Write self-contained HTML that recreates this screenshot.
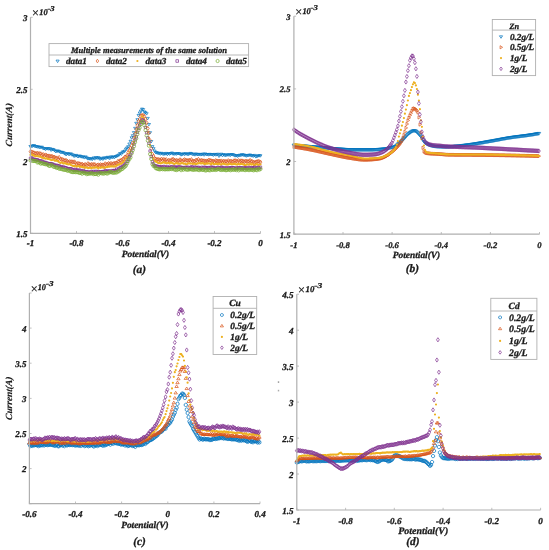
<!DOCTYPE html>
<html><head><meta charset="utf-8"><title>Figure</title>
<style>html,body{margin:0;padding:0;background:#fff;}body{width:549px;height:550px;overflow:hidden;}svg{display:block;}</style>
</head><body>
<svg width="549" height="550" viewBox="0 0 549 550"><path d="M28.9 145.5h3.1l-1.6 2.4zM30.1 145.1h3.1l-1.6 2.4zM31.2 145.1h3.1l-1.6 2.4zM32.4 144.5h3.1l-1.6 2.4zM33.5 145.4h3.1l-1.6 2.4zM34.7 145.6h3.1l-1.6 2.4zM35.8 145.9h3.1l-1.6 2.4zM37 145.9h3.1l-1.6 2.4zM38.1 146.4h3.1l-1.6 2.4zM39.3 146.4h3.1l-1.6 2.4zM40.4 146.2h3.1l-1.6 2.4zM41.6 147.4h3.1l-1.6 2.4zM42.7 147.6h3.1l-1.6 2.4zM43.9 148.2h3.1l-1.6 2.4zM45 147.7h3.1l-1.6 2.4zM46.2 147.7h3.1l-1.6 2.4zM47.3 147.9h3.1l-1.6 2.4zM48.5 147.7h3.1l-1.6 2.4zM49.6 149.1h3.1l-1.6 2.4zM50.8 148.4h3.1l-1.6 2.4zM51.9 148.7h3.1l-1.6 2.4zM53.1 149.4h3.1l-1.6 2.4zM54.2 150.5h3.1l-1.6 2.4zM55.4 150.2h3.1l-1.6 2.4zM56.5 150h3.1l-1.6 2.4zM57.7 150.4h3.1l-1.6 2.4zM58.8 151.3h3.1l-1.6 2.4zM60 151.3h3.1l-1.6 2.4zM61.1 151.4h3.1l-1.6 2.4zM62.3 151.9h3.1l-1.6 2.4zM63.4 152.7h3.1l-1.6 2.4zM64.6 153.6h3.1l-1.6 2.4zM65.7 152.5h3.1l-1.6 2.4zM66.9 153.1h3.1l-1.6 2.4zM68 153.3h3.1l-1.6 2.4zM69.2 152.8h3.1l-1.6 2.4zM70.3 153.8h3.1l-1.6 2.4zM71.5 154h3.1l-1.6 2.4zM72.6 155.2h3.1l-1.6 2.4zM73.8 154.8h3.1l-1.6 2.4zM74.9 154.4h3.1l-1.6 2.4zM76.1 155.6h3.1l-1.6 2.4zM77.2 155.4h3.1l-1.6 2.4zM78.4 155h3.1l-1.6 2.4zM79.5 155.7h3.1l-1.6 2.4zM80.7 155.9h3.1l-1.6 2.4zM81.8 156h3.1l-1.6 2.4zM83 156.7h3.1l-1.6 2.4zM84.1 155.9h3.1l-1.6 2.4zM85.3 156.9h3.1l-1.6 2.4zM86.4 157.7h3.1l-1.6 2.4zM87.6 157.7h3.1l-1.6 2.4zM88.7 157.9h3.1l-1.6 2.4zM89.9 157.9h3.1l-1.6 2.4zM91 158.1h3.1l-1.6 2.4zM92.2 156.9h3.1l-1.6 2.4zM93.3 157.8h3.1l-1.6 2.4zM94.5 156.6h3.1l-1.6 2.4zM95.6 157.2h3.1l-1.6 2.4zM96.8 156.6h3.1l-1.6 2.4zM97.9 157.9h3.1l-1.6 2.4zM99.1 158h3.1l-1.6 2.4zM100.2 157.3h3.1l-1.6 2.4zM101.4 158.1h3.1l-1.6 2.4zM102.5 156.9h3.1l-1.6 2.4zM103.7 157.2h3.1l-1.6 2.4zM104.8 157h3.1l-1.6 2.4zM106 156.3h3.1l-1.6 2.4zM107.1 156.8h3.1l-1.6 2.4zM108.3 157.3h3.1l-1.6 2.4zM109.4 155.8h3.1l-1.6 2.4zM110.6 156.5h3.1l-1.6 2.4zM111.7 155.9h3.1l-1.6 2.4zM112.9 156.5h3.1l-1.6 2.4zM114 155.6h3.1l-1.6 2.4zM115.2 155.2h3.1l-1.6 2.4zM116.3 154.7h3.1l-1.6 2.4zM117.5 153.9h3.1l-1.6 2.4zM118.6 152.5h3.1l-1.6 2.4zM119.8 153.1h3.1l-1.6 2.4zM120.9 151.1h3.1l-1.6 2.4zM122.1 150.9h3.1l-1.6 2.4zM123.2 150.1h3.1l-1.6 2.4zM124.4 148.2h3.1l-1.6 2.4zM125.5 147h3.1l-1.6 2.4zM126.7 145.7h3.1l-1.6 2.4zM127.8 143h3.1l-1.6 2.4zM129 140.3h3.1l-1.6 2.4zM130.1 136.8h3.1l-1.6 2.4zM131.3 134.7h3.1l-1.6 2.4zM132.4 131.6h3.1l-1.6 2.4zM133.6 127.3h3.1l-1.6 2.4zM134.7 122.3h3.1l-1.6 2.4zM135.9 118.7h3.1l-1.6 2.4zM137 114.4h3.1l-1.6 2.4zM138.2 112h3.1l-1.6 2.4zM139.3 110.1h3.1l-1.6 2.4zM140.5 108.1h3.1l-1.6 2.4zM141.6 108.6h3.1l-1.6 2.4zM142.8 110.9h3.1l-1.6 2.4zM143.9 111.7h3.1l-1.6 2.4zM145.1 112.7h3.1l-1.6 2.4zM146.2 117.4h3.1l-1.6 2.4zM147.4 123.5h3.1l-1.6 2.4zM148.5 131.7h3.1l-1.6 2.4zM149.7 140.5h3.1l-1.6 2.4zM150.8 145.6h3.1l-1.6 2.4zM152 147.7h3.1l-1.6 2.4zM153.1 150.1h3.1l-1.6 2.4zM154.3 151.6h3.1l-1.6 2.4zM155.4 151.8h3.1l-1.6 2.4zM156.6 152.3h3.1l-1.6 2.4zM157.7 152.3h3.1l-1.6 2.4zM158.9 152.9h3.1l-1.6 2.4zM160 152.3h3.1l-1.6 2.4zM161.2 152.9h3.1l-1.6 2.4zM162.3 153.1h3.1l-1.6 2.4zM163.5 152.9h3.1l-1.6 2.4zM164.6 152.4h3.1l-1.6 2.4zM165.8 153.4h3.1l-1.6 2.4zM166.9 152.5h3.1l-1.6 2.4zM168.1 153h3.1l-1.6 2.4zM169.2 152.5h3.1l-1.6 2.4zM170.4 152h3.1l-1.6 2.4zM171.5 152.9h3.1l-1.6 2.4zM172.7 153h3.1l-1.6 2.4zM173.8 152.8h3.1l-1.6 2.4zM175 153h3.1l-1.6 2.4zM176.1 152.6h3.1l-1.6 2.4zM177.3 152.6h3.1l-1.6 2.4zM178.4 152.9h3.1l-1.6 2.4zM179.6 153.8h3.1l-1.6 2.4zM180.7 153.4h3.1l-1.6 2.4zM181.9 152.8h3.1l-1.6 2.4zM183 153.3h3.1l-1.6 2.4zM184.2 152.8h3.1l-1.6 2.4zM185.3 152.9h3.1l-1.6 2.4zM186.5 153.5h3.1l-1.6 2.4zM187.6 152.9h3.1l-1.6 2.4zM188.8 152.4h3.1l-1.6 2.4zM189.9 152.8h3.1l-1.6 2.4zM191.1 153.2h3.1l-1.6 2.4zM192.2 153.3h3.1l-1.6 2.4zM193.4 153.8h3.1l-1.6 2.4zM194.5 152.9h3.1l-1.6 2.4zM195.7 153.6h3.1l-1.6 2.4zM196.8 153.5h3.1l-1.6 2.4zM198 153.3h3.1l-1.6 2.4zM199.1 153.7h3.1l-1.6 2.4zM200.3 153.6h3.1l-1.6 2.4zM201.4 153h3.1l-1.6 2.4zM202.6 153.9h3.1l-1.6 2.4zM203.7 152.9h3.1l-1.6 2.4zM204.9 153.5h3.1l-1.6 2.4zM206 153.5h3.1l-1.6 2.4zM207.2 153.8h3.1l-1.6 2.4zM208.3 153.3h3.1l-1.6 2.4zM209.5 153.6h3.1l-1.6 2.4zM210.6 153.6h3.1l-1.6 2.4zM211.8 154.1h3.1l-1.6 2.4zM212.9 153.4h3.1l-1.6 2.4zM214.1 153.8h3.1l-1.6 2.4zM215.2 153.7h3.1l-1.6 2.4zM216.4 153.2h3.1l-1.6 2.4zM217.5 155.1h3.1l-1.6 2.4zM218.7 153.8h3.1l-1.6 2.4zM219.8 153.2h3.1l-1.6 2.4zM221 154.6h3.1l-1.6 2.4zM222.1 153.5h3.1l-1.6 2.4zM223.3 154.2h3.1l-1.6 2.4zM224.4 154.4h3.1l-1.6 2.4zM225.6 153.8h3.1l-1.6 2.4zM226.7 153.9h3.1l-1.6 2.4zM227.9 153.9h3.1l-1.6 2.4zM229 154.1h3.1l-1.6 2.4zM230.2 153.5h3.1l-1.6 2.4zM231.3 153.7h3.1l-1.6 2.4zM232.5 154.2h3.1l-1.6 2.4zM233.6 154.8h3.1l-1.6 2.4zM234.8 154.6h3.1l-1.6 2.4zM235.9 155.1h3.1l-1.6 2.4zM237.1 154.7h3.1l-1.6 2.4zM238.2 154.2h3.1l-1.6 2.4zM239.4 154.4h3.1l-1.6 2.4zM240.5 153.6h3.1l-1.6 2.4zM241.7 154.1h3.1l-1.6 2.4zM242.8 154.1h3.1l-1.6 2.4zM244 154.7h3.1l-1.6 2.4zM245.1 154.9h3.1l-1.6 2.4zM246.3 154.4h3.1l-1.6 2.4zM247.4 154.4h3.1l-1.6 2.4zM248.6 154h3.1l-1.6 2.4zM249.7 154.7h3.1l-1.6 2.4zM250.9 154.8h3.1l-1.6 2.4zM252 155h3.1l-1.6 2.4zM253.2 154.4h3.1l-1.6 2.4zM254.3 155.7h3.1l-1.6 2.4zM255.5 155.4h3.1l-1.6 2.4zM256.6 154.8h3.1l-1.6 2.4zM257.8 154.7h3.1l-1.6 2.4zM258.9 154.8h3.1l-1.6 2.4z" stroke="#0072BD" stroke-width="0.7" fill="none"/>
<path d="M30.5 149.7l1.4 2 -1.4 2 -1.4 -2zM31.6 149.9l1.4 2 -1.4 2 -1.4 -2zM32.8 150.4l1.4 2 -1.4 2 -1.4 -2zM33.9 150.8l1.4 2 -1.4 2 -1.4 -2zM35.1 151.3l1.4 2 -1.4 2 -1.4 -2zM36.2 151.5l1.4 2 -1.4 2 -1.4 -2zM37.4 151.2l1.4 2 -1.4 2 -1.4 -2zM38.5 151.7l1.4 2 -1.4 2 -1.4 -2zM39.7 151.6l1.4 2 -1.4 2 -1.4 -2zM40.8 151.8l1.4 2 -1.4 2 -1.4 -2zM42 153.2l1.4 2 -1.4 2 -1.4 -2zM43.1 152.4l1.4 2 -1.4 2 -1.4 -2zM44.3 153.7l1.4 2 -1.4 2 -1.4 -2zM45.4 152.9l1.4 2 -1.4 2 -1.4 -2zM46.6 153.4l1.4 2 -1.4 2 -1.4 -2zM47.7 154.1l1.4 2 -1.4 2 -1.4 -2zM48.9 153.9l1.4 2 -1.4 2 -1.4 -2zM50 154.3l1.4 2 -1.4 2 -1.4 -2zM51.2 154.3l1.4 2 -1.4 2 -1.4 -2zM52.3 154.5l1.4 2 -1.4 2 -1.4 -2zM53.5 155l1.4 2 -1.4 2 -1.4 -2zM54.6 155.1l1.4 2 -1.4 2 -1.4 -2zM55.8 156.4l1.4 2 -1.4 2 -1.4 -2zM56.9 155.9l1.4 2 -1.4 2 -1.4 -2zM58.1 157.1l1.4 2 -1.4 2 -1.4 -2zM59.2 155.4l1.4 2 -1.4 2 -1.4 -2zM60.4 157l1.4 2 -1.4 2 -1.4 -2zM61.5 157.5l1.4 2 -1.4 2 -1.4 -2zM62.7 157.5l1.4 2 -1.4 2 -1.4 -2zM63.8 158.4l1.4 2 -1.4 2 -1.4 -2zM65 158.5l1.4 2 -1.4 2 -1.4 -2zM66.1 158.4l1.4 2 -1.4 2 -1.4 -2zM67.3 159.1l1.4 2 -1.4 2 -1.4 -2zM68.4 160.4l1.4 2 -1.4 2 -1.4 -2zM69.6 159.6l1.4 2 -1.4 2 -1.4 -2zM70.7 159.8l1.4 2 -1.4 2 -1.4 -2zM71.9 159.7l1.4 2 -1.4 2 -1.4 -2zM73 160.2l1.4 2 -1.4 2 -1.4 -2zM74.2 159.8l1.4 2 -1.4 2 -1.4 -2zM75.3 160.6l1.4 2 -1.4 2 -1.4 -2zM76.5 162l1.4 2 -1.4 2 -1.4 -2zM77.6 161.5l1.4 2 -1.4 2 -1.4 -2zM78.8 161.5l1.4 2 -1.4 2 -1.4 -2zM79.9 161.9l1.4 2 -1.4 2 -1.4 -2zM81.1 162.5l1.4 2 -1.4 2 -1.4 -2zM82.2 162.1l1.4 2 -1.4 2 -1.4 -2zM83.4 163l1.4 2 -1.4 2 -1.4 -2zM84.5 162.7l1.4 2 -1.4 2 -1.4 -2zM85.7 162.5l1.4 2 -1.4 2 -1.4 -2zM86.8 163.3l1.4 2 -1.4 2 -1.4 -2zM88 161.6l1.4 2 -1.4 2 -1.4 -2zM89.1 162.5l1.4 2 -1.4 2 -1.4 -2zM90.3 162.9l1.4 2 -1.4 2 -1.4 -2zM91.4 162.4l1.4 2 -1.4 2 -1.4 -2zM92.6 162.7l1.4 2 -1.4 2 -1.4 -2zM93.7 162.5l1.4 2 -1.4 2 -1.4 -2zM94.9 162.5l1.4 2 -1.4 2 -1.4 -2zM96 164l1.4 2 -1.4 2 -1.4 -2zM97.2 163.1l1.4 2 -1.4 2 -1.4 -2zM98.3 162.8l1.4 2 -1.4 2 -1.4 -2zM99.5 163.4l1.4 2 -1.4 2 -1.4 -2zM100.6 162.6l1.4 2 -1.4 2 -1.4 -2zM101.8 163.1l1.4 2 -1.4 2 -1.4 -2zM102.9 162.8l1.4 2 -1.4 2 -1.4 -2zM104.1 163.2l1.4 2 -1.4 2 -1.4 -2zM105.2 161.7l1.4 2 -1.4 2 -1.4 -2zM106.4 162.6l1.4 2 -1.4 2 -1.4 -2zM107.5 162.2l1.4 2 -1.4 2 -1.4 -2zM108.7 161.4l1.4 2 -1.4 2 -1.4 -2zM109.8 162.3l1.4 2 -1.4 2 -1.4 -2zM111 161.3l1.4 2 -1.4 2 -1.4 -2zM112.1 162.3l1.4 2 -1.4 2 -1.4 -2zM113.3 161.6l1.4 2 -1.4 2 -1.4 -2zM114.4 161.5l1.4 2 -1.4 2 -1.4 -2zM115.6 161l1.4 2 -1.4 2 -1.4 -2zM116.7 161l1.4 2 -1.4 2 -1.4 -2zM117.9 159.3l1.4 2 -1.4 2 -1.4 -2zM119 159.6l1.4 2 -1.4 2 -1.4 -2zM120.2 158.6l1.4 2 -1.4 2 -1.4 -2zM121.3 158.4l1.4 2 -1.4 2 -1.4 -2zM122.5 157.4l1.4 2 -1.4 2 -1.4 -2zM123.6 156.8l1.4 2 -1.4 2 -1.4 -2zM124.8 155.1l1.4 2 -1.4 2 -1.4 -2zM125.9 154.9l1.4 2 -1.4 2 -1.4 -2zM127.1 153.4l1.4 2 -1.4 2 -1.4 -2zM128.2 150.4l1.4 2 -1.4 2 -1.4 -2zM129.4 148.4l1.4 2 -1.4 2 -1.4 -2zM130.5 146.2l1.4 2 -1.4 2 -1.4 -2zM131.7 143.7l1.4 2 -1.4 2 -1.4 -2zM132.8 140.9l1.4 2 -1.4 2 -1.4 -2zM134 136l1.4 2 -1.4 2 -1.4 -2zM135.1 131.9l1.4 2 -1.4 2 -1.4 -2zM136.3 127.3l1.4 2 -1.4 2 -1.4 -2zM137.4 123.2l1.4 2 -1.4 2 -1.4 -2zM138.6 119.2l1.4 2 -1.4 2 -1.4 -2zM139.7 117.1l1.4 2 -1.4 2 -1.4 -2zM140.9 113.8l1.4 2 -1.4 2 -1.4 -2zM142 113.3l1.4 2 -1.4 2 -1.4 -2zM143.2 113.4l1.4 2 -1.4 2 -1.4 -2zM144.3 114.3l1.4 2 -1.4 2 -1.4 -2zM145.5 117.1l1.4 2 -1.4 2 -1.4 -2zM146.6 120.7l1.4 2 -1.4 2 -1.4 -2zM147.8 126.4l1.4 2 -1.4 2 -1.4 -2zM148.9 130.9l1.4 2 -1.4 2 -1.4 -2zM150.1 138.5l1.4 2 -1.4 2 -1.4 -2zM151.2 146.7l1.4 2 -1.4 2 -1.4 -2zM152.4 152.2l1.4 2 -1.4 2 -1.4 -2zM153.5 154l1.4 2 -1.4 2 -1.4 -2zM154.7 156.5l1.4 2 -1.4 2 -1.4 -2zM155.8 157l1.4 2 -1.4 2 -1.4 -2zM157 157.6l1.4 2 -1.4 2 -1.4 -2zM158.1 157.3l1.4 2 -1.4 2 -1.4 -2zM159.3 157.8l1.4 2 -1.4 2 -1.4 -2zM160.4 157.9l1.4 2 -1.4 2 -1.4 -2zM161.6 157l1.4 2 -1.4 2 -1.4 -2zM162.7 158.2l1.4 2 -1.4 2 -1.4 -2zM163.9 157.3l1.4 2 -1.4 2 -1.4 -2zM165 158.1l1.4 2 -1.4 2 -1.4 -2zM166.2 157.5l1.4 2 -1.4 2 -1.4 -2zM167.3 159.1l1.4 2 -1.4 2 -1.4 -2zM168.5 158.3l1.4 2 -1.4 2 -1.4 -2zM169.6 158.6l1.4 2 -1.4 2 -1.4 -2zM170.8 158.6l1.4 2 -1.4 2 -1.4 -2zM171.9 157.7l1.4 2 -1.4 2 -1.4 -2zM173.1 157.2l1.4 2 -1.4 2 -1.4 -2zM174.2 158.1l1.4 2 -1.4 2 -1.4 -2zM175.4 158.7l1.4 2 -1.4 2 -1.4 -2zM176.5 158.4l1.4 2 -1.4 2 -1.4 -2zM177.7 158.7l1.4 2 -1.4 2 -1.4 -2zM178.8 158.8l1.4 2 -1.4 2 -1.4 -2zM180 157.7l1.4 2 -1.4 2 -1.4 -2zM181.1 158.5l1.4 2 -1.4 2 -1.4 -2zM182.3 159.3l1.4 2 -1.4 2 -1.4 -2zM183.4 158.2l1.4 2 -1.4 2 -1.4 -2zM184.6 157.6l1.4 2 -1.4 2 -1.4 -2zM185.7 158.4l1.4 2 -1.4 2 -1.4 -2zM186.9 158.3l1.4 2 -1.4 2 -1.4 -2zM188 158.7l1.4 2 -1.4 2 -1.4 -2zM189.2 158.1l1.4 2 -1.4 2 -1.4 -2zM190.3 158.6l1.4 2 -1.4 2 -1.4 -2zM191.5 157.6l1.4 2 -1.4 2 -1.4 -2zM192.6 159l1.4 2 -1.4 2 -1.4 -2zM193.8 159.3l1.4 2 -1.4 2 -1.4 -2zM194.9 159.2l1.4 2 -1.4 2 -1.4 -2zM196.1 158l1.4 2 -1.4 2 -1.4 -2zM197.2 158.8l1.4 2 -1.4 2 -1.4 -2zM198.4 157.3l1.4 2 -1.4 2 -1.4 -2zM199.5 158.8l1.4 2 -1.4 2 -1.4 -2zM200.7 158.7l1.4 2 -1.4 2 -1.4 -2zM201.8 158.3l1.4 2 -1.4 2 -1.4 -2zM203 158.9l1.4 2 -1.4 2 -1.4 -2zM204.1 158.8l1.4 2 -1.4 2 -1.4 -2zM205.3 159.2l1.4 2 -1.4 2 -1.4 -2zM206.4 158.9l1.4 2 -1.4 2 -1.4 -2zM207.6 159l1.4 2 -1.4 2 -1.4 -2zM208.7 158l1.4 2 -1.4 2 -1.4 -2zM209.9 158.4l1.4 2 -1.4 2 -1.4 -2zM211 158.7l1.4 2 -1.4 2 -1.4 -2zM212.2 159.1l1.4 2 -1.4 2 -1.4 -2zM213.3 159l1.4 2 -1.4 2 -1.4 -2zM214.5 159.7l1.4 2 -1.4 2 -1.4 -2zM215.6 158.6l1.4 2 -1.4 2 -1.4 -2zM216.8 158.9l1.4 2 -1.4 2 -1.4 -2zM217.9 159.2l1.4 2 -1.4 2 -1.4 -2zM219.1 159l1.4 2 -1.4 2 -1.4 -2zM220.2 159.3l1.4 2 -1.4 2 -1.4 -2zM221.4 158.9l1.4 2 -1.4 2 -1.4 -2zM222.5 159.8l1.4 2 -1.4 2 -1.4 -2zM223.7 159l1.4 2 -1.4 2 -1.4 -2zM224.8 159.7l1.4 2 -1.4 2 -1.4 -2zM226 159.2l1.4 2 -1.4 2 -1.4 -2zM227.1 159.9l1.4 2 -1.4 2 -1.4 -2zM228.3 158.6l1.4 2 -1.4 2 -1.4 -2zM229.4 159.5l1.4 2 -1.4 2 -1.4 -2zM230.6 159.1l1.4 2 -1.4 2 -1.4 -2zM231.7 159.4l1.4 2 -1.4 2 -1.4 -2zM232.9 159.8l1.4 2 -1.4 2 -1.4 -2zM234 158.8l1.4 2 -1.4 2 -1.4 -2zM235.2 158.7l1.4 2 -1.4 2 -1.4 -2zM236.3 158.9l1.4 2 -1.4 2 -1.4 -2zM237.5 159.5l1.4 2 -1.4 2 -1.4 -2zM238.6 158.5l1.4 2 -1.4 2 -1.4 -2zM239.8 159.5l1.4 2 -1.4 2 -1.4 -2zM240.9 158.8l1.4 2 -1.4 2 -1.4 -2zM242.1 158.9l1.4 2 -1.4 2 -1.4 -2zM243.2 159.3l1.4 2 -1.4 2 -1.4 -2zM244.4 159.7l1.4 2 -1.4 2 -1.4 -2zM245.5 159.2l1.4 2 -1.4 2 -1.4 -2zM246.7 159.3l1.4 2 -1.4 2 -1.4 -2zM247.8 159.5l1.4 2 -1.4 2 -1.4 -2zM249 159.4l1.4 2 -1.4 2 -1.4 -2zM250.1 158.4l1.4 2 -1.4 2 -1.4 -2zM251.3 159.4l1.4 2 -1.4 2 -1.4 -2zM252.4 159.6l1.4 2 -1.4 2 -1.4 -2zM253.6 160.1l1.4 2 -1.4 2 -1.4 -2zM254.7 160.6l1.4 2 -1.4 2 -1.4 -2zM255.9 160l1.4 2 -1.4 2 -1.4 -2zM257 159.7l1.4 2 -1.4 2 -1.4 -2zM258.2 159.3l1.4 2 -1.4 2 -1.4 -2zM259.3 159.7l1.4 2 -1.4 2 -1.4 -2zM260.5 160.1l1.4 2 -1.4 2 -1.4 -2z" stroke="#D95319" stroke-width="0.7" fill="none"/>
<path d="M30.5 154.9h0.01M31.6 154.5h0.01M32.8 155.2h0.01M33.9 155.7h0.01M35.1 156.3h0.01M36.2 156.1h0.01M37.4 156.1h0.01M38.5 156.3h0.01M39.7 156.7h0.01M40.8 156.9h0.01M42 157.7h0.01M43.1 158.1h0.01M44.3 158.2h0.01M45.4 158.7h0.01M46.6 158.4h0.01M47.7 158.9h0.01M48.9 159h0.01M50 159.4h0.01M51.2 160.1h0.01M52.3 160h0.01M53.5 159.7h0.01M54.6 160.6h0.01M55.8 160.7h0.01M56.9 160.8h0.01M58.1 161.4h0.01M59.2 162.3h0.01M60.4 162.9h0.01M61.5 162.4h0.01M62.7 163.2h0.01M63.8 163.6h0.01M65 163.1h0.01M66.1 163.8h0.01M67.3 164.1h0.01M68.4 164.5h0.01M69.6 164.1h0.01M70.7 164.8h0.01M71.9 165.5h0.01M73 165.9h0.01M74.2 166.3h0.01M75.3 165.7h0.01M76.5 166.7h0.01M77.6 166.5h0.01M78.8 166h0.01M79.9 166.9h0.01M81.1 166.7h0.01M82.2 167.2h0.01M83.4 167.2h0.01M84.5 167.8h0.01M85.7 167.6h0.01M86.8 167.6h0.01M88 168.1h0.01M89.1 167.9h0.01M90.3 167.7h0.01M91.4 168.3h0.01M92.6 167.7h0.01M93.7 167.7h0.01M94.9 167.7h0.01M96 167.3h0.01M97.2 167.6h0.01M98.3 168.5h0.01M99.5 167.5h0.01M100.6 167.8h0.01M101.8 167.3h0.01M102.9 167.4h0.01M104.1 168h0.01M105.2 167.7h0.01M106.4 167h0.01M107.5 167.1h0.01M108.7 166.7h0.01M109.8 166.6h0.01M111 166.4h0.01M112.1 166.3h0.01M113.3 166.6h0.01M114.4 166.6h0.01M115.6 166.3h0.01M116.7 165.7h0.01M117.9 164.8h0.01M119 164.7h0.01M120.2 163.8h0.01M121.3 163.8h0.01M122.5 162.8h0.01M123.6 161.9h0.01M124.8 160.4h0.01M125.9 158.5h0.01M127.1 157.8h0.01M128.2 156h0.01M129.4 153h0.01M130.5 151.1h0.01M131.7 148.4h0.01M132.8 144.4h0.01M134 141.8h0.01M135.1 136.8h0.01M136.3 132.2h0.01M137.4 129.2h0.01M138.6 125.1h0.01M139.7 121.5h0.01M140.9 119.3h0.01M142 116.3h0.01M143.2 118.1h0.01M144.3 119.3h0.01M145.5 123.1h0.01M146.6 127h0.01M147.8 132.4h0.01M148.9 137.9h0.01M150.1 145.2h0.01M151.2 152.5h0.01M152.4 157.3h0.01M153.5 159.4h0.01M154.7 161h0.01M155.8 161.7h0.01M157 162.2h0.01M158.1 163.1h0.01M159.3 162.8h0.01M160.4 163.4h0.01M161.6 163.2h0.01M162.7 162.7h0.01M163.9 162.4h0.01M165 162.9h0.01M166.2 163.3h0.01M167.3 163.2h0.01M168.5 162.9h0.01M169.6 163.6h0.01M170.8 162.7h0.01M171.9 162.9h0.01M173.1 163.4h0.01M174.2 164.1h0.01M175.4 163.5h0.01M176.5 163.1h0.01M177.7 163.6h0.01M178.8 163.7h0.01M180 163.8h0.01M181.1 163.3h0.01M182.3 163.2h0.01M183.4 163.6h0.01M184.6 163.7h0.01M185.7 164.1h0.01M186.9 164.3h0.01M188 163.3h0.01M189.2 163.4h0.01M190.3 163.6h0.01M191.5 163.5h0.01M192.6 163.8h0.01M193.8 163.8h0.01M194.9 163.8h0.01M196.1 164.2h0.01M197.2 163.7h0.01M198.4 163.4h0.01M199.5 163.2h0.01M200.7 163.4h0.01M201.8 163.4h0.01M203 163.1h0.01M204.1 164h0.01M205.3 163.9h0.01M206.4 163.7h0.01M207.6 163.6h0.01M208.7 163.3h0.01M209.9 163.6h0.01M211 164.6h0.01M212.2 163.2h0.01M213.3 164h0.01M214.5 164.2h0.01M215.6 164h0.01M216.8 163.9h0.01M217.9 164.3h0.01M219.1 163.7h0.01M220.2 164.3h0.01M221.4 164.6h0.01M222.5 163.7h0.01M223.7 163.8h0.01M224.8 164.2h0.01M226 164.5h0.01M227.1 164.6h0.01M228.3 164.4h0.01M229.4 163.9h0.01M230.6 163.8h0.01M231.7 164.3h0.01M232.9 164.3h0.01M234 163.8h0.01M235.2 164.2h0.01M236.3 164.4h0.01M237.5 164.6h0.01M238.6 163.9h0.01M239.8 164.5h0.01M240.9 163.9h0.01M242.1 164.1h0.01M243.2 164.3h0.01M244.4 164.9h0.01M245.5 165.5h0.01M246.7 164.4h0.01M247.8 164.5h0.01M249 164.7h0.01M250.1 163.9h0.01M251.3 164.7h0.01M252.4 164h0.01M253.6 165h0.01M254.7 164.9h0.01M255.9 164.6h0.01M257 164.2h0.01M258.2 165h0.01M259.3 164.6h0.01M260.5 164.5h0.01" stroke="#EDB120" stroke-width="2.2" stroke-linecap="round" fill="none"/>
<path d="M29.3 157.1h2.4v2.4h-2.4zM30.4 156.6h2.4v2.4h-2.4zM31.6 157.7h2.4v2.4h-2.4zM32.7 158.2h2.4v2.4h-2.4zM33.9 158.3h2.4v2.4h-2.4zM35 158.6h2.4v2.4h-2.4zM36.2 158.5h2.4v2.4h-2.4zM37.3 159.4h2.4v2.4h-2.4zM38.5 159.6h2.4v2.4h-2.4zM39.6 159.8h2.4v2.4h-2.4zM40.8 159.9h2.4v2.4h-2.4zM41.9 160.7h2.4v2.4h-2.4zM43.1 161.2h2.4v2.4h-2.4zM44.2 161.2h2.4v2.4h-2.4zM45.4 161.7h2.4v2.4h-2.4zM46.5 162.1h2.4v2.4h-2.4zM47.7 162.5h2.4v2.4h-2.4zM48.8 162.4h2.4v2.4h-2.4zM50 162.5h2.4v2.4h-2.4zM51.1 162.8h2.4v2.4h-2.4zM52.3 163.3h2.4v2.4h-2.4zM53.4 163.8h2.4v2.4h-2.4zM54.6 164.3h2.4v2.4h-2.4zM55.7 164.1h2.4v2.4h-2.4zM56.9 164.7h2.4v2.4h-2.4zM58 164.6h2.4v2.4h-2.4zM59.2 165.7h2.4v2.4h-2.4zM60.3 165.4h2.4v2.4h-2.4zM61.5 166h2.4v2.4h-2.4zM62.6 165.9h2.4v2.4h-2.4zM63.8 166.4h2.4v2.4h-2.4zM64.9 166.5h2.4v2.4h-2.4zM66.1 167.6h2.4v2.4h-2.4zM67.2 167.4h2.4v2.4h-2.4zM68.4 167.5h2.4v2.4h-2.4zM69.5 167.5h2.4v2.4h-2.4zM70.7 167.9h2.4v2.4h-2.4zM71.8 168.5h2.4v2.4h-2.4zM73 169.1h2.4v2.4h-2.4zM74.1 168.2h2.4v2.4h-2.4zM75.3 168.6h2.4v2.4h-2.4zM76.4 169.1h2.4v2.4h-2.4zM77.6 169.1h2.4v2.4h-2.4zM78.7 168.9h2.4v2.4h-2.4zM79.9 169.7h2.4v2.4h-2.4zM81 170.1h2.4v2.4h-2.4zM82.2 169.4h2.4v2.4h-2.4zM83.3 170.2h2.4v2.4h-2.4zM84.5 170.6h2.4v2.4h-2.4zM85.6 170.7h2.4v2.4h-2.4zM86.8 170.4h2.4v2.4h-2.4zM87.9 171.4h2.4v2.4h-2.4zM89.1 170.8h2.4v2.4h-2.4zM90.2 170.3h2.4v2.4h-2.4zM91.4 170.9h2.4v2.4h-2.4zM92.5 170.2h2.4v2.4h-2.4zM93.7 170.8h2.4v2.4h-2.4zM94.8 170.1h2.4v2.4h-2.4zM96 170.8h2.4v2.4h-2.4zM97.1 170.3h2.4v2.4h-2.4zM98.3 170.8h2.4v2.4h-2.4zM99.4 170.6h2.4v2.4h-2.4zM100.6 170.5h2.4v2.4h-2.4zM101.7 170.3h2.4v2.4h-2.4zM102.9 170.5h2.4v2.4h-2.4zM104 169.4h2.4v2.4h-2.4zM105.2 170h2.4v2.4h-2.4zM106.3 169.9h2.4v2.4h-2.4zM107.5 169.8h2.4v2.4h-2.4zM108.6 169.8h2.4v2.4h-2.4zM109.8 170.7h2.4v2.4h-2.4zM110.9 169.4h2.4v2.4h-2.4zM112.1 169.5h2.4v2.4h-2.4zM113.2 169.2h2.4v2.4h-2.4zM114.4 169.5h2.4v2.4h-2.4zM115.5 167.9h2.4v2.4h-2.4zM116.7 168.8h2.4v2.4h-2.4zM117.8 167.4h2.4v2.4h-2.4zM119 166.3h2.4v2.4h-2.4zM120.1 166h2.4v2.4h-2.4zM121.3 165.4h2.4v2.4h-2.4zM122.4 164.6h2.4v2.4h-2.4zM123.6 163.3h2.4v2.4h-2.4zM124.7 162.2h2.4v2.4h-2.4zM125.9 160.1h2.4v2.4h-2.4zM127 158.2h2.4v2.4h-2.4zM128.2 155.4h2.4v2.4h-2.4zM129.3 153.9h2.4v2.4h-2.4zM130.5 150.8h2.4v2.4h-2.4zM131.6 147h2.4v2.4h-2.4zM132.8 142.8h2.4v2.4h-2.4zM133.9 138.7h2.4v2.4h-2.4zM135.1 135.6h2.4v2.4h-2.4zM136.2 131.1h2.4v2.4h-2.4zM137.4 127.3h2.4v2.4h-2.4zM138.5 123.8h2.4v2.4h-2.4zM139.7 121.3h2.4v2.4h-2.4zM140.8 118.7h2.4v2.4h-2.4zM142 119.1h2.4v2.4h-2.4zM143.1 121.4h2.4v2.4h-2.4zM144.3 126.1h2.4v2.4h-2.4zM145.4 131.5h2.4v2.4h-2.4zM146.6 136.6h2.4v2.4h-2.4zM147.7 142.1h2.4v2.4h-2.4zM148.9 149.8h2.4v2.4h-2.4zM150 155.4h2.4v2.4h-2.4zM151.2 160.6h2.4v2.4h-2.4zM152.3 162.8h2.4v2.4h-2.4zM153.5 164.5h2.4v2.4h-2.4zM154.6 164.9h2.4v2.4h-2.4zM155.8 164.9h2.4v2.4h-2.4zM156.9 165.4h2.4v2.4h-2.4zM158.1 165.5h2.4v2.4h-2.4zM159.2 165.8h2.4v2.4h-2.4zM160.4 165.7h2.4v2.4h-2.4zM161.5 165.9h2.4v2.4h-2.4zM162.7 165.2h2.4v2.4h-2.4zM163.8 165.9h2.4v2.4h-2.4zM165 166.3h2.4v2.4h-2.4zM166.1 165.4h2.4v2.4h-2.4zM167.3 166.5h2.4v2.4h-2.4zM168.4 166h2.4v2.4h-2.4zM169.6 165.9h2.4v2.4h-2.4zM170.7 165.4h2.4v2.4h-2.4zM171.9 166.4h2.4v2.4h-2.4zM173 165.7h2.4v2.4h-2.4zM174.2 165.9h2.4v2.4h-2.4zM175.3 166.3h2.4v2.4h-2.4zM176.5 165.8h2.4v2.4h-2.4zM177.6 165.8h2.4v2.4h-2.4zM178.8 165.8h2.4v2.4h-2.4zM179.9 166.1h2.4v2.4h-2.4zM181.1 166.4h2.4v2.4h-2.4zM182.2 166.4h2.4v2.4h-2.4zM183.4 166.4h2.4v2.4h-2.4zM184.5 166.1h2.4v2.4h-2.4zM185.7 166.3h2.4v2.4h-2.4zM186.8 166h2.4v2.4h-2.4zM188 167h2.4v2.4h-2.4zM189.1 166.4h2.4v2.4h-2.4zM190.3 165.6h2.4v2.4h-2.4zM191.4 165.9h2.4v2.4h-2.4zM192.6 166.9h2.4v2.4h-2.4zM193.7 165.9h2.4v2.4h-2.4zM194.9 166.2h2.4v2.4h-2.4zM196 166.5h2.4v2.4h-2.4zM197.2 166h2.4v2.4h-2.4zM198.3 166.8h2.4v2.4h-2.4zM199.5 167h2.4v2.4h-2.4zM200.6 166.1h2.4v2.4h-2.4zM201.8 166.8h2.4v2.4h-2.4zM202.9 166.1h2.4v2.4h-2.4zM204.1 166.1h2.4v2.4h-2.4zM205.2 166.6h2.4v2.4h-2.4zM206.4 166.6h2.4v2.4h-2.4zM207.5 166.3h2.4v2.4h-2.4zM208.7 166.8h2.4v2.4h-2.4zM209.8 166h2.4v2.4h-2.4zM211 166.2h2.4v2.4h-2.4zM212.1 166.2h2.4v2.4h-2.4zM213.3 166.8h2.4v2.4h-2.4zM214.4 166.9h2.4v2.4h-2.4zM215.6 166.8h2.4v2.4h-2.4zM216.7 166.1h2.4v2.4h-2.4zM217.9 166.7h2.4v2.4h-2.4zM219 166.8h2.4v2.4h-2.4zM220.2 166.1h2.4v2.4h-2.4zM221.3 166.3h2.4v2.4h-2.4zM222.5 166.9h2.4v2.4h-2.4zM223.6 166.9h2.4v2.4h-2.4zM224.8 166.7h2.4v2.4h-2.4zM225.9 166.9h2.4v2.4h-2.4zM227.1 166.8h2.4v2.4h-2.4zM228.2 166.7h2.4v2.4h-2.4zM229.4 166.6h2.4v2.4h-2.4zM230.5 166.4h2.4v2.4h-2.4zM231.7 166.6h2.4v2.4h-2.4zM232.8 166.5h2.4v2.4h-2.4zM234 167.5h2.4v2.4h-2.4zM235.1 166.8h2.4v2.4h-2.4zM236.3 166.7h2.4v2.4h-2.4zM237.4 166.6h2.4v2.4h-2.4zM238.6 166.7h2.4v2.4h-2.4zM239.7 166.6h2.4v2.4h-2.4zM240.9 166.9h2.4v2.4h-2.4zM242 166.7h2.4v2.4h-2.4zM243.2 167h2.4v2.4h-2.4zM244.3 166.5h2.4v2.4h-2.4zM245.5 166.9h2.4v2.4h-2.4zM246.6 167h2.4v2.4h-2.4zM247.8 166.3h2.4v2.4h-2.4zM248.9 166.8h2.4v2.4h-2.4zM250.1 166.8h2.4v2.4h-2.4zM251.2 166.6h2.4v2.4h-2.4zM252.4 166.6h2.4v2.4h-2.4zM253.5 166.1h2.4v2.4h-2.4zM254.7 167.2h2.4v2.4h-2.4zM255.8 166.4h2.4v2.4h-2.4zM257 166.3h2.4v2.4h-2.4zM258.1 167h2.4v2.4h-2.4zM259.3 166.1h2.4v2.4h-2.4z" stroke="#7E2F8E" stroke-width="0.7" fill="none"/>
<path d="M28.9 160.4a1.6 1.6 0 1 0 3.2 0a1.6 1.6 0 1 0 -3.2 0M30 160.5a1.6 1.6 0 1 0 3.2 0a1.6 1.6 0 1 0 -3.2 0M31.2 160.9a1.6 1.6 0 1 0 3.2 0a1.6 1.6 0 1 0 -3.2 0M32.3 161a1.6 1.6 0 1 0 3.2 0a1.6 1.6 0 1 0 -3.2 0M33.5 160.9a1.6 1.6 0 1 0 3.2 0a1.6 1.6 0 1 0 -3.2 0M34.6 161a1.6 1.6 0 1 0 3.2 0a1.6 1.6 0 1 0 -3.2 0M35.8 162.6a1.6 1.6 0 1 0 3.2 0a1.6 1.6 0 1 0 -3.2 0M36.9 162.2a1.6 1.6 0 1 0 3.2 0a1.6 1.6 0 1 0 -3.2 0M38.1 162.5a1.6 1.6 0 1 0 3.2 0a1.6 1.6 0 1 0 -3.2 0M39.2 163.7a1.6 1.6 0 1 0 3.2 0a1.6 1.6 0 1 0 -3.2 0M40.4 163.1a1.6 1.6 0 1 0 3.2 0a1.6 1.6 0 1 0 -3.2 0M41.5 163.6a1.6 1.6 0 1 0 3.2 0a1.6 1.6 0 1 0 -3.2 0M42.7 163.9a1.6 1.6 0 1 0 3.2 0a1.6 1.6 0 1 0 -3.2 0M43.8 164.3a1.6 1.6 0 1 0 3.2 0a1.6 1.6 0 1 0 -3.2 0M45 164.2a1.6 1.6 0 1 0 3.2 0a1.6 1.6 0 1 0 -3.2 0M46.1 164.7a1.6 1.6 0 1 0 3.2 0a1.6 1.6 0 1 0 -3.2 0M47.3 165.8a1.6 1.6 0 1 0 3.2 0a1.6 1.6 0 1 0 -3.2 0M48.4 165.9a1.6 1.6 0 1 0 3.2 0a1.6 1.6 0 1 0 -3.2 0M49.6 164.8a1.6 1.6 0 1 0 3.2 0a1.6 1.6 0 1 0 -3.2 0M50.7 165.5a1.6 1.6 0 1 0 3.2 0a1.6 1.6 0 1 0 -3.2 0M51.9 166.8a1.6 1.6 0 1 0 3.2 0a1.6 1.6 0 1 0 -3.2 0M53 166.9a1.6 1.6 0 1 0 3.2 0a1.6 1.6 0 1 0 -3.2 0M54.2 167.2a1.6 1.6 0 1 0 3.2 0a1.6 1.6 0 1 0 -3.2 0M55.3 168.1a1.6 1.6 0 1 0 3.2 0a1.6 1.6 0 1 0 -3.2 0M56.5 167.3a1.6 1.6 0 1 0 3.2 0a1.6 1.6 0 1 0 -3.2 0M57.6 168.8a1.6 1.6 0 1 0 3.2 0a1.6 1.6 0 1 0 -3.2 0M58.8 168.7a1.6 1.6 0 1 0 3.2 0a1.6 1.6 0 1 0 -3.2 0M59.9 169.1a1.6 1.6 0 1 0 3.2 0a1.6 1.6 0 1 0 -3.2 0M61.1 169.3a1.6 1.6 0 1 0 3.2 0a1.6 1.6 0 1 0 -3.2 0M62.2 169.9a1.6 1.6 0 1 0 3.2 0a1.6 1.6 0 1 0 -3.2 0M63.4 169.7a1.6 1.6 0 1 0 3.2 0a1.6 1.6 0 1 0 -3.2 0M64.5 169.9a1.6 1.6 0 1 0 3.2 0a1.6 1.6 0 1 0 -3.2 0M65.7 170.7a1.6 1.6 0 1 0 3.2 0a1.6 1.6 0 1 0 -3.2 0M66.8 170.7a1.6 1.6 0 1 0 3.2 0a1.6 1.6 0 1 0 -3.2 0M68 170.4a1.6 1.6 0 1 0 3.2 0a1.6 1.6 0 1 0 -3.2 0M69.1 171.7a1.6 1.6 0 1 0 3.2 0a1.6 1.6 0 1 0 -3.2 0M70.3 171.9a1.6 1.6 0 1 0 3.2 0a1.6 1.6 0 1 0 -3.2 0M71.4 172.2a1.6 1.6 0 1 0 3.2 0a1.6 1.6 0 1 0 -3.2 0M72.6 171.9a1.6 1.6 0 1 0 3.2 0a1.6 1.6 0 1 0 -3.2 0M73.7 172.2a1.6 1.6 0 1 0 3.2 0a1.6 1.6 0 1 0 -3.2 0M74.9 172.1a1.6 1.6 0 1 0 3.2 0a1.6 1.6 0 1 0 -3.2 0M76 172.1a1.6 1.6 0 1 0 3.2 0a1.6 1.6 0 1 0 -3.2 0M77.2 172.7a1.6 1.6 0 1 0 3.2 0a1.6 1.6 0 1 0 -3.2 0M78.3 172.9a1.6 1.6 0 1 0 3.2 0a1.6 1.6 0 1 0 -3.2 0M79.5 172.7a1.6 1.6 0 1 0 3.2 0a1.6 1.6 0 1 0 -3.2 0M80.6 173.8a1.6 1.6 0 1 0 3.2 0a1.6 1.6 0 1 0 -3.2 0M81.8 172.6a1.6 1.6 0 1 0 3.2 0a1.6 1.6 0 1 0 -3.2 0M82.9 173.1a1.6 1.6 0 1 0 3.2 0a1.6 1.6 0 1 0 -3.2 0M84.1 173.3a1.6 1.6 0 1 0 3.2 0a1.6 1.6 0 1 0 -3.2 0M85.2 174.2a1.6 1.6 0 1 0 3.2 0a1.6 1.6 0 1 0 -3.2 0M86.4 173.6a1.6 1.6 0 1 0 3.2 0a1.6 1.6 0 1 0 -3.2 0M87.5 173.7a1.6 1.6 0 1 0 3.2 0a1.6 1.6 0 1 0 -3.2 0M88.7 173.4a1.6 1.6 0 1 0 3.2 0a1.6 1.6 0 1 0 -3.2 0M89.8 173.5a1.6 1.6 0 1 0 3.2 0a1.6 1.6 0 1 0 -3.2 0M91 173.3a1.6 1.6 0 1 0 3.2 0a1.6 1.6 0 1 0 -3.2 0M92.1 174.2a1.6 1.6 0 1 0 3.2 0a1.6 1.6 0 1 0 -3.2 0M93.3 174a1.6 1.6 0 1 0 3.2 0a1.6 1.6 0 1 0 -3.2 0M94.4 174.1a1.6 1.6 0 1 0 3.2 0a1.6 1.6 0 1 0 -3.2 0M95.6 173.4a1.6 1.6 0 1 0 3.2 0a1.6 1.6 0 1 0 -3.2 0M96.7 174.7a1.6 1.6 0 1 0 3.2 0a1.6 1.6 0 1 0 -3.2 0M97.9 173.2a1.6 1.6 0 1 0 3.2 0a1.6 1.6 0 1 0 -3.2 0M99 172.8a1.6 1.6 0 1 0 3.2 0a1.6 1.6 0 1 0 -3.2 0M100.2 173.4a1.6 1.6 0 1 0 3.2 0a1.6 1.6 0 1 0 -3.2 0M101.3 173.5a1.6 1.6 0 1 0 3.2 0a1.6 1.6 0 1 0 -3.2 0M102.5 173.6a1.6 1.6 0 1 0 3.2 0a1.6 1.6 0 1 0 -3.2 0M103.6 172.8a1.6 1.6 0 1 0 3.2 0a1.6 1.6 0 1 0 -3.2 0M104.8 173.3a1.6 1.6 0 1 0 3.2 0a1.6 1.6 0 1 0 -3.2 0M105.9 173.6a1.6 1.6 0 1 0 3.2 0a1.6 1.6 0 1 0 -3.2 0M107.1 172.5a1.6 1.6 0 1 0 3.2 0a1.6 1.6 0 1 0 -3.2 0M108.2 172.4a1.6 1.6 0 1 0 3.2 0a1.6 1.6 0 1 0 -3.2 0M109.4 171.9a1.6 1.6 0 1 0 3.2 0a1.6 1.6 0 1 0 -3.2 0M110.5 172.6a1.6 1.6 0 1 0 3.2 0a1.6 1.6 0 1 0 -3.2 0M111.7 172.8a1.6 1.6 0 1 0 3.2 0a1.6 1.6 0 1 0 -3.2 0M112.8 172.7a1.6 1.6 0 1 0 3.2 0a1.6 1.6 0 1 0 -3.2 0M114 172.5a1.6 1.6 0 1 0 3.2 0a1.6 1.6 0 1 0 -3.2 0M115.1 172.5a1.6 1.6 0 1 0 3.2 0a1.6 1.6 0 1 0 -3.2 0M116.3 171.5a1.6 1.6 0 1 0 3.2 0a1.6 1.6 0 1 0 -3.2 0M117.4 171.3a1.6 1.6 0 1 0 3.2 0a1.6 1.6 0 1 0 -3.2 0M118.6 170a1.6 1.6 0 1 0 3.2 0a1.6 1.6 0 1 0 -3.2 0M119.7 169.4a1.6 1.6 0 1 0 3.2 0a1.6 1.6 0 1 0 -3.2 0M120.9 168.9a1.6 1.6 0 1 0 3.2 0a1.6 1.6 0 1 0 -3.2 0M122 167.5a1.6 1.6 0 1 0 3.2 0a1.6 1.6 0 1 0 -3.2 0M123.2 166.8a1.6 1.6 0 1 0 3.2 0a1.6 1.6 0 1 0 -3.2 0M124.3 165.7a1.6 1.6 0 1 0 3.2 0a1.6 1.6 0 1 0 -3.2 0M125.5 163.5a1.6 1.6 0 1 0 3.2 0a1.6 1.6 0 1 0 -3.2 0M126.6 161.1a1.6 1.6 0 1 0 3.2 0a1.6 1.6 0 1 0 -3.2 0M127.8 159.1a1.6 1.6 0 1 0 3.2 0a1.6 1.6 0 1 0 -3.2 0M128.9 157.4a1.6 1.6 0 1 0 3.2 0a1.6 1.6 0 1 0 -3.2 0M130.1 153.3a1.6 1.6 0 1 0 3.2 0a1.6 1.6 0 1 0 -3.2 0M131.2 150.2a1.6 1.6 0 1 0 3.2 0a1.6 1.6 0 1 0 -3.2 0M132.4 146.3a1.6 1.6 0 1 0 3.2 0a1.6 1.6 0 1 0 -3.2 0M133.5 142.2a1.6 1.6 0 1 0 3.2 0a1.6 1.6 0 1 0 -3.2 0M134.7 138.5a1.6 1.6 0 1 0 3.2 0a1.6 1.6 0 1 0 -3.2 0M135.8 134.2a1.6 1.6 0 1 0 3.2 0a1.6 1.6 0 1 0 -3.2 0M137 130.2a1.6 1.6 0 1 0 3.2 0a1.6 1.6 0 1 0 -3.2 0M138.1 127.7a1.6 1.6 0 1 0 3.2 0a1.6 1.6 0 1 0 -3.2 0M139.3 124.1a1.6 1.6 0 1 0 3.2 0a1.6 1.6 0 1 0 -3.2 0M140.4 122a1.6 1.6 0 1 0 3.2 0a1.6 1.6 0 1 0 -3.2 0M141.6 122.3a1.6 1.6 0 1 0 3.2 0a1.6 1.6 0 1 0 -3.2 0M142.7 125.3a1.6 1.6 0 1 0 3.2 0a1.6 1.6 0 1 0 -3.2 0M143.9 130.2a1.6 1.6 0 1 0 3.2 0a1.6 1.6 0 1 0 -3.2 0M145 135.6a1.6 1.6 0 1 0 3.2 0a1.6 1.6 0 1 0 -3.2 0M146.2 140.7a1.6 1.6 0 1 0 3.2 0a1.6 1.6 0 1 0 -3.2 0M147.3 145.7a1.6 1.6 0 1 0 3.2 0a1.6 1.6 0 1 0 -3.2 0M148.5 154.1a1.6 1.6 0 1 0 3.2 0a1.6 1.6 0 1 0 -3.2 0M149.6 159a1.6 1.6 0 1 0 3.2 0a1.6 1.6 0 1 0 -3.2 0M150.8 164.2a1.6 1.6 0 1 0 3.2 0a1.6 1.6 0 1 0 -3.2 0M151.9 166a1.6 1.6 0 1 0 3.2 0a1.6 1.6 0 1 0 -3.2 0M153.1 166.5a1.6 1.6 0 1 0 3.2 0a1.6 1.6 0 1 0 -3.2 0M154.2 168.2a1.6 1.6 0 1 0 3.2 0a1.6 1.6 0 1 0 -3.2 0M155.4 168.7a1.6 1.6 0 1 0 3.2 0a1.6 1.6 0 1 0 -3.2 0M156.5 168.9a1.6 1.6 0 1 0 3.2 0a1.6 1.6 0 1 0 -3.2 0M157.7 169.4a1.6 1.6 0 1 0 3.2 0a1.6 1.6 0 1 0 -3.2 0M158.8 169.2a1.6 1.6 0 1 0 3.2 0a1.6 1.6 0 1 0 -3.2 0M160 168.7a1.6 1.6 0 1 0 3.2 0a1.6 1.6 0 1 0 -3.2 0M161.1 169.3a1.6 1.6 0 1 0 3.2 0a1.6 1.6 0 1 0 -3.2 0M162.3 168.9a1.6 1.6 0 1 0 3.2 0a1.6 1.6 0 1 0 -3.2 0M163.4 169.5a1.6 1.6 0 1 0 3.2 0a1.6 1.6 0 1 0 -3.2 0M164.6 169.1a1.6 1.6 0 1 0 3.2 0a1.6 1.6 0 1 0 -3.2 0M165.7 169.3a1.6 1.6 0 1 0 3.2 0a1.6 1.6 0 1 0 -3.2 0M166.9 169.2a1.6 1.6 0 1 0 3.2 0a1.6 1.6 0 1 0 -3.2 0M168 169.2a1.6 1.6 0 1 0 3.2 0a1.6 1.6 0 1 0 -3.2 0M169.2 168.6a1.6 1.6 0 1 0 3.2 0a1.6 1.6 0 1 0 -3.2 0M170.3 169.2a1.6 1.6 0 1 0 3.2 0a1.6 1.6 0 1 0 -3.2 0M171.5 168.3a1.6 1.6 0 1 0 3.2 0a1.6 1.6 0 1 0 -3.2 0M172.6 169.5a1.6 1.6 0 1 0 3.2 0a1.6 1.6 0 1 0 -3.2 0M173.8 169.7a1.6 1.6 0 1 0 3.2 0a1.6 1.6 0 1 0 -3.2 0M174.9 170.1a1.6 1.6 0 1 0 3.2 0a1.6 1.6 0 1 0 -3.2 0M176.1 169.5a1.6 1.6 0 1 0 3.2 0a1.6 1.6 0 1 0 -3.2 0M177.2 169.1a1.6 1.6 0 1 0 3.2 0a1.6 1.6 0 1 0 -3.2 0M178.4 168.7a1.6 1.6 0 1 0 3.2 0a1.6 1.6 0 1 0 -3.2 0M179.5 170.2a1.6 1.6 0 1 0 3.2 0a1.6 1.6 0 1 0 -3.2 0M180.7 168.8a1.6 1.6 0 1 0 3.2 0a1.6 1.6 0 1 0 -3.2 0M181.8 169.8a1.6 1.6 0 1 0 3.2 0a1.6 1.6 0 1 0 -3.2 0M183 168.5a1.6 1.6 0 1 0 3.2 0a1.6 1.6 0 1 0 -3.2 0M184.1 169.4a1.6 1.6 0 1 0 3.2 0a1.6 1.6 0 1 0 -3.2 0M185.3 169.7a1.6 1.6 0 1 0 3.2 0a1.6 1.6 0 1 0 -3.2 0M186.4 169.6a1.6 1.6 0 1 0 3.2 0a1.6 1.6 0 1 0 -3.2 0M187.6 169.5a1.6 1.6 0 1 0 3.2 0a1.6 1.6 0 1 0 -3.2 0M188.7 169.2a1.6 1.6 0 1 0 3.2 0a1.6 1.6 0 1 0 -3.2 0M189.9 169.2a1.6 1.6 0 1 0 3.2 0a1.6 1.6 0 1 0 -3.2 0M191 169.9a1.6 1.6 0 1 0 3.2 0a1.6 1.6 0 1 0 -3.2 0M192.2 169.7a1.6 1.6 0 1 0 3.2 0a1.6 1.6 0 1 0 -3.2 0M193.3 169.5a1.6 1.6 0 1 0 3.2 0a1.6 1.6 0 1 0 -3.2 0M194.5 169.6a1.6 1.6 0 1 0 3.2 0a1.6 1.6 0 1 0 -3.2 0M195.6 169.2a1.6 1.6 0 1 0 3.2 0a1.6 1.6 0 1 0 -3.2 0M196.8 170a1.6 1.6 0 1 0 3.2 0a1.6 1.6 0 1 0 -3.2 0M197.9 170.1a1.6 1.6 0 1 0 3.2 0a1.6 1.6 0 1 0 -3.2 0M199.1 169.3a1.6 1.6 0 1 0 3.2 0a1.6 1.6 0 1 0 -3.2 0M200.2 169.7a1.6 1.6 0 1 0 3.2 0a1.6 1.6 0 1 0 -3.2 0M201.4 170a1.6 1.6 0 1 0 3.2 0a1.6 1.6 0 1 0 -3.2 0M202.5 169.4a1.6 1.6 0 1 0 3.2 0a1.6 1.6 0 1 0 -3.2 0M203.7 170.5a1.6 1.6 0 1 0 3.2 0a1.6 1.6 0 1 0 -3.2 0M204.8 170.3a1.6 1.6 0 1 0 3.2 0a1.6 1.6 0 1 0 -3.2 0M206 169.6a1.6 1.6 0 1 0 3.2 0a1.6 1.6 0 1 0 -3.2 0M207.1 170.1a1.6 1.6 0 1 0 3.2 0a1.6 1.6 0 1 0 -3.2 0M208.3 170.4a1.6 1.6 0 1 0 3.2 0a1.6 1.6 0 1 0 -3.2 0M209.4 169.2a1.6 1.6 0 1 0 3.2 0a1.6 1.6 0 1 0 -3.2 0M210.6 170a1.6 1.6 0 1 0 3.2 0a1.6 1.6 0 1 0 -3.2 0M211.7 169.7a1.6 1.6 0 1 0 3.2 0a1.6 1.6 0 1 0 -3.2 0M212.9 169.6a1.6 1.6 0 1 0 3.2 0a1.6 1.6 0 1 0 -3.2 0M214 170a1.6 1.6 0 1 0 3.2 0a1.6 1.6 0 1 0 -3.2 0M215.2 169.6a1.6 1.6 0 1 0 3.2 0a1.6 1.6 0 1 0 -3.2 0M216.3 169.2a1.6 1.6 0 1 0 3.2 0a1.6 1.6 0 1 0 -3.2 0M217.5 169.2a1.6 1.6 0 1 0 3.2 0a1.6 1.6 0 1 0 -3.2 0M218.6 169.8a1.6 1.6 0 1 0 3.2 0a1.6 1.6 0 1 0 -3.2 0M219.8 170a1.6 1.6 0 1 0 3.2 0a1.6 1.6 0 1 0 -3.2 0M220.9 169.8a1.6 1.6 0 1 0 3.2 0a1.6 1.6 0 1 0 -3.2 0M222.1 169.7a1.6 1.6 0 1 0 3.2 0a1.6 1.6 0 1 0 -3.2 0M223.2 169.8a1.6 1.6 0 1 0 3.2 0a1.6 1.6 0 1 0 -3.2 0M224.4 170.3a1.6 1.6 0 1 0 3.2 0a1.6 1.6 0 1 0 -3.2 0M225.5 170a1.6 1.6 0 1 0 3.2 0a1.6 1.6 0 1 0 -3.2 0M226.7 169.5a1.6 1.6 0 1 0 3.2 0a1.6 1.6 0 1 0 -3.2 0M227.8 169.7a1.6 1.6 0 1 0 3.2 0a1.6 1.6 0 1 0 -3.2 0M229 170.3a1.6 1.6 0 1 0 3.2 0a1.6 1.6 0 1 0 -3.2 0M230.1 169.6a1.6 1.6 0 1 0 3.2 0a1.6 1.6 0 1 0 -3.2 0M231.3 169.6a1.6 1.6 0 1 0 3.2 0a1.6 1.6 0 1 0 -3.2 0M232.4 169.8a1.6 1.6 0 1 0 3.2 0a1.6 1.6 0 1 0 -3.2 0M233.6 169.4a1.6 1.6 0 1 0 3.2 0a1.6 1.6 0 1 0 -3.2 0M234.7 170.2a1.6 1.6 0 1 0 3.2 0a1.6 1.6 0 1 0 -3.2 0M235.9 168.9a1.6 1.6 0 1 0 3.2 0a1.6 1.6 0 1 0 -3.2 0M237 170.4a1.6 1.6 0 1 0 3.2 0a1.6 1.6 0 1 0 -3.2 0M238.2 169.6a1.6 1.6 0 1 0 3.2 0a1.6 1.6 0 1 0 -3.2 0M239.3 169.3a1.6 1.6 0 1 0 3.2 0a1.6 1.6 0 1 0 -3.2 0M240.5 169.9a1.6 1.6 0 1 0 3.2 0a1.6 1.6 0 1 0 -3.2 0M241.6 169.1a1.6 1.6 0 1 0 3.2 0a1.6 1.6 0 1 0 -3.2 0M242.8 170a1.6 1.6 0 1 0 3.2 0a1.6 1.6 0 1 0 -3.2 0M243.9 170.1a1.6 1.6 0 1 0 3.2 0a1.6 1.6 0 1 0 -3.2 0M245.1 169.6a1.6 1.6 0 1 0 3.2 0a1.6 1.6 0 1 0 -3.2 0M246.2 169.6a1.6 1.6 0 1 0 3.2 0a1.6 1.6 0 1 0 -3.2 0M247.4 170.2a1.6 1.6 0 1 0 3.2 0a1.6 1.6 0 1 0 -3.2 0M248.5 169.5a1.6 1.6 0 1 0 3.2 0a1.6 1.6 0 1 0 -3.2 0M249.7 169.8a1.6 1.6 0 1 0 3.2 0a1.6 1.6 0 1 0 -3.2 0M250.8 169.9a1.6 1.6 0 1 0 3.2 0a1.6 1.6 0 1 0 -3.2 0M252 170.4a1.6 1.6 0 1 0 3.2 0a1.6 1.6 0 1 0 -3.2 0M253.1 169.6a1.6 1.6 0 1 0 3.2 0a1.6 1.6 0 1 0 -3.2 0M254.3 169.8a1.6 1.6 0 1 0 3.2 0a1.6 1.6 0 1 0 -3.2 0M255.4 170.3a1.6 1.6 0 1 0 3.2 0a1.6 1.6 0 1 0 -3.2 0M256.6 168.8a1.6 1.6 0 1 0 3.2 0a1.6 1.6 0 1 0 -3.2 0M257.7 169.7a1.6 1.6 0 1 0 3.2 0a1.6 1.6 0 1 0 -3.2 0M258.9 169a1.6 1.6 0 1 0 3.2 0a1.6 1.6 0 1 0 -3.2 0" stroke="#77AC30" stroke-width="0.7" fill="none"/>
<path d="M30.5 17.3V233.3H260.5" stroke="#b0b0b0" stroke-width="1.2" fill="none"/>
<path d="M30.5 233.3v-2.2M76.5 233.3v-2.2M122.5 233.3v-2.2M168.5 233.3v-2.2M214.5 233.3v-2.2M260.5 233.3v-2.2M30.5 233.3h2.2M30.5 161.3h2.2M30.5 89.3h2.2M30.5 17.3h2.2" stroke="#b0b0b0" stroke-width="0.8" fill="none"/>
<text x="30.5" y="245.7" font-size="9" text-anchor="middle" font-family="'Liberation Serif', 'Times New Roman', serif" font-weight="bold" font-style="italic" stroke="#1a1a1a" stroke-width="0.3" text-rendering="geometricPrecision" fill="#1a1a1a">-1</text>
<text x="76.5" y="245.7" font-size="9" text-anchor="middle" font-family="'Liberation Serif', 'Times New Roman', serif" font-weight="bold" font-style="italic" stroke="#1a1a1a" stroke-width="0.3" text-rendering="geometricPrecision" fill="#1a1a1a">-0.8</text>
<text x="122.5" y="245.7" font-size="9" text-anchor="middle" font-family="'Liberation Serif', 'Times New Roman', serif" font-weight="bold" font-style="italic" stroke="#1a1a1a" stroke-width="0.3" text-rendering="geometricPrecision" fill="#1a1a1a">-0.6</text>
<text x="168.5" y="245.7" font-size="9" text-anchor="middle" font-family="'Liberation Serif', 'Times New Roman', serif" font-weight="bold" font-style="italic" stroke="#1a1a1a" stroke-width="0.3" text-rendering="geometricPrecision" fill="#1a1a1a">-0.4</text>
<text x="214.5" y="245.7" font-size="9" text-anchor="middle" font-family="'Liberation Serif', 'Times New Roman', serif" font-weight="bold" font-style="italic" stroke="#1a1a1a" stroke-width="0.3" text-rendering="geometricPrecision" fill="#1a1a1a">-0.2</text>
<text x="260.5" y="245.7" font-size="9" text-anchor="middle" font-family="'Liberation Serif', 'Times New Roman', serif" font-weight="bold" font-style="italic" stroke="#1a1a1a" stroke-width="0.3" text-rendering="geometricPrecision" fill="#1a1a1a">0</text>
<text x="27.5" y="236.9" font-size="9" text-anchor="end" font-family="'Liberation Serif', 'Times New Roman', serif" font-weight="bold" font-style="italic" stroke="#1a1a1a" stroke-width="0.3" text-rendering="geometricPrecision" fill="#1a1a1a">1.5</text>
<text x="27.5" y="164.9" font-size="9" text-anchor="end" font-family="'Liberation Serif', 'Times New Roman', serif" font-weight="bold" font-style="italic" stroke="#1a1a1a" stroke-width="0.3" text-rendering="geometricPrecision" fill="#1a1a1a">2</text>
<text x="27.5" y="92.9" font-size="9" text-anchor="end" font-family="'Liberation Serif', 'Times New Roman', serif" font-weight="bold" font-style="italic" stroke="#1a1a1a" stroke-width="0.3" text-rendering="geometricPrecision" fill="#1a1a1a">2.5</text>
<text x="27.5" y="20.9" font-size="9" text-anchor="end" font-family="'Liberation Serif', 'Times New Roman', serif" font-weight="bold" font-style="italic" stroke="#1a1a1a" stroke-width="0.3" text-rendering="geometricPrecision" fill="#1a1a1a">3</text>
<text x="32" y="17.3" font-size="12.3" font-family="'Liberation Serif', serif" fill="#1a1a1a" stroke="#1a1a1a" stroke-width="0.25">&#215;</text>
<text x="39.2" y="15" font-size="8.8" font-family="'Liberation Serif', 'Times New Roman', serif" font-weight="bold" font-style="italic" stroke="#1a1a1a" stroke-width="0.3" text-rendering="geometricPrecision" fill="#1a1a1a" textLength="8.4" lengthAdjust="spacingAndGlyphs">10</text>
<text x="47.4" y="11.1" font-size="7.5" font-family="'Liberation Serif', 'Times New Roman', serif" font-weight="bold" font-style="italic" stroke="#1a1a1a" stroke-width="0.3" text-rendering="geometricPrecision" fill="#1a1a1a" textLength="7.2" lengthAdjust="spacingAndGlyphs">-3</text>
<text x="145.5" y="256.8" font-size="9.4" text-anchor="middle" font-family="'Liberation Serif', 'Times New Roman', serif" font-weight="bold" font-style="italic" stroke="#1a1a1a" stroke-width="0.3" text-rendering="geometricPrecision" fill="#1a1a1a">Potential(V)</text>
<text x="0" y="0" font-size="9.4" text-anchor="middle" font-family="'Liberation Serif', 'Times New Roman', serif" font-weight="bold" font-style="italic" stroke="#1a1a1a" stroke-width="0.15" text-rendering="geometricPrecision" fill="#1a1a1a" transform="translate(11.8 125) rotate(-90) skewX(-6)">Current(A)</text>
<text x="139.4" y="272.8" font-size="11.4" text-anchor="middle" font-family="'Liberation Serif', 'Times New Roman', serif" font-weight="bold" font-style="italic" stroke="#1a1a1a" stroke-width="0.3" text-rendering="geometricPrecision" fill="#1a1a1a">(a)</text>
<rect x="49" y="43.6" width="199.6" height="23" fill="#fff" stroke="#b0b0b0" stroke-width="0.9"/>
<path d="M49 55H248.6" stroke="#b0b0b0" stroke-width="0.9"/>
<text x="149" y="52.7" font-size="8.55" text-anchor="middle" font-family="'Liberation Serif', 'Times New Roman', serif" font-weight="bold" font-style="italic" stroke="#1a1a1a" stroke-width="0.3" text-rendering="geometricPrecision" fill="#1a1a1a">Multiple measurements of the same solution</text>
<path d="M56 60.1h3.2l-1.6 2.5z" stroke="#0072BD" stroke-width="0.7" fill="none"/>
<text x="66" y="64.2" font-size="9.2" text-anchor="start" font-family="'Liberation Serif', 'Times New Roman', serif" font-weight="bold" font-style="italic" stroke="#1a1a1a" stroke-width="0.3" text-rendering="geometricPrecision" fill="#1a1a1a">data1</text>
<path d="M97.4 59.2l1.3 1.8 -1.3 1.8 -1.3 -1.8z" stroke="#D95319" stroke-width="0.7" fill="none"/>
<text x="106" y="64.2" font-size="9.2" text-anchor="start" font-family="'Liberation Serif', 'Times New Roman', serif" font-weight="bold" font-style="italic" stroke="#1a1a1a" stroke-width="0.3" text-rendering="geometricPrecision" fill="#1a1a1a">data2</text>
<circle cx="137.4" cy="61" r="1.1" fill="#EDB120"/>
<text x="145.5" y="64.2" font-size="9.2" text-anchor="start" font-family="'Liberation Serif', 'Times New Roman', serif" font-weight="bold" font-style="italic" stroke="#1a1a1a" stroke-width="0.3" text-rendering="geometricPrecision" fill="#1a1a1a">data3</text>
<path d="M175.9 59.7h2.6v2.6h-2.6z" stroke="#7E2F8E" stroke-width="0.7" fill="none"/>
<text x="186" y="64.2" font-size="9.2" text-anchor="start" font-family="'Liberation Serif', 'Times New Roman', serif" font-weight="bold" font-style="italic" stroke="#1a1a1a" stroke-width="0.3" text-rendering="geometricPrecision" fill="#1a1a1a">data4</text>
<path d="M216 61a1.6 1.6 0 1 0 3.2 0a1.6 1.6 0 1 0 -3.2 0" stroke="#77AC30" stroke-width="0.7" fill="none"/>
<text x="226" y="64.2" font-size="9.2" text-anchor="start" font-family="'Liberation Serif', 'Times New Roman', serif" font-weight="bold" font-style="italic" stroke="#1a1a1a" stroke-width="0.3" text-rendering="geometricPrecision" fill="#1a1a1a">data5</text>
<path d="M292.1 144.1h3.6l-1.8 2.8zM293.1 144.2h3.6l-1.8 2.8zM294.1 144.3h3.6l-1.8 2.8zM295.1 144.4h3.6l-1.8 2.8zM296.1 144.4h3.6l-1.8 2.8zM297.1 144.5h3.6l-1.8 2.8zM298.1 144.6h3.6l-1.8 2.8zM299.1 144.7h3.6l-1.8 2.8zM300.1 144.8h3.6l-1.8 2.8zM301.1 144.9h3.6l-1.8 2.8zM302.1 145h3.6l-1.8 2.8zM303.1 145h3.6l-1.8 2.8zM304.1 145.1h3.6l-1.8 2.8zM305.1 145.2h3.6l-1.8 2.8zM306.1 145.3h3.6l-1.8 2.8zM307.1 145.4h3.6l-1.8 2.8zM308.1 145.5h3.6l-1.8 2.8zM309.1 145.5h3.6l-1.8 2.8zM310.1 145.6h3.6l-1.8 2.8zM311.1 145.7h3.6l-1.8 2.8zM312.1 145.8h3.6l-1.8 2.8zM313.1 145.9h3.6l-1.8 2.8zM314.1 146h3.6l-1.8 2.8zM315.1 146h3.6l-1.8 2.8zM316.1 146.1h3.6l-1.8 2.8zM317.1 146.2h3.6l-1.8 2.8zM318.1 146.3h3.6l-1.8 2.8zM319.1 146.4h3.6l-1.8 2.8zM320.1 146.5h3.6l-1.8 2.8zM321.1 146.6h3.6l-1.8 2.8zM322.1 146.7h3.6l-1.8 2.8zM323.1 146.7h3.6l-1.8 2.8zM324.1 146.8h3.6l-1.8 2.8zM325.1 146.9h3.6l-1.8 2.8zM326.1 147h3.6l-1.8 2.8zM327.1 147.1h3.6l-1.8 2.8zM328.1 147.2h3.6l-1.8 2.8zM329.1 147.3h3.6l-1.8 2.8zM330.1 147.4h3.6l-1.8 2.8zM331.1 147.5h3.6l-1.8 2.8zM332.1 147.5h3.6l-1.8 2.8zM333.1 147.6h3.6l-1.8 2.8zM334.1 147.7h3.6l-1.8 2.8zM335.1 147.8h3.6l-1.8 2.8zM336.1 147.9h3.6l-1.8 2.8zM337.1 147.9h3.6l-1.8 2.8zM338.1 148h3.6l-1.8 2.8zM339.1 148.1h3.6l-1.8 2.8zM340.1 148.1h3.6l-1.8 2.8zM341.1 148.2h3.6l-1.8 2.8zM342.1 148.3h3.6l-1.8 2.8zM343.1 148.4h3.6l-1.8 2.8zM344.1 148.4h3.6l-1.8 2.8zM345.1 148.5h3.6l-1.8 2.8zM346.1 148.6h3.6l-1.8 2.8zM347.1 148.6h3.6l-1.8 2.8zM348.1 148.6h3.6l-1.8 2.8zM349.1 148.6h3.6l-1.8 2.8zM350.1 148.6h3.6l-1.8 2.8zM351.1 148.6h3.6l-1.8 2.8zM352.1 148.6h3.6l-1.8 2.8zM353.1 148.7h3.6l-1.8 2.8zM354.1 148.7h3.6l-1.8 2.8zM355.1 148.7h3.6l-1.8 2.8zM356.1 148.7h3.6l-1.8 2.8zM357.1 148.7h3.6l-1.8 2.8zM358.1 148.7h3.6l-1.8 2.8zM359.1 148.7h3.6l-1.8 2.8zM360.1 148.7h3.6l-1.8 2.8zM361.1 148.7h3.6l-1.8 2.8zM362.1 148.7h3.6l-1.8 2.8zM363.1 148.7h3.6l-1.8 2.8zM364.1 148.7h3.6l-1.8 2.8zM365.1 148.7h3.6l-1.8 2.8zM366.1 148.7h3.6l-1.8 2.8zM367.1 148.7h3.6l-1.8 2.8zM368.1 148.7h3.6l-1.8 2.8zM369.1 148.7h3.6l-1.8 2.8zM370.1 148.7h3.6l-1.8 2.8zM371.1 148.7h3.6l-1.8 2.8zM372.1 148.6h3.6l-1.8 2.8zM373.1 148.6h3.6l-1.8 2.8zM374.1 148.5h3.6l-1.8 2.8zM375.1 148.5h3.6l-1.8 2.8zM376.1 148.4h3.6l-1.8 2.8zM377.1 148.4h3.6l-1.8 2.8zM378.1 148.3h3.6l-1.8 2.8zM379.1 148.2h3.6l-1.8 2.8zM380.1 148.1h3.6l-1.8 2.8zM381.1 148h3.6l-1.8 2.8zM382.1 147.9h3.6l-1.8 2.8zM383.1 147.8h3.6l-1.8 2.8zM384.1 147.7h3.6l-1.8 2.8zM385.1 147.5h3.6l-1.8 2.8zM386.1 147.3h3.6l-1.8 2.8zM387.1 147h3.6l-1.8 2.8zM388.1 146.8h3.6l-1.8 2.8zM389.1 146.5h3.6l-1.8 2.8zM390.1 146.3h3.6l-1.8 2.8zM391.1 146.1h3.6l-1.8 2.8zM392.1 145.9h3.6l-1.8 2.8zM393.1 145.5h3.6l-1.8 2.8zM394.1 144.9h3.6l-1.8 2.8zM395.1 144h3.6l-1.8 2.8zM396.1 143.1h3.6l-1.8 2.8zM397.1 142.3h3.6l-1.8 2.8zM398.1 141.5h3.6l-1.8 2.8zM399.1 140.6h3.6l-1.8 2.8zM400.1 139.6h3.6l-1.8 2.8zM401.1 138.6h3.6l-1.8 2.8zM402.1 137.5h3.6l-1.8 2.8zM403.1 136.4h3.6l-1.8 2.8zM404.1 135.3h3.6l-1.8 2.8zM405.1 134.1h3.6l-1.8 2.8zM406.1 133.1h3.6l-1.8 2.8zM407.1 132.3h3.6l-1.8 2.8zM408.1 131.6h3.6l-1.8 2.8zM409.1 130.9h3.6l-1.8 2.8zM410.1 130.3h3.6l-1.8 2.8zM411.1 129.9h3.6l-1.8 2.8zM412.1 129.6h3.6l-1.8 2.8zM413.1 129.7h3.6l-1.8 2.8zM414.1 130.1h3.6l-1.8 2.8zM415.1 130.9h3.6l-1.8 2.8zM416.1 131.8h3.6l-1.8 2.8zM417.1 132.9h3.6l-1.8 2.8zM418.1 134.1h3.6l-1.8 2.8zM419.1 135.3h3.6l-1.8 2.8zM420.1 136.9h3.6l-1.8 2.8zM421.1 138.7h3.6l-1.8 2.8zM422.1 140.3h3.6l-1.8 2.8zM423.1 141.4h3.6l-1.8 2.8zM424.1 142.2h3.6l-1.8 2.8zM425.1 142.9h3.6l-1.8 2.8zM426.1 143.4h3.6l-1.8 2.8zM427.1 143.8h3.6l-1.8 2.8zM428.1 144.2h3.6l-1.8 2.8zM429.1 144.5h3.6l-1.8 2.8zM430.1 144.7h3.6l-1.8 2.8zM431.1 145h3.6l-1.8 2.8zM432.1 145.2h3.6l-1.8 2.8zM433.1 145.3h3.6l-1.8 2.8zM434.1 145.4h3.6l-1.8 2.8zM435.1 145.5h3.6l-1.8 2.8zM436.1 145.6h3.6l-1.8 2.8zM437.1 145.6h3.6l-1.8 2.8zM438.1 145.7h3.6l-1.8 2.8zM439.1 145.7h3.6l-1.8 2.8zM440.1 145.8h3.6l-1.8 2.8zM441.1 145.8h3.6l-1.8 2.8zM442.1 145.8h3.6l-1.8 2.8zM443.1 145.8h3.6l-1.8 2.8zM444.1 145.8h3.6l-1.8 2.8zM445.1 145.8h3.6l-1.8 2.8zM446.1 145.7h3.6l-1.8 2.8zM447.1 145.7h3.6l-1.8 2.8zM448.1 145.6h3.6l-1.8 2.8zM449.1 145.5h3.6l-1.8 2.8zM450.1 145.5h3.6l-1.8 2.8zM451.1 145.4h3.6l-1.8 2.8zM452.1 145.3h3.6l-1.8 2.8zM453.1 145.2h3.6l-1.8 2.8zM454.1 145.1h3.6l-1.8 2.8zM455.1 145.1h3.6l-1.8 2.8zM456.1 145h3.6l-1.8 2.8zM457.1 144.9h3.6l-1.8 2.8zM458.1 144.8h3.6l-1.8 2.8zM459.1 144.6h3.6l-1.8 2.8zM460.1 144.5h3.6l-1.8 2.8zM461.1 144.4h3.6l-1.8 2.8zM462.1 144.3h3.6l-1.8 2.8zM463.1 144.2h3.6l-1.8 2.8zM464.1 144h3.6l-1.8 2.8zM465.1 143.9h3.6l-1.8 2.8zM466.1 143.8h3.6l-1.8 2.8zM467.1 143.7h3.6l-1.8 2.8zM468.1 143.5h3.6l-1.8 2.8zM469.1 143.4h3.6l-1.8 2.8zM470.1 143.2h3.6l-1.8 2.8zM471.1 143.1h3.6l-1.8 2.8zM472.1 143h3.6l-1.8 2.8zM473.1 142.8h3.6l-1.8 2.8zM474.1 142.6h3.6l-1.8 2.8zM475.1 142.5h3.6l-1.8 2.8zM476.1 142.3h3.6l-1.8 2.8zM477.1 142.1h3.6l-1.8 2.8zM478.1 142h3.6l-1.8 2.8zM479.1 141.8h3.6l-1.8 2.8zM480.1 141.6h3.6l-1.8 2.8zM481.1 141.5h3.6l-1.8 2.8zM482.1 141.3h3.6l-1.8 2.8zM483.1 141.1h3.6l-1.8 2.8zM484.1 140.9h3.6l-1.8 2.8zM485.1 140.8h3.6l-1.8 2.8zM486.1 140.6h3.6l-1.8 2.8zM487.1 140.4h3.6l-1.8 2.8zM488.1 140.2h3.6l-1.8 2.8zM489.1 140.1h3.6l-1.8 2.8zM490.1 139.9h3.6l-1.8 2.8zM491.1 139.7h3.6l-1.8 2.8zM492.1 139.5h3.6l-1.8 2.8zM493.1 139.3h3.6l-1.8 2.8zM494.1 139.1h3.6l-1.8 2.8zM495.1 139h3.6l-1.8 2.8zM496.1 138.8h3.6l-1.8 2.8zM497.1 138.6h3.6l-1.8 2.8zM498.1 138.4h3.6l-1.8 2.8zM499.1 138.2h3.6l-1.8 2.8zM500.1 138h3.6l-1.8 2.8zM501.1 137.8h3.6l-1.8 2.8zM502.1 137.6h3.6l-1.8 2.8zM503.1 137.5h3.6l-1.8 2.8zM504.1 137.3h3.6l-1.8 2.8zM505.1 137.1h3.6l-1.8 2.8zM506.1 136.9h3.6l-1.8 2.8zM507.1 136.8h3.6l-1.8 2.8zM508.1 136.6h3.6l-1.8 2.8zM509.1 136.5h3.6l-1.8 2.8zM510.1 136.3h3.6l-1.8 2.8zM511.1 136.2h3.6l-1.8 2.8zM512.1 136h3.6l-1.8 2.8zM513.1 135.9h3.6l-1.8 2.8zM514.1 135.8h3.6l-1.8 2.8zM515.1 135.6h3.6l-1.8 2.8zM516.1 135.5h3.6l-1.8 2.8zM517.1 135.4h3.6l-1.8 2.8zM518.1 135.3h3.6l-1.8 2.8zM519.1 135.1h3.6l-1.8 2.8zM520.1 135h3.6l-1.8 2.8zM521.1 134.9h3.6l-1.8 2.8zM522.1 134.8h3.6l-1.8 2.8zM523.1 134.6h3.6l-1.8 2.8zM524.1 134.5h3.6l-1.8 2.8zM525.1 134.4h3.6l-1.8 2.8zM526.1 134.2h3.6l-1.8 2.8zM527.1 134.1h3.6l-1.8 2.8zM528.1 133.9h3.6l-1.8 2.8zM529.1 133.8h3.6l-1.8 2.8zM530.1 133.6h3.6l-1.8 2.8zM531.1 133.5h3.6l-1.8 2.8zM532.1 133.3h3.6l-1.8 2.8zM533.1 133.1h3.6l-1.8 2.8zM534.1 132.9h3.6l-1.8 2.8zM535.1 132.8h3.6l-1.8 2.8zM536.1 132.6h3.6l-1.8 2.8zM537.1 132.4h3.6l-1.8 2.8z" stroke="#0072BD" stroke-width="0.7" fill="none"/>
<path d="M293 145.1v3.4l2.6 -1.7zM294 145.2v3.4l2.6 -1.7zM295 145.4v3.4l2.6 -1.7zM296 145.5v3.4l2.6 -1.7zM297 145.7v3.4l2.6 -1.7zM298 145.9v3.4l2.6 -1.7zM299 146v3.4l2.6 -1.7zM300 146.2v3.4l2.6 -1.7zM301 146.4v3.4l2.6 -1.7zM302 146.5v3.4l2.6 -1.7zM303 146.7v3.4l2.6 -1.7zM304 146.9v3.4l2.6 -1.7zM305 147v3.4l2.6 -1.7zM306 147.2v3.4l2.6 -1.7zM307 147.4v3.4l2.6 -1.7zM308 147.6v3.4l2.6 -1.7zM309 147.8v3.4l2.6 -1.7zM310 148v3.4l2.6 -1.7zM311 148.2v3.4l2.6 -1.7zM312 148.4v3.4l2.6 -1.7zM313 148.6v3.4l2.6 -1.7zM314 148.8v3.4l2.6 -1.7zM315 149v3.4l2.6 -1.7zM316 149.2v3.4l2.6 -1.7zM317 149.5v3.4l2.6 -1.7zM318 149.7v3.4l2.6 -1.7zM319 149.9v3.4l2.6 -1.7zM320 150.1v3.4l2.6 -1.7zM321 150.4v3.4l2.6 -1.7zM322 150.6v3.4l2.6 -1.7zM323 150.8v3.4l2.6 -1.7zM324 151.1v3.4l2.6 -1.7zM325 151.3v3.4l2.6 -1.7zM326 151.5v3.4l2.6 -1.7zM327 151.7v3.4l2.6 -1.7zM328 152v3.4l2.6 -1.7zM329 152.2v3.4l2.6 -1.7zM330 152.4v3.4l2.6 -1.7zM331 152.6v3.4l2.6 -1.7zM332 152.8v3.4l2.6 -1.7zM333 153.1v3.4l2.6 -1.7zM334 153.3v3.4l2.6 -1.7zM335 153.5v3.4l2.6 -1.7zM336 153.7v3.4l2.6 -1.7zM337 153.9v3.4l2.6 -1.7zM338 154.2v3.4l2.6 -1.7zM339 154.4v3.4l2.6 -1.7zM340 154.6v3.4l2.6 -1.7zM341 154.8v3.4l2.6 -1.7zM342 155v3.4l2.6 -1.7zM343 155.2v3.4l2.6 -1.7zM344 155.4v3.4l2.6 -1.7zM345 155.6v3.4l2.6 -1.7zM346 155.8v3.4l2.6 -1.7zM347 156v3.4l2.6 -1.7zM348 156.1v3.4l2.6 -1.7zM349 156.3v3.4l2.6 -1.7zM350 156.4v3.4l2.6 -1.7zM351 156.6v3.4l2.6 -1.7zM352 156.8v3.4l2.6 -1.7zM353 156.9v3.4l2.6 -1.7zM354 157.1v3.4l2.6 -1.7zM355 157.2v3.4l2.6 -1.7zM356 157.4v3.4l2.6 -1.7zM357 157.5v3.4l2.6 -1.7zM358 157.7v3.4l2.6 -1.7zM359 157.8v3.4l2.6 -1.7zM360 157.9v3.4l2.6 -1.7zM361 158v3.4l2.6 -1.7zM362 158v3.4l2.6 -1.7zM363 158.1v3.4l2.6 -1.7zM364 158.1v3.4l2.6 -1.7zM365 158.1v3.4l2.6 -1.7zM366 158.1v3.4l2.6 -1.7zM367 158.1v3.4l2.6 -1.7zM368 158v3.4l2.6 -1.7zM369 158v3.4l2.6 -1.7zM370 157.9v3.4l2.6 -1.7zM371 157.9v3.4l2.6 -1.7zM372 157.8v3.4l2.6 -1.7zM373 157.7v3.4l2.6 -1.7zM374 157.6v3.4l2.6 -1.7zM375 157.5v3.4l2.6 -1.7zM376 157.4v3.4l2.6 -1.7zM377 157.3v3.4l2.6 -1.7zM378 157.1v3.4l2.6 -1.7zM379 157v3.4l2.6 -1.7zM380 156.8v3.4l2.6 -1.7zM381 156.5v3.4l2.6 -1.7zM382 156.1v3.4l2.6 -1.7zM383 155.7v3.4l2.6 -1.7zM384 155.2v3.4l2.6 -1.7zM385 154.7v3.4l2.6 -1.7zM386 154.1v3.4l2.6 -1.7zM387 153.5v3.4l2.6 -1.7zM388 152.8v3.4l2.6 -1.7zM389 152v3.4l2.6 -1.7zM390 151.2v3.4l2.6 -1.7zM391 150.4v3.4l2.6 -1.7zM392 149.5v3.4l2.6 -1.7zM393 148.7v3.4l2.6 -1.7zM394 147.7v3.4l2.6 -1.7zM395 146.7v3.4l2.6 -1.7zM396 145.7v3.4l2.6 -1.7zM397 144.6v3.4l2.6 -1.7zM398 143.5v3.4l2.6 -1.7zM399 142.2v3.4l2.6 -1.7zM400 140.8v3.4l2.6 -1.7zM401 139v3.4l2.6 -1.7zM402 136.4v3.4l2.6 -1.7zM403 133.4v3.4l2.6 -1.7zM404 130v3.4l2.6 -1.7zM405 126.2v3.4l2.6 -1.7zM406 122.3v3.4l2.6 -1.7zM407 118.8v3.4l2.6 -1.7zM408 116.1v3.4l2.6 -1.7zM409 113.7v3.4l2.6 -1.7zM410 111.5v3.4l2.6 -1.7zM411 109.1v3.4l2.6 -1.7zM412 107.2v3.4l2.6 -1.7zM413 106.7v3.4l2.6 -1.7zM414 107.1v3.4l2.6 -1.7zM415 107.8v3.4l2.6 -1.7zM416 109v3.4l2.6 -1.7zM417 110.8v3.4l2.6 -1.7zM418 115.7v3.4l2.6 -1.7zM419 122.8v3.4l2.6 -1.7zM420 130.8v3.4l2.6 -1.7zM421 136.6v3.4l2.6 -1.7zM422 146.1v3.4l2.6 -1.7zM423 149.7v3.4l2.6 -1.7zM424 150.6v3.4l2.6 -1.7zM425 151.2v3.4l2.6 -1.7zM426 151.5v3.4l2.6 -1.7zM427 151.6v3.4l2.6 -1.7zM428 151.7v3.4l2.6 -1.7zM429 151.8v3.4l2.6 -1.7zM430 151.9v3.4l2.6 -1.7zM431 152v3.4l2.6 -1.7zM432 152v3.4l2.6 -1.7zM433 152.1v3.4l2.6 -1.7zM434 152.1v3.4l2.6 -1.7zM435 152.2v3.4l2.6 -1.7zM436 152.2v3.4l2.6 -1.7zM437 152.3v3.4l2.6 -1.7zM438 152.3v3.4l2.6 -1.7zM439 152.4v3.4l2.6 -1.7zM440 152.5v3.4l2.6 -1.7zM441 152.5v3.4l2.6 -1.7zM442 152.6v3.4l2.6 -1.7zM443 152.7v3.4l2.6 -1.7zM444 152.8v3.4l2.6 -1.7zM445 152.9v3.4l2.6 -1.7zM446 153v3.4l2.6 -1.7zM447 153v3.4l2.6 -1.7zM448 153.1v3.4l2.6 -1.7zM449 153.1v3.4l2.6 -1.7zM450 153.1v3.4l2.6 -1.7zM451 153.1v3.4l2.6 -1.7zM452 153.1v3.4l2.6 -1.7zM453 153.1v3.4l2.6 -1.7zM454 153.2v3.4l2.6 -1.7zM455 153.2v3.4l2.6 -1.7zM456 153.2v3.4l2.6 -1.7zM457 153.2v3.4l2.6 -1.7zM458 153.2v3.4l2.6 -1.7zM459 153.2v3.4l2.6 -1.7zM460 153.2v3.4l2.6 -1.7zM461 153.2v3.4l2.6 -1.7zM462 153.2v3.4l2.6 -1.7zM463 153.2v3.4l2.6 -1.7zM464 153.2v3.4l2.6 -1.7zM465 153.2v3.4l2.6 -1.7zM466 153.2v3.4l2.6 -1.7zM467 153.2v3.4l2.6 -1.7zM468 153.2v3.4l2.6 -1.7zM469 153.2v3.4l2.6 -1.7zM470 153.2v3.4l2.6 -1.7zM471 153.2v3.4l2.6 -1.7zM472 153.3v3.4l2.6 -1.7zM473 153.3v3.4l2.6 -1.7zM474 153.3v3.4l2.6 -1.7zM475 153.3v3.4l2.6 -1.7zM476 153.3v3.4l2.6 -1.7zM477 153.3v3.4l2.6 -1.7zM478 153.3v3.4l2.6 -1.7zM479 153.3v3.4l2.6 -1.7zM480 153.3v3.4l2.6 -1.7zM481 153.3v3.4l2.6 -1.7zM482 153.3v3.4l2.6 -1.7zM483 153.3v3.4l2.6 -1.7zM484 153.3v3.4l2.6 -1.7zM485 153.4v3.4l2.6 -1.7zM486 153.4v3.4l2.6 -1.7zM487 153.4v3.4l2.6 -1.7zM488 153.4v3.4l2.6 -1.7zM489 153.4v3.4l2.6 -1.7zM490 153.4v3.4l2.6 -1.7zM491 153.4v3.4l2.6 -1.7zM492 153.4v3.4l2.6 -1.7zM493 153.5v3.4l2.6 -1.7zM494 153.5v3.4l2.6 -1.7zM495 153.5v3.4l2.6 -1.7zM496 153.5v3.4l2.6 -1.7zM497 153.5v3.4l2.6 -1.7zM498 153.5v3.4l2.6 -1.7zM499 153.6v3.4l2.6 -1.7zM500 153.6v3.4l2.6 -1.7zM501 153.6v3.4l2.6 -1.7zM502 153.6v3.4l2.6 -1.7zM503 153.6v3.4l2.6 -1.7zM504 153.6v3.4l2.6 -1.7zM505 153.7v3.4l2.6 -1.7zM506 153.7v3.4l2.6 -1.7zM507 153.7v3.4l2.6 -1.7zM508 153.7v3.4l2.6 -1.7zM509 153.7v3.4l2.6 -1.7zM510 153.7v3.4l2.6 -1.7zM511 153.8v3.4l2.6 -1.7zM512 153.8v3.4l2.6 -1.7zM513 153.8v3.4l2.6 -1.7zM514 153.8v3.4l2.6 -1.7zM515 153.8v3.4l2.6 -1.7zM516 153.9v3.4l2.6 -1.7zM517 153.9v3.4l2.6 -1.7zM518 153.9v3.4l2.6 -1.7zM519 153.9v3.4l2.6 -1.7zM520 154v3.4l2.6 -1.7zM521 154v3.4l2.6 -1.7zM522 154v3.4l2.6 -1.7zM523 154v3.4l2.6 -1.7zM524 154v3.4l2.6 -1.7zM525 154.1v3.4l2.6 -1.7zM526 154.1v3.4l2.6 -1.7zM527 154.1v3.4l2.6 -1.7zM528 154.1v3.4l2.6 -1.7zM529 154.2v3.4l2.6 -1.7zM530 154.2v3.4l2.6 -1.7zM531 154.2v3.4l2.6 -1.7zM532 154.2v3.4l2.6 -1.7zM533 154.3v3.4l2.6 -1.7zM534 154.3v3.4l2.6 -1.7zM535 154.3v3.4l2.6 -1.7zM536 154.3v3.4l2.6 -1.7zM537 154.4v3.4l2.6 -1.7zM538 154.4v3.4l2.6 -1.7z" stroke="#D95319" stroke-width="0.7" fill="none"/>
<path d="M293.9 144h0.01M294.9 144.1h0.01M295.9 144.2h0.01M296.9 144.4h0.01M297.9 144.5h0.01M298.9 144.6h0.01M299.9 144.8h0.01M300.9 144.9h0.01M301.9 145.1h0.01M302.9 145.2h0.01M303.9 145.4h0.01M304.9 145.6h0.01M305.9 145.7h0.01M306.9 145.9h0.01M307.9 146.1h0.01M308.9 146.3h0.01M309.9 146.5h0.01M310.9 146.7h0.01M311.9 146.9h0.01M312.9 147.1h0.01M313.9 147.4h0.01M314.9 147.6h0.01M315.9 147.9h0.01M316.9 148.2h0.01M317.9 148.4h0.01M318.9 148.7h0.01M319.9 149h0.01M320.9 149.3h0.01M321.9 149.6h0.01M322.9 149.9h0.01M323.9 150.1h0.01M324.9 150.4h0.01M325.9 150.7h0.01M326.9 151h0.01M327.9 151.2h0.01M328.9 151.4h0.01M329.9 151.7h0.01M330.9 151.9h0.01M331.9 152.1h0.01M332.9 152.3h0.01M333.9 152.5h0.01M334.9 152.7h0.01M335.9 152.9h0.01M336.9 153.1h0.01M337.9 153.3h0.01M338.9 153.5h0.01M339.9 153.6h0.01M340.9 153.8h0.01M341.9 154h0.01M342.9 154.2h0.01M343.9 154.4h0.01M344.9 154.5h0.01M345.9 154.7h0.01M346.9 154.9h0.01M347.9 155.1h0.01M348.9 155.3h0.01M349.9 155.5h0.01M350.9 155.7h0.01M351.9 155.9h0.01M352.9 156.2h0.01M353.9 156.4h0.01M354.9 156.7h0.01M355.9 157h0.01M356.9 157.2h0.01M357.9 157.5h0.01M358.9 157.7h0.01M359.9 157.9h0.01M360.9 158.1h0.01M361.9 158.3h0.01M362.9 158.4h0.01M363.9 158.5h0.01M364.9 158.5h0.01M365.9 158.5h0.01M366.9 158.5h0.01M367.9 158.5h0.01M368.9 158.5h0.01M369.9 158.4h0.01M370.9 158.4h0.01M371.9 158.4h0.01M372.9 158.3h0.01M373.9 158.3h0.01M374.9 158.2h0.01M375.9 158.1h0.01M376.9 158.1h0.01M377.9 158h0.01M378.9 157.9h0.01M379.9 157.8h0.01M380.9 157.7h0.01M381.9 157.4h0.01M382.9 157h0.01M383.9 156.6h0.01M384.9 156.1h0.01M385.9 155.7h0.01M386.9 155.3h0.01M387.9 154.8h0.01M388.9 154.2h0.01M389.9 153.6h0.01M390.9 152.9h0.01M391.9 152.1h0.01M392.9 151.3h0.01M393.9 150.2h0.01M394.9 148.9h0.01M395.9 147.2h0.01M396.9 144.6h0.01M397.9 141.2h0.01M398.9 136.6h0.01M399.9 133.3h0.01M400.9 129.9h0.01M401.9 125.7h0.01M402.9 122h0.01M403.9 118.1h0.01M404.9 113.7h0.01M405.9 109.6h0.01M406.9 105.2h0.01M407.9 100.5h0.01M408.9 95.9h0.01M409.9 93.1h0.01M410.9 90.2h0.01M411.9 87.1h0.01M412.9 84.3h0.01M413.9 82.3h0.01M414.9 83.1h0.01M415.9 85.4h0.01M416.9 89.1h0.01M417.9 94.7h0.01M418.9 100.6h0.01M419.9 109.2h0.01M420.9 120.3h0.01M421.9 126.8h0.01M422.9 136.5h0.01M423.9 145.6h0.01M424.9 149.8h0.01M425.9 151.6h0.01M426.9 152.5h0.01M427.9 152.7h0.01M428.9 152.8h0.01M429.9 152.9h0.01M430.9 153h0.01M431.9 153.1h0.01M432.9 153.2h0.01M433.9 153.2h0.01M434.9 153.3h0.01M435.9 153.4h0.01M436.9 153.5h0.01M437.9 153.6h0.01M438.9 153.7h0.01M439.9 153.8h0.01M440.9 153.9h0.01M441.9 154h0.01M442.9 154.1h0.01M443.9 154.1h0.01M444.9 154.2h0.01M445.9 154.3h0.01M446.9 154.4h0.01M447.9 154.4h0.01M448.9 154.5h0.01M449.9 154.5h0.01M450.9 154.5h0.01M451.9 154.5h0.01M452.9 154.5h0.01M453.9 154.5h0.01M454.9 154.5h0.01M455.9 154.5h0.01M456.9 154.5h0.01M457.9 154.5h0.01M458.9 154.5h0.01M459.9 154.5h0.01M460.9 154.5h0.01M461.9 154.6h0.01M462.9 154.6h0.01M463.9 154.6h0.01M464.9 154.6h0.01M465.9 154.6h0.01M466.9 154.6h0.01M467.9 154.6h0.01M468.9 154.6h0.01M469.9 154.6h0.01M470.9 154.6h0.01M471.9 154.6h0.01M472.9 154.6h0.01M473.9 154.6h0.01M474.9 154.6h0.01M475.9 154.6h0.01M476.9 154.6h0.01M477.9 154.6h0.01M478.9 154.6h0.01M479.9 154.6h0.01M480.9 154.6h0.01M481.9 154.6h0.01M482.9 154.6h0.01M483.9 154.6h0.01M484.9 154.6h0.01M485.9 154.6h0.01M486.9 154.7h0.01M487.9 154.7h0.01M488.9 154.7h0.01M489.9 154.7h0.01M490.9 154.7h0.01M491.9 154.7h0.01M492.9 154.7h0.01M493.9 154.7h0.01M494.9 154.8h0.01M495.9 154.8h0.01M496.9 154.8h0.01M497.9 154.8h0.01M498.9 154.8h0.01M499.9 154.8h0.01M500.9 154.9h0.01M501.9 154.9h0.01M502.9 154.9h0.01M503.9 154.9h0.01M504.9 154.9h0.01M505.9 155h0.01M506.9 155h0.01M507.9 155h0.01M508.9 155h0.01M509.9 155h0.01M510.9 155.1h0.01M511.9 155.1h0.01M512.9 155.1h0.01M513.9 155.1h0.01M514.9 155.2h0.01M515.9 155.2h0.01M516.9 155.2h0.01M517.9 155.2h0.01M518.9 155.3h0.01M519.9 155.3h0.01M520.9 155.3h0.01M521.9 155.3h0.01M522.9 155.4h0.01M523.9 155.4h0.01M524.9 155.4h0.01M525.9 155.5h0.01M526.9 155.5h0.01M527.9 155.5h0.01M528.9 155.6h0.01M529.9 155.6h0.01M530.9 155.6h0.01M531.9 155.6h0.01M532.9 155.7h0.01M533.9 155.7h0.01M534.9 155.7h0.01M535.9 155.8h0.01M536.9 155.8h0.01M537.9 155.8h0.01M538.9 155.9h0.01" stroke="#EDB120" stroke-width="2.2" stroke-linecap="round" fill="none"/>
<path d="M293.9 127.6l1.4 2.1 -1.4 2.1 -1.4 -2.1zM294.9 128.3l1.4 2.1 -1.4 2.1 -1.4 -2.1zM295.9 129l1.4 2.1 -1.4 2.1 -1.4 -2.1zM296.9 129.7l1.4 2.1 -1.4 2.1 -1.4 -2.1zM297.9 130.3l1.4 2.1 -1.4 2.1 -1.4 -2.1zM298.9 131l1.4 2.1 -1.4 2.1 -1.4 -2.1zM299.9 131.6l1.4 2.1 -1.4 2.1 -1.4 -2.1zM300.9 132.2l1.4 2.1 -1.4 2.1 -1.4 -2.1zM301.9 132.7l1.4 2.1 -1.4 2.1 -1.4 -2.1zM302.9 133.3l1.4 2.1 -1.4 2.1 -1.4 -2.1zM303.9 133.8l1.4 2.1 -1.4 2.1 -1.4 -2.1zM304.9 134.4l1.4 2.1 -1.4 2.1 -1.4 -2.1zM305.9 134.9l1.4 2.1 -1.4 2.1 -1.4 -2.1zM306.9 135.4l1.4 2.1 -1.4 2.1 -1.4 -2.1zM307.9 136l1.4 2.1 -1.4 2.1 -1.4 -2.1zM308.9 136.5l1.4 2.1 -1.4 2.1 -1.4 -2.1zM309.9 137l1.4 2.1 -1.4 2.1 -1.4 -2.1zM310.9 137.5l1.4 2.1 -1.4 2.1 -1.4 -2.1zM311.9 138l1.4 2.1 -1.4 2.1 -1.4 -2.1zM312.9 138.5l1.4 2.1 -1.4 2.1 -1.4 -2.1zM313.9 139l1.4 2.1 -1.4 2.1 -1.4 -2.1zM314.9 139.5l1.4 2.1 -1.4 2.1 -1.4 -2.1zM315.9 140l1.4 2.1 -1.4 2.1 -1.4 -2.1zM316.9 140.5l1.4 2.1 -1.4 2.1 -1.4 -2.1zM317.9 141l1.4 2.1 -1.4 2.1 -1.4 -2.1zM318.9 141.4l1.4 2.1 -1.4 2.1 -1.4 -2.1zM319.9 141.9l1.4 2.1 -1.4 2.1 -1.4 -2.1zM320.9 142.3l1.4 2.1 -1.4 2.1 -1.4 -2.1zM321.9 142.7l1.4 2.1 -1.4 2.1 -1.4 -2.1zM322.9 143.2l1.4 2.1 -1.4 2.1 -1.4 -2.1zM323.9 143.6l1.4 2.1 -1.4 2.1 -1.4 -2.1zM324.9 144l1.4 2.1 -1.4 2.1 -1.4 -2.1zM325.9 144.4l1.4 2.1 -1.4 2.1 -1.4 -2.1zM326.9 144.8l1.4 2.1 -1.4 2.1 -1.4 -2.1zM327.9 145.1l1.4 2.1 -1.4 2.1 -1.4 -2.1zM328.9 145.5l1.4 2.1 -1.4 2.1 -1.4 -2.1zM329.9 145.8l1.4 2.1 -1.4 2.1 -1.4 -2.1zM330.9 146.1l1.4 2.1 -1.4 2.1 -1.4 -2.1zM331.9 146.4l1.4 2.1 -1.4 2.1 -1.4 -2.1zM332.9 146.7l1.4 2.1 -1.4 2.1 -1.4 -2.1zM333.9 147l1.4 2.1 -1.4 2.1 -1.4 -2.1zM334.9 147.2l1.4 2.1 -1.4 2.1 -1.4 -2.1zM335.9 147.5l1.4 2.1 -1.4 2.1 -1.4 -2.1zM336.9 147.8l1.4 2.1 -1.4 2.1 -1.4 -2.1zM337.9 148l1.4 2.1 -1.4 2.1 -1.4 -2.1zM338.9 148.3l1.4 2.1 -1.4 2.1 -1.4 -2.1zM339.9 148.5l1.4 2.1 -1.4 2.1 -1.4 -2.1zM340.9 148.7l1.4 2.1 -1.4 2.1 -1.4 -2.1zM341.9 149l1.4 2.1 -1.4 2.1 -1.4 -2.1zM342.9 149.2l1.4 2.1 -1.4 2.1 -1.4 -2.1zM343.9 149.4l1.4 2.1 -1.4 2.1 -1.4 -2.1zM344.9 149.7l1.4 2.1 -1.4 2.1 -1.4 -2.1zM345.9 149.9l1.4 2.1 -1.4 2.1 -1.4 -2.1zM346.9 150.1l1.4 2.1 -1.4 2.1 -1.4 -2.1zM347.9 150.3l1.4 2.1 -1.4 2.1 -1.4 -2.1zM348.9 150.5l1.4 2.1 -1.4 2.1 -1.4 -2.1zM349.9 150.7l1.4 2.1 -1.4 2.1 -1.4 -2.1zM350.9 150.9l1.4 2.1 -1.4 2.1 -1.4 -2.1zM351.9 151.1l1.4 2.1 -1.4 2.1 -1.4 -2.1zM352.9 151.3l1.4 2.1 -1.4 2.1 -1.4 -2.1zM353.9 151.5l1.4 2.1 -1.4 2.1 -1.4 -2.1zM354.9 151.7l1.4 2.1 -1.4 2.1 -1.4 -2.1zM355.9 151.8l1.4 2.1 -1.4 2.1 -1.4 -2.1zM356.9 152l1.4 2.1 -1.4 2.1 -1.4 -2.1zM357.9 152.1l1.4 2.1 -1.4 2.1 -1.4 -2.1zM358.9 152.2l1.4 2.1 -1.4 2.1 -1.4 -2.1zM359.9 152.4l1.4 2.1 -1.4 2.1 -1.4 -2.1zM360.9 152.5l1.4 2.1 -1.4 2.1 -1.4 -2.1zM361.9 152.6l1.4 2.1 -1.4 2.1 -1.4 -2.1zM362.9 152.7l1.4 2.1 -1.4 2.1 -1.4 -2.1zM363.9 152.7l1.4 2.1 -1.4 2.1 -1.4 -2.1zM364.9 152.7l1.4 2.1 -1.4 2.1 -1.4 -2.1zM365.9 152.7l1.4 2.1 -1.4 2.1 -1.4 -2.1zM366.9 152.7l1.4 2.1 -1.4 2.1 -1.4 -2.1zM367.9 152.7l1.4 2.1 -1.4 2.1 -1.4 -2.1zM368.9 152.6l1.4 2.1 -1.4 2.1 -1.4 -2.1zM369.9 152.6l1.4 2.1 -1.4 2.1 -1.4 -2.1zM370.9 152.5l1.4 2.1 -1.4 2.1 -1.4 -2.1zM371.9 152.5l1.4 2.1 -1.4 2.1 -1.4 -2.1zM372.9 152.4l1.4 2.1 -1.4 2.1 -1.4 -2.1zM373.9 152.3l1.4 2.1 -1.4 2.1 -1.4 -2.1zM374.9 152.2l1.4 2.1 -1.4 2.1 -1.4 -2.1zM375.9 152.1l1.4 2.1 -1.4 2.1 -1.4 -2.1zM376.9 151.9l1.4 2.1 -1.4 2.1 -1.4 -2.1zM377.9 151.7l1.4 2.1 -1.4 2.1 -1.4 -2.1zM378.9 151.4l1.4 2.1 -1.4 2.1 -1.4 -2.1zM379.9 151l1.4 2.1 -1.4 2.1 -1.4 -2.1zM380.9 150.7l1.4 2.1 -1.4 2.1 -1.4 -2.1zM381.9 150.3l1.4 2.1 -1.4 2.1 -1.4 -2.1zM382.9 149.8l1.4 2.1 -1.4 2.1 -1.4 -2.1zM383.9 149.3l1.4 2.1 -1.4 2.1 -1.4 -2.1zM384.9 148.6l1.4 2.1 -1.4 2.1 -1.4 -2.1zM385.9 147.9l1.4 2.1 -1.4 2.1 -1.4 -2.1zM386.9 147.1l1.4 2.1 -1.4 2.1 -1.4 -2.1zM387.9 146.1l1.4 2.1 -1.4 2.1 -1.4 -2.1zM388.9 144.9l1.4 2.1 -1.4 2.1 -1.4 -2.1zM389.9 143.6l1.4 2.1 -1.4 2.1 -1.4 -2.1zM390.9 142.2l1.4 2.1 -1.4 2.1 -1.4 -2.1zM391.9 140.7l1.4 2.1 -1.4 2.1 -1.4 -2.1zM392.9 138.4l1.4 2.1 -1.4 2.1 -1.4 -2.1zM393.9 135.7l1.4 2.1 -1.4 2.1 -1.4 -2.1zM394.9 133l1.4 2.1 -1.4 2.1 -1.4 -2.1zM395.9 130.2l1.4 2.1 -1.4 2.1 -1.4 -2.1zM396.9 127.4l1.4 2.1 -1.4 2.1 -1.4 -2.1zM397.9 123.8l1.4 2.1 -1.4 2.1 -1.4 -2.1zM398.9 118.9l1.4 2.1 -1.4 2.1 -1.4 -2.1zM399.9 114.2l1.4 2.1 -1.4 2.1 -1.4 -2.1zM400.9 109.4l1.4 2.1 -1.4 2.1 -1.4 -2.1zM401.9 104.6l1.4 2.1 -1.4 2.1 -1.4 -2.1zM402.9 99.2l1.4 2.1 -1.4 2.1 -1.4 -2.1zM403.9 93.7l1.4 2.1 -1.4 2.1 -1.4 -2.1zM404.9 88.3l1.4 2.1 -1.4 2.1 -1.4 -2.1zM405.9 79.9l1.4 2.1 -1.4 2.1 -1.4 -2.1zM406.9 74.4l1.4 2.1 -1.4 2.1 -1.4 -2.1zM407.9 68.5l1.4 2.1 -1.4 2.1 -1.4 -2.1zM408.9 63.6l1.4 2.1 -1.4 2.1 -1.4 -2.1zM409.9 58.3l1.4 2.1 -1.4 2.1 -1.4 -2.1zM410.9 55.7l1.4 2.1 -1.4 2.1 -1.4 -2.1zM411.9 53.8l1.4 2.1 -1.4 2.1 -1.4 -2.1zM412.9 53.9l1.4 2.1 -1.4 2.1 -1.4 -2.1zM413.9 56.6l1.4 2.1 -1.4 2.1 -1.4 -2.1zM414.9 60.6l1.4 2.1 -1.4 2.1 -1.4 -2.1zM415.9 66.7l1.4 2.1 -1.4 2.1 -1.4 -2.1zM416.9 74.3l1.4 2.1 -1.4 2.1 -1.4 -2.1zM417.9 89.9l1.4 2.1 -1.4 2.1 -1.4 -2.1zM418.9 101.3l1.4 2.1 -1.4 2.1 -1.4 -2.1zM419.9 112.4l1.4 2.1 -1.4 2.1 -1.4 -2.1zM420.9 119.7l1.4 2.1 -1.4 2.1 -1.4 -2.1zM421.9 129.8l1.4 2.1 -1.4 2.1 -1.4 -2.1zM422.9 134.5l1.4 2.1 -1.4 2.1 -1.4 -2.1zM423.9 137.2l1.4 2.1 -1.4 2.1 -1.4 -2.1zM424.9 139.2l1.4 2.1 -1.4 2.1 -1.4 -2.1zM425.9 140.4l1.4 2.1 -1.4 2.1 -1.4 -2.1zM426.9 141.1l1.4 2.1 -1.4 2.1 -1.4 -2.1zM427.9 141.7l1.4 2.1 -1.4 2.1 -1.4 -2.1zM428.9 142.2l1.4 2.1 -1.4 2.1 -1.4 -2.1zM429.9 142.5l1.4 2.1 -1.4 2.1 -1.4 -2.1zM430.9 142.7l1.4 2.1 -1.4 2.1 -1.4 -2.1zM431.9 142.9l1.4 2.1 -1.4 2.1 -1.4 -2.1zM432.9 143.1l1.4 2.1 -1.4 2.1 -1.4 -2.1zM433.9 143.2l1.4 2.1 -1.4 2.1 -1.4 -2.1zM434.9 143.3l1.4 2.1 -1.4 2.1 -1.4 -2.1zM435.9 143.4l1.4 2.1 -1.4 2.1 -1.4 -2.1zM436.9 143.5l1.4 2.1 -1.4 2.1 -1.4 -2.1zM437.9 143.6l1.4 2.1 -1.4 2.1 -1.4 -2.1zM438.9 143.6l1.4 2.1 -1.4 2.1 -1.4 -2.1zM439.9 143.7l1.4 2.1 -1.4 2.1 -1.4 -2.1zM440.9 143.8l1.4 2.1 -1.4 2.1 -1.4 -2.1zM441.9 143.9l1.4 2.1 -1.4 2.1 -1.4 -2.1zM442.9 144l1.4 2.1 -1.4 2.1 -1.4 -2.1zM443.9 144.1l1.4 2.1 -1.4 2.1 -1.4 -2.1zM444.9 144.2l1.4 2.1 -1.4 2.1 -1.4 -2.1zM445.9 144.3l1.4 2.1 -1.4 2.1 -1.4 -2.1zM446.9 144.3l1.4 2.1 -1.4 2.1 -1.4 -2.1zM447.9 144.4l1.4 2.1 -1.4 2.1 -1.4 -2.1zM448.9 144.5l1.4 2.1 -1.4 2.1 -1.4 -2.1zM449.9 144.5l1.4 2.1 -1.4 2.1 -1.4 -2.1zM450.9 144.6l1.4 2.1 -1.4 2.1 -1.4 -2.1zM451.9 144.6l1.4 2.1 -1.4 2.1 -1.4 -2.1zM452.9 144.7l1.4 2.1 -1.4 2.1 -1.4 -2.1zM453.9 144.7l1.4 2.1 -1.4 2.1 -1.4 -2.1zM454.9 144.7l1.4 2.1 -1.4 2.1 -1.4 -2.1zM455.9 144.8l1.4 2.1 -1.4 2.1 -1.4 -2.1zM456.9 144.8l1.4 2.1 -1.4 2.1 -1.4 -2.1zM457.9 144.8l1.4 2.1 -1.4 2.1 -1.4 -2.1zM458.9 144.9l1.4 2.1 -1.4 2.1 -1.4 -2.1zM459.9 144.9l1.4 2.1 -1.4 2.1 -1.4 -2.1zM460.9 144.9l1.4 2.1 -1.4 2.1 -1.4 -2.1zM461.9 145l1.4 2.1 -1.4 2.1 -1.4 -2.1zM462.9 145l1.4 2.1 -1.4 2.1 -1.4 -2.1zM463.9 145l1.4 2.1 -1.4 2.1 -1.4 -2.1zM464.9 145.1l1.4 2.1 -1.4 2.1 -1.4 -2.1zM465.9 145.1l1.4 2.1 -1.4 2.1 -1.4 -2.1zM466.9 145.1l1.4 2.1 -1.4 2.1 -1.4 -2.1zM467.9 145.2l1.4 2.1 -1.4 2.1 -1.4 -2.1zM468.9 145.2l1.4 2.1 -1.4 2.1 -1.4 -2.1zM469.9 145.2l1.4 2.1 -1.4 2.1 -1.4 -2.1zM470.9 145.3l1.4 2.1 -1.4 2.1 -1.4 -2.1zM471.9 145.3l1.4 2.1 -1.4 2.1 -1.4 -2.1zM472.9 145.4l1.4 2.1 -1.4 2.1 -1.4 -2.1zM473.9 145.4l1.4 2.1 -1.4 2.1 -1.4 -2.1zM474.9 145.4l1.4 2.1 -1.4 2.1 -1.4 -2.1zM475.9 145.5l1.4 2.1 -1.4 2.1 -1.4 -2.1zM476.9 145.5l1.4 2.1 -1.4 2.1 -1.4 -2.1zM477.9 145.6l1.4 2.1 -1.4 2.1 -1.4 -2.1zM478.9 145.6l1.4 2.1 -1.4 2.1 -1.4 -2.1zM479.9 145.7l1.4 2.1 -1.4 2.1 -1.4 -2.1zM480.9 145.7l1.4 2.1 -1.4 2.1 -1.4 -2.1zM481.9 145.8l1.4 2.1 -1.4 2.1 -1.4 -2.1zM482.9 145.8l1.4 2.1 -1.4 2.1 -1.4 -2.1zM483.9 145.9l1.4 2.1 -1.4 2.1 -1.4 -2.1zM484.9 145.9l1.4 2.1 -1.4 2.1 -1.4 -2.1zM485.9 146l1.4 2.1 -1.4 2.1 -1.4 -2.1zM486.9 146l1.4 2.1 -1.4 2.1 -1.4 -2.1zM487.9 146.1l1.4 2.1 -1.4 2.1 -1.4 -2.1zM488.9 146.1l1.4 2.1 -1.4 2.1 -1.4 -2.1zM489.9 146.2l1.4 2.1 -1.4 2.1 -1.4 -2.1zM490.9 146.2l1.4 2.1 -1.4 2.1 -1.4 -2.1zM491.9 146.3l1.4 2.1 -1.4 2.1 -1.4 -2.1zM492.9 146.4l1.4 2.1 -1.4 2.1 -1.4 -2.1zM493.9 146.4l1.4 2.1 -1.4 2.1 -1.4 -2.1zM494.9 146.5l1.4 2.1 -1.4 2.1 -1.4 -2.1zM495.9 146.5l1.4 2.1 -1.4 2.1 -1.4 -2.1zM496.9 146.6l1.4 2.1 -1.4 2.1 -1.4 -2.1zM497.9 146.6l1.4 2.1 -1.4 2.1 -1.4 -2.1zM498.9 146.7l1.4 2.1 -1.4 2.1 -1.4 -2.1zM499.9 146.7l1.4 2.1 -1.4 2.1 -1.4 -2.1zM500.9 146.8l1.4 2.1 -1.4 2.1 -1.4 -2.1zM501.9 146.8l1.4 2.1 -1.4 2.1 -1.4 -2.1zM502.9 146.9l1.4 2.1 -1.4 2.1 -1.4 -2.1zM503.9 146.9l1.4 2.1 -1.4 2.1 -1.4 -2.1zM504.9 147l1.4 2.1 -1.4 2.1 -1.4 -2.1zM505.9 147l1.4 2.1 -1.4 2.1 -1.4 -2.1zM506.9 147.1l1.4 2.1 -1.4 2.1 -1.4 -2.1zM507.9 147.2l1.4 2.1 -1.4 2.1 -1.4 -2.1zM508.9 147.2l1.4 2.1 -1.4 2.1 -1.4 -2.1zM509.9 147.3l1.4 2.1 -1.4 2.1 -1.4 -2.1zM510.9 147.3l1.4 2.1 -1.4 2.1 -1.4 -2.1zM511.9 147.4l1.4 2.1 -1.4 2.1 -1.4 -2.1zM512.9 147.4l1.4 2.1 -1.4 2.1 -1.4 -2.1zM513.9 147.5l1.4 2.1 -1.4 2.1 -1.4 -2.1zM514.9 147.5l1.4 2.1 -1.4 2.1 -1.4 -2.1zM515.9 147.6l1.4 2.1 -1.4 2.1 -1.4 -2.1zM516.9 147.6l1.4 2.1 -1.4 2.1 -1.4 -2.1zM517.9 147.7l1.4 2.1 -1.4 2.1 -1.4 -2.1zM518.9 147.8l1.4 2.1 -1.4 2.1 -1.4 -2.1zM519.9 147.8l1.4 2.1 -1.4 2.1 -1.4 -2.1zM520.9 147.9l1.4 2.1 -1.4 2.1 -1.4 -2.1zM521.9 147.9l1.4 2.1 -1.4 2.1 -1.4 -2.1zM522.9 148l1.4 2.1 -1.4 2.1 -1.4 -2.1zM523.9 148l1.4 2.1 -1.4 2.1 -1.4 -2.1zM524.9 148.1l1.4 2.1 -1.4 2.1 -1.4 -2.1zM525.9 148.1l1.4 2.1 -1.4 2.1 -1.4 -2.1zM526.9 148.2l1.4 2.1 -1.4 2.1 -1.4 -2.1zM527.9 148.3l1.4 2.1 -1.4 2.1 -1.4 -2.1zM528.9 148.3l1.4 2.1 -1.4 2.1 -1.4 -2.1zM529.9 148.4l1.4 2.1 -1.4 2.1 -1.4 -2.1zM530.9 148.4l1.4 2.1 -1.4 2.1 -1.4 -2.1zM531.9 148.5l1.4 2.1 -1.4 2.1 -1.4 -2.1zM532.9 148.5l1.4 2.1 -1.4 2.1 -1.4 -2.1zM533.9 148.6l1.4 2.1 -1.4 2.1 -1.4 -2.1zM534.9 148.7l1.4 2.1 -1.4 2.1 -1.4 -2.1zM535.9 148.7l1.4 2.1 -1.4 2.1 -1.4 -2.1zM536.9 148.8l1.4 2.1 -1.4 2.1 -1.4 -2.1zM537.9 148.8l1.4 2.1 -1.4 2.1 -1.4 -2.1zM538.9 148.9l1.4 2.1 -1.4 2.1 -1.4 -2.1z" stroke="#7E2F8E" stroke-width="0.7" fill="none"/>
<path d="M293.9 16.2V234.2H539.5" stroke="#b0b0b0" stroke-width="1.2" fill="none"/>
<path d="M293.9 234.2v-2.2M343 234.2v-2.2M392.1 234.2v-2.2M441.3 234.2v-2.2M490.4 234.2v-2.2M539.5 234.2v-2.2M293.9 234.2h2.2M293.9 161.5h2.2M293.9 88.9h2.2M293.9 16.2h2.2" stroke="#b0b0b0" stroke-width="0.8" fill="none"/>
<text x="293.9" y="247.5" font-size="8.6" text-anchor="middle" font-family="'Liberation Serif', 'Times New Roman', serif" font-weight="bold" font-style="italic" stroke="#1a1a1a" stroke-width="0.3" text-rendering="geometricPrecision" fill="#1a1a1a">-1</text>
<text x="343" y="247.5" font-size="8.6" text-anchor="middle" font-family="'Liberation Serif', 'Times New Roman', serif" font-weight="bold" font-style="italic" stroke="#1a1a1a" stroke-width="0.3" text-rendering="geometricPrecision" fill="#1a1a1a">-0.8</text>
<text x="392.1" y="247.5" font-size="8.6" text-anchor="middle" font-family="'Liberation Serif', 'Times New Roman', serif" font-weight="bold" font-style="italic" stroke="#1a1a1a" stroke-width="0.3" text-rendering="geometricPrecision" fill="#1a1a1a">-0.6</text>
<text x="441.3" y="247.5" font-size="8.6" text-anchor="middle" font-family="'Liberation Serif', 'Times New Roman', serif" font-weight="bold" font-style="italic" stroke="#1a1a1a" stroke-width="0.3" text-rendering="geometricPrecision" fill="#1a1a1a">-0.4</text>
<text x="490.4" y="247.5" font-size="8.6" text-anchor="middle" font-family="'Liberation Serif', 'Times New Roman', serif" font-weight="bold" font-style="italic" stroke="#1a1a1a" stroke-width="0.3" text-rendering="geometricPrecision" fill="#1a1a1a">-0.2</text>
<text x="539.5" y="247.5" font-size="8.6" text-anchor="middle" font-family="'Liberation Serif', 'Times New Roman', serif" font-weight="bold" font-style="italic" stroke="#1a1a1a" stroke-width="0.3" text-rendering="geometricPrecision" fill="#1a1a1a">0</text>
<text x="290.5" y="237.6" font-size="8.6" text-anchor="end" font-family="'Liberation Serif', 'Times New Roman', serif" font-weight="bold" font-style="italic" stroke="#1a1a1a" stroke-width="0.3" text-rendering="geometricPrecision" fill="#1a1a1a">1.5</text>
<text x="290.5" y="165" font-size="8.6" text-anchor="end" font-family="'Liberation Serif', 'Times New Roman', serif" font-weight="bold" font-style="italic" stroke="#1a1a1a" stroke-width="0.3" text-rendering="geometricPrecision" fill="#1a1a1a">2</text>
<text x="290.5" y="92.3" font-size="8.6" text-anchor="end" font-family="'Liberation Serif', 'Times New Roman', serif" font-weight="bold" font-style="italic" stroke="#1a1a1a" stroke-width="0.3" text-rendering="geometricPrecision" fill="#1a1a1a">2.5</text>
<text x="290.5" y="19.6" font-size="8.6" text-anchor="end" font-family="'Liberation Serif', 'Times New Roman', serif" font-weight="bold" font-style="italic" stroke="#1a1a1a" stroke-width="0.3" text-rendering="geometricPrecision" fill="#1a1a1a">3</text>
<text x="295.2" y="16.2" font-size="12.3" font-family="'Liberation Serif', serif" fill="#1a1a1a" stroke="#1a1a1a" stroke-width="0.25">&#215;</text>
<text x="302.4" y="13.9" font-size="8.8" font-family="'Liberation Serif', 'Times New Roman', serif" font-weight="bold" font-style="italic" stroke="#1a1a1a" stroke-width="0.3" text-rendering="geometricPrecision" fill="#1a1a1a" textLength="8.4" lengthAdjust="spacingAndGlyphs">10</text>
<text x="310.6" y="10" font-size="7.5" font-family="'Liberation Serif', 'Times New Roman', serif" font-weight="bold" font-style="italic" stroke="#1a1a1a" stroke-width="0.3" text-rendering="geometricPrecision" fill="#1a1a1a" textLength="7.2" lengthAdjust="spacingAndGlyphs">-3</text>
<text x="416.5" y="258.2" font-size="9.4" text-anchor="middle" font-family="'Liberation Serif', 'Times New Roman', serif" font-weight="bold" font-style="italic" stroke="#1a1a1a" stroke-width="0.3" text-rendering="geometricPrecision" fill="#1a1a1a">Potential(V)</text>
<text x="412.4" y="272.3" font-size="11.4" text-anchor="middle" font-family="'Liberation Serif', 'Times New Roman', serif" font-weight="bold" font-style="italic" stroke="#1a1a1a" stroke-width="0.3" text-rendering="geometricPrecision" fill="#1a1a1a">(b)</text>
<rect x="492.3" y="19.5" width="43.3" height="56.1" fill="#fff" stroke="#b0b0b0" stroke-width="0.9"/>
<path d="M492.3 30.1H535.6" stroke="#b0b0b0" stroke-width="0.9"/>
<text x="514.3" y="28.6" font-size="8.2" text-anchor="middle" font-family="'Liberation Serif', 'Times New Roman', serif" font-weight="bold" font-style="italic" stroke="#1a1a1a" stroke-width="0.3" text-rendering="geometricPrecision" fill="#1a1a1a">Zn</text>
<path d="M499.4 35.8h3.2l-1.6 2.5z" stroke="#0072BD" stroke-width="0.7" fill="none"/>
<text x="509.9" y="39.7" font-size="9.2" text-anchor="start" font-family="'Liberation Serif', 'Times New Roman', serif" font-weight="bold" font-style="italic" stroke="#1a1a1a" stroke-width="0.3" text-rendering="geometricPrecision" fill="#1a1a1a">0.2g/L</text>
<path d="M500.1 45.7v3.2l2.5 -1.6z" stroke="#D95319" stroke-width="0.7" fill="none"/>
<text x="509.9" y="50.3" font-size="9.2" text-anchor="start" font-family="'Liberation Serif', 'Times New Roman', serif" font-weight="bold" font-style="italic" stroke="#1a1a1a" stroke-width="0.3" text-rendering="geometricPrecision" fill="#1a1a1a">0.5g/L</text>
<circle cx="501" cy="58.1" r="1.1" fill="#EDB120"/>
<text x="509.9" y="61.1" font-size="9.2" text-anchor="start" font-family="'Liberation Serif', 'Times New Roman', serif" font-weight="bold" font-style="italic" stroke="#1a1a1a" stroke-width="0.3" text-rendering="geometricPrecision" fill="#1a1a1a">1g/L</text>
<path d="M501 67l1.3 1.8 -1.3 1.8 -1.3 -1.8z" stroke="#7E2F8E" stroke-width="0.7" fill="none"/>
<text x="509.9" y="71.8" font-size="9.2" text-anchor="start" font-family="'Liberation Serif', 'Times New Roman', serif" font-weight="bold" font-style="italic" stroke="#1a1a1a" stroke-width="0.3" text-rendering="geometricPrecision" fill="#1a1a1a">2g/L</text>
<path d="M31 445L29.4 445.9L27.8 445L27.8 443.2L29.4 442.3L31 443.2zM31.9 446.9L30.3 447.8L28.8 446.9L28.8 445.1L30.3 444.2L31.9 445.1zM32.8 446.1L31.2 447L29.7 446.1L29.7 444.3L31.2 443.4L32.8 444.3zM33.7 446.8L32.2 447.7L30.6 446.8L30.6 445L32.2 444.1L33.7 445zM34.6 445.9L33.1 446.8L31.5 445.9L31.5 444.1L33.1 443.2L34.6 444.1zM35.6 446.3L34 447.2L32.4 446.3L32.4 444.5L34 443.6L35.6 444.5zM36.5 445.9L34.9 446.8L33.4 445.9L33.4 444.1L34.9 443.2L36.5 444.1zM37.4 445.8L35.8 446.7L34.3 445.8L34.3 444L35.8 443.1L37.4 444zM38.3 446.1L36.8 447L35.2 446.1L35.2 444.3L36.8 443.4L38.3 444.3zM39.2 446.2L37.7 447.1L36.1 446.2L36.1 444.4L37.7 443.5L39.2 444.4zM40.2 446.9L38.6 447.8L37 446.9L37 445.1L38.6 444.2L40.2 445.1zM41.1 446L39.5 446.9L38 446L38 444.2L39.5 443.3L41.1 444.2zM42 446.3L40.4 447.2L38.9 446.3L38.9 444.5L40.4 443.6L42 444.5zM42.9 445.9L41.4 446.8L39.8 445.9L39.8 444.1L41.4 443.2L42.9 444.1zM43.8 446.1L42.3 447L40.7 446.1L40.7 444.3L42.3 443.4L43.8 444.3zM44.8 445.3L43.2 446.2L41.6 445.3L41.6 443.5L43.2 442.6L44.8 443.5zM45.7 446.4L44.1 447.3L42.6 446.4L42.6 444.6L44.1 443.7L45.7 444.6zM46.6 445.5L45 446.4L43.5 445.5L43.5 443.7L45 442.8L46.6 443.7zM47.5 445.7L46 446.6L44.4 445.7L44.4 443.9L46 443L47.5 443.9zM48.4 445.5L46.9 446.4L45.3 445.5L45.3 443.7L46.9 442.8L48.4 443.7zM49.4 446L47.8 446.9L46.2 446L46.2 444.2L47.8 443.3L49.4 444.2zM50.3 445.7L48.7 446.6L47.2 445.7L47.2 443.9L48.7 443L50.3 443.9zM51.2 445.4L49.6 446.3L48.1 445.4L48.1 443.6L49.6 442.7L51.2 443.6zM52.1 445.5L50.6 446.4L49 445.5L49 443.7L50.6 442.8L52.1 443.7zM53 445.6L51.5 446.5L49.9 445.6L49.9 443.8L51.5 442.9L53 443.8zM54 445.9L52.4 446.8L50.8 445.9L50.8 444.1L52.4 443.2L54 444.1zM54.9 445.9L53.3 446.8L51.8 445.9L51.8 444.1L53.3 443.2L54.9 444.1zM55.8 446.4L54.2 447.3L52.7 446.4L52.7 444.6L54.2 443.7L55.8 444.6zM56.7 446.6L55.2 447.5L53.6 446.6L53.6 444.8L55.2 443.9L56.7 444.8zM57.6 446.2L56.1 447.1L54.5 446.2L54.5 444.4L56.1 443.5L57.6 444.4zM58.6 445.4L57 446.3L55.4 445.4L55.4 443.6L57 442.7L58.6 443.6zM59.5 447L57.9 447.9L56.4 447L56.4 445.2L57.9 444.3L59.5 445.2zM60.4 447.2L58.8 448.1L57.3 447.2L57.3 445.4L58.8 444.5L60.4 445.4zM61.3 446L59.8 446.9L58.2 446L58.2 444.2L59.8 443.3L61.3 444.2zM62.2 446L60.7 446.9L59.1 446L59.1 444.2L60.7 443.3L62.2 444.2zM63.2 445.1L61.6 446L60 445.1L60 443.3L61.6 442.4L63.2 443.3zM64.1 446.5L62.5 447.4L61 446.5L61 444.7L62.5 443.8L64.1 444.7zM65 445.6L63.4 446.5L61.9 445.6L61.9 443.8L63.4 442.9L65 443.8zM65.9 447L64.4 447.9L62.8 447L62.8 445.2L64.4 444.3L65.9 445.2zM66.8 444.8L65.3 445.7L63.7 444.8L63.7 443L65.3 442.1L66.8 443zM67.8 446L66.2 446.9L64.6 446L64.6 444.2L66.2 443.3L67.8 444.2zM68.7 446.3L67.1 447.2L65.6 446.3L65.6 444.5L67.1 443.6L68.7 444.5zM69.6 445.7L68 446.6L66.5 445.7L66.5 443.9L68 443L69.6 443.9zM70.5 445.5L69 446.4L67.4 445.5L67.4 443.7L69 442.8L70.5 443.7zM71.4 446L69.9 446.9L68.3 446L68.3 444.2L69.9 443.3L71.4 444.2zM72.4 445.6L70.8 446.5L69.2 445.6L69.2 443.8L70.8 442.9L72.4 443.8zM73.3 445.7L71.7 446.6L70.2 445.7L70.2 443.9L71.7 443L73.3 443.9zM74.2 445.9L72.6 446.8L71.1 445.9L71.1 444.1L72.6 443.2L74.2 444.1zM75.1 445.7L73.6 446.6L72 445.7L72 443.9L73.6 443L75.1 443.9zM76 445.9L74.5 446.8L72.9 445.9L72.9 444.1L74.5 443.2L76 444.1zM77 446.4L75.4 447.3L73.8 446.4L73.8 444.6L75.4 443.7L77 444.6zM77.9 445.9L76.3 446.8L74.8 445.9L74.8 444.1L76.3 443.2L77.9 444.1zM78.8 446.2L77.2 447.1L75.7 446.2L75.7 444.4L77.2 443.5L78.8 444.4zM79.7 445.8L78.2 446.7L76.6 445.8L76.6 444L78.2 443.1L79.7 444zM80.6 446.7L79.1 447.6L77.5 446.7L77.5 444.9L79.1 444L80.6 444.9zM81.6 445.6L80 446.5L78.4 445.6L78.4 443.8L80 442.9L81.6 443.8zM82.5 446.8L80.9 447.7L79.4 446.8L79.4 445L80.9 444.1L82.5 445zM83.4 444.8L81.8 445.7L80.3 444.8L80.3 443L81.8 442.1L83.4 443zM84.3 445.9L82.8 446.8L81.2 445.9L81.2 444.1L82.8 443.2L84.3 444.1zM85.2 445.6L83.7 446.5L82.1 445.6L82.1 443.8L83.7 442.9L85.2 443.8zM86.2 446.9L84.6 447.8L83 446.9L83 445.1L84.6 444.2L86.2 445.1zM87.1 446.5L85.5 447.4L84 446.5L84 444.7L85.5 443.8L87.1 444.7zM88 445.7L86.4 446.6L84.9 445.7L84.9 443.9L86.4 443L88 443.9zM88.9 446.1L87.4 447L85.8 446.1L85.8 444.3L87.4 443.4L88.9 444.3zM89.8 447.1L88.3 448L86.7 447.1L86.7 445.3L88.3 444.4L89.8 445.3zM90.8 446.3L89.2 447.2L87.6 446.3L87.6 444.5L89.2 443.6L90.8 444.5zM91.7 446.6L90.1 447.5L88.6 446.6L88.6 444.8L90.1 443.9L91.7 444.8zM92.6 445.6L91 446.5L89.5 445.6L89.5 443.8L91 442.9L92.6 443.8zM93.5 445.6L92 446.5L90.4 445.6L90.4 443.8L92 442.9L93.5 443.8zM94.4 446.6L92.9 447.5L91.3 446.6L91.3 444.8L92.9 443.9L94.4 444.8zM95.4 447.4L93.8 448.3L92.2 447.4L92.2 445.6L93.8 444.7L95.4 445.6zM96.3 446L94.7 446.9L93.2 446L93.2 444.2L94.7 443.3L96.3 444.2zM97.2 446.5L95.6 447.4L94.1 446.5L94.1 444.7L95.6 443.8L97.2 444.7zM98.1 445.7L96.6 446.6L95 445.7L95 443.9L96.6 443L98.1 443.9zM99 446.8L97.5 447.7L95.9 446.8L95.9 445L97.5 444.1L99 445zM100 445.9L98.4 446.8L96.8 445.9L96.8 444.1L98.4 443.2L100 444.1zM100.9 445.9L99.3 446.8L97.8 445.9L97.8 444.1L99.3 443.2L100.9 444.1zM101.8 445.1L100.2 446L98.7 445.1L98.7 443.3L100.2 442.4L101.8 443.3zM102.7 445.8L101.2 446.7L99.6 445.8L99.6 444L101.2 443.1L102.7 444zM103.6 446L102.1 446.9L100.5 446L100.5 444.2L102.1 443.3L103.6 444.2zM104.6 446.6L103 447.5L101.4 446.6L101.4 444.8L103 443.9L104.6 444.8zM105.5 445.3L103.9 446.2L102.4 445.3L102.4 443.5L103.9 442.6L105.5 443.5zM106.4 446.3L104.8 447.2L103.3 446.3L103.3 444.5L104.8 443.6L106.4 444.5zM107.3 445.5L105.8 446.4L104.2 445.5L104.2 443.7L105.8 442.8L107.3 443.7zM108.2 445.4L106.7 446.3L105.1 445.4L105.1 443.6L106.7 442.7L108.2 443.6zM109.2 444.9L107.6 445.8L106 444.9L106 443.1L107.6 442.2L109.2 443.1zM110.1 444.3L108.5 445.2L107 444.3L107 442.5L108.5 441.6L110.1 442.5zM111 444.3L109.4 445.2L107.9 444.3L107.9 442.5L109.4 441.6L111 442.5zM111.9 445.5L110.4 446.4L108.8 445.5L108.8 443.7L110.4 442.8L111.9 443.7zM112.8 443.8L111.3 444.7L109.7 443.8L109.7 442L111.3 441.1L112.8 442zM113.8 444L112.2 444.9L110.6 444L110.6 442.2L112.2 441.3L113.8 442.2zM114.7 444.6L113.1 445.5L111.6 444.6L111.6 442.8L113.1 441.9L114.7 442.8zM115.6 442.9L114 443.8L112.5 442.9L112.5 441.1L114 440.2L115.6 441.1zM116.5 444.1L115 445L113.4 444.1L113.4 442.3L115 441.4L116.5 442.3zM117.4 443.7L115.9 444.6L114.3 443.7L114.3 441.9L115.9 441L117.4 441.9zM118.4 444.1L116.8 445L115.2 444.1L115.2 442.3L116.8 441.4L118.4 442.3zM119.3 444.6L117.7 445.5L116.2 444.6L116.2 442.8L117.7 441.9L119.3 442.8zM120.2 444.3L118.6 445.2L117.1 444.3L117.1 442.5L118.6 441.6L120.2 442.5zM121.1 444.5L119.6 445.4L118 444.5L118 442.7L119.6 441.8L121.1 442.7zM122 445.2L120.5 446.1L118.9 445.2L118.9 443.4L120.5 442.5L122 443.4zM123 445.4L121.4 446.3L119.8 445.4L119.8 443.6L121.4 442.7L123 443.6zM123.9 444.9L122.3 445.8L120.8 444.9L120.8 443.1L122.3 442.2L123.9 443.1zM124.8 445.4L123.2 446.3L121.7 445.4L121.7 443.6L123.2 442.7L124.8 443.6zM125.7 445L124.2 445.9L122.6 445L122.6 443.2L124.2 442.3L125.7 443.2zM126.6 446.4L125.1 447.3L123.5 446.4L123.5 444.6L125.1 443.7L126.6 444.6zM127.6 445.3L126 446.2L124.4 445.3L124.4 443.5L126 442.6L127.6 443.5zM128.5 446L126.9 446.9L125.4 446L125.4 444.2L126.9 443.3L128.5 444.2zM129.4 446.9L127.8 447.8L126.3 446.9L126.3 445.1L127.8 444.2L129.4 445.1zM130.3 446.5L128.8 447.4L127.2 446.5L127.2 444.7L128.8 443.8L130.3 444.7zM131.2 446L129.7 446.9L128.1 446L128.1 444.2L129.7 443.3L131.2 444.2zM132.2 445.9L130.6 446.8L129 445.9L129 444.1L130.6 443.2L132.2 444.1zM133.1 446L131.5 446.9L130 446L130 444.2L131.5 443.3L133.1 444.2zM134 446.8L132.4 447.7L130.9 446.8L130.9 445L132.4 444.1L134 445zM134.9 446.5L133.4 447.4L131.8 446.5L131.8 444.7L133.4 443.8L134.9 444.7zM135.8 446.4L134.3 447.3L132.7 446.4L132.7 444.6L134.3 443.7L135.8 444.6zM136.8 447.7L135.2 448.6L133.6 447.7L133.6 445.9L135.2 445L136.8 445.9zM137.7 445.9L136.1 446.8L134.6 445.9L134.6 444.1L136.1 443.2L137.7 444.1zM138.6 446L137 446.9L135.5 446L135.5 444.2L137 443.3L138.6 444.2zM139.5 446L138 446.9L136.4 446L136.4 444.2L138 443.3L139.5 444.2zM140.4 446.1L138.9 447L137.3 446.1L137.3 444.3L138.9 443.4L140.4 444.3zM141.4 446L139.8 446.9L138.2 446L138.2 444.2L139.8 443.3L141.4 444.2zM142.3 445.5L140.7 446.4L139.2 445.5L139.2 443.7L140.7 442.8L142.3 443.7zM143.2 445.8L141.6 446.7L140.1 445.8L140.1 444L141.6 443.1L143.2 444zM144.1 445.5L142.6 446.4L141 445.5L141 443.7L142.6 442.8L144.1 443.7zM145 444.8L143.5 445.7L141.9 444.8L141.9 443L143.5 442.1L145 443zM146 443.4L144.4 444.3L142.8 443.4L142.8 441.6L144.4 440.7L146 441.6zM146.9 444.8L145.3 445.7L143.8 444.8L143.8 443L145.3 442.1L146.9 443zM147.8 443.5L146.2 444.4L144.7 443.5L144.7 441.7L146.2 440.8L147.8 441.7zM148.7 443L147.2 443.9L145.6 443L145.6 441.2L147.2 440.3L148.7 441.2zM149.6 442.6L148.1 443.5L146.5 442.6L146.5 440.8L148.1 439.9L149.6 440.8zM150.6 441.4L149 442.3L147.4 441.4L147.4 439.6L149 438.7L150.6 439.6zM151.5 441L149.9 441.9L148.4 441L148.4 439.2L149.9 438.3L151.5 439.2zM152.4 440.9L150.8 441.8L149.3 440.9L149.3 439.1L150.8 438.2L152.4 439.1zM153.3 440.1L151.8 441L150.2 440.1L150.2 438.3L151.8 437.4L153.3 438.3zM154.2 439.9L152.7 440.8L151.1 439.9L151.1 438.1L152.7 437.2L154.2 438.1zM155.2 438.7L153.6 439.6L152 438.7L152 436.9L153.6 436L155.2 436.9zM156.1 438.4L154.5 439.3L153 438.4L153 436.6L154.5 435.7L156.1 436.6zM157 437.3L155.4 438.2L153.9 437.3L153.9 435.5L155.4 434.6L157 435.5zM157.9 436.8L156.4 437.7L154.8 436.8L154.8 435L156.4 434.1L157.9 435zM158.8 436.2L157.3 437.1L155.7 436.2L155.7 434.4L157.3 433.5L158.8 434.4zM159.8 435L158.2 435.9L156.6 435L156.6 433.2L158.2 432.3L159.8 433.2zM160.7 433.5L159.1 434.4L157.6 433.5L157.6 431.7L159.1 430.8L160.7 431.7zM161.6 433.2L160 434.1L158.5 433.2L158.5 431.4L160 430.5L161.6 431.4zM162.5 432.6L161 433.5L159.4 432.6L159.4 430.8L161 429.9L162.5 430.8zM163.4 432.3L161.9 433.2L160.3 432.3L160.3 430.5L161.9 429.6L163.4 430.5zM164.4 431L162.8 431.9L161.2 431L161.2 429.2L162.8 428.3L164.4 429.2zM165.3 430.1L163.7 431L162.2 430.1L162.2 428.3L163.7 427.4L165.3 428.3zM166.2 428.9L164.6 429.8L163.1 428.9L163.1 427.1L164.6 426.2L166.2 427.1zM167.1 429.6L165.6 430.5L164 429.6L164 427.8L165.6 426.9L167.1 427.8zM168 427.2L166.5 428.1L164.9 427.2L164.9 425.4L166.5 424.5L168 425.4zM169 426.1L167.4 427L165.8 426.1L165.8 424.3L167.4 423.4L169 424.3zM169.9 425.5L168.3 426.4L166.8 425.5L166.8 423.7L168.3 422.8L169.9 423.7zM170.8 423.5L169.2 424.4L167.7 423.5L167.7 421.7L169.2 420.8L170.8 421.7zM171.7 423.7L170.2 424.6L168.6 423.7L168.6 421.9L170.2 421L171.7 421.9zM172.6 421.8L171.1 422.7L169.5 421.8L169.5 420L171.1 419.1L172.6 420zM173.6 420.3L172 421.2L170.4 420.3L170.4 418.5L172 417.6L173.6 418.5zM174.5 417.5L172.9 418.4L171.4 417.5L171.4 415.7L172.9 414.8L174.5 415.7zM175.4 415.5L173.8 416.4L172.3 415.5L172.3 413.7L173.8 412.8L175.4 413.7zM176.3 413.7L174.8 414.6L173.2 413.7L173.2 411.9L174.8 411L176.3 411.9zM177.2 410.7L175.7 411.6L174.1 410.7L174.1 408.9L175.7 408L177.2 408.9zM178.2 408.6L176.6 409.5L175 408.6L175 406.8L176.6 405.9L178.2 406.8zM179.1 404.7L177.5 405.6L176 404.7L176 402.9L177.5 402L179.1 402.9zM180 400L178.4 400.9L176.9 400L176.9 398.2L178.4 397.3L180 398.2zM180.9 398.6L179.4 399.5L177.8 398.6L177.8 396.8L179.4 395.9L180.9 396.8zM181.8 396.7L180.3 397.6L178.7 396.7L178.7 394.9L180.3 394L181.8 394.9zM182.8 396L181.2 396.9L179.6 396L179.6 394.2L181.2 393.3L182.8 394.2zM183.7 394.5L182.1 395.4L180.6 394.5L180.6 392.7L182.1 391.8L183.7 392.7zM184.6 394.7L183 395.6L181.5 394.7L181.5 392.9L183 392L184.6 392.9zM185.5 395.7L184 396.6L182.4 395.7L182.4 393.9L184 393L185.5 393.9zM186.4 398.8L184.9 399.7L183.3 398.8L183.3 397L184.9 396.1L186.4 397zM187.4 405.8L185.8 406.7L184.2 405.8L184.2 404L185.8 403.1L187.4 404zM188.3 410.5L186.7 411.4L185.2 410.5L185.2 408.7L186.7 407.8L188.3 408.7zM189.2 414L187.6 414.9L186.1 414L186.1 412.2L187.6 411.3L189.2 412.2zM190.1 418L188.6 418.9L187 418L187 416.2L188.6 415.3L190.1 416.2zM191 422.3L189.5 423.2L187.9 422.3L187.9 420.5L189.5 419.6L191 420.5zM192 424.1L190.4 425L188.8 424.1L188.8 422.3L190.4 421.4L192 422.3zM192.9 425.8L191.3 426.7L189.8 425.8L189.8 424L191.3 423.1L192.9 424zM193.8 427.2L192.2 428.1L190.7 427.2L190.7 425.4L192.2 424.5L193.8 425.4zM194.7 429.8L193.2 430.7L191.6 429.8L191.6 428L193.2 427.1L194.7 428zM195.6 431.2L194.1 432.1L192.5 431.2L192.5 429.4L194.1 428.5L195.6 429.4zM196.6 432.8L195 433.7L193.4 432.8L193.4 431L195 430.1L196.6 431zM197.5 434.3L195.9 435.2L194.4 434.3L194.4 432.5L195.9 431.6L197.5 432.5zM198.4 436L196.8 436.9L195.3 436L195.3 434.2L196.8 433.3L198.4 434.2zM199.3 437.2L197.8 438.1L196.2 437.2L196.2 435.4L197.8 434.5L199.3 435.4zM200.2 439L198.7 439.9L197.1 439L197.1 437.2L198.7 436.3L200.2 437.2zM201.2 440.4L199.6 441.3L198 440.4L198 438.6L199.6 437.7L201.2 438.6zM202.1 439.4L200.5 440.3L199 439.4L199 437.6L200.5 436.7L202.1 437.6zM203 439.6L201.4 440.5L199.9 439.6L199.9 437.8L201.4 436.9L203 437.8zM203.9 440.3L202.4 441.2L200.8 440.3L200.8 438.5L202.4 437.6L203.9 438.5zM204.8 440.4L203.3 441.3L201.7 440.4L201.7 438.6L203.3 437.7L204.8 438.6zM205.8 439.6L204.2 440.5L202.6 439.6L202.6 437.8L204.2 436.9L205.8 437.8zM206.7 440.1L205.1 441L203.6 440.1L203.6 438.3L205.1 437.4L206.7 438.3zM207.6 440.2L206 441.1L204.5 440.2L204.5 438.4L206 437.5L207.6 438.4zM208.5 440.2L207 441.1L205.4 440.2L205.4 438.4L207 437.5L208.5 438.4zM209.4 440.1L207.9 441L206.3 440.1L206.3 438.3L207.9 437.4L209.4 438.3zM210.4 440.3L208.8 441.2L207.2 440.3L207.2 438.5L208.8 437.6L210.4 438.5zM211.3 440.8L209.7 441.7L208.2 440.8L208.2 439L209.7 438.1L211.3 439zM212.2 440.7L210.6 441.6L209.1 440.7L209.1 438.9L210.6 438L212.2 438.9zM213.1 440.6L211.6 441.5L210 440.6L210 438.8L211.6 437.9L213.1 438.8zM214 440.3L212.5 441.2L210.9 440.3L210.9 438.5L212.5 437.6L214 438.5zM215 439.6L213.4 440.5L211.8 439.6L211.8 437.8L213.4 436.9L215 437.8zM215.9 439.5L214.3 440.4L212.8 439.5L212.8 437.7L214.3 436.8L215.9 437.7zM216.8 439.9L215.2 440.8L213.7 439.9L213.7 438.1L215.2 437.2L216.8 438.1zM217.7 439.4L216.2 440.3L214.6 439.4L214.6 437.6L216.2 436.7L217.7 437.6zM218.6 439.6L217.1 440.5L215.5 439.6L215.5 437.8L217.1 436.9L218.6 437.8zM219.6 439.2L218 440.1L216.4 439.2L216.4 437.4L218 436.5L219.6 437.4zM220.5 439L218.9 439.9L217.4 439L217.4 437.2L218.9 436.3L220.5 437.2zM221.4 439.1L219.8 440L218.3 439.1L218.3 437.3L219.8 436.4L221.4 437.3zM222.3 438.1L220.8 439L219.2 438.1L219.2 436.3L220.8 435.4L222.3 436.3zM223.2 438.8L221.7 439.7L220.1 438.8L220.1 437L221.7 436.1L223.2 437zM224.2 438.6L222.6 439.5L221 438.6L221 436.8L222.6 435.9L224.2 436.8zM225.1 439.4L223.5 440.3L222 439.4L222 437.6L223.5 436.7L225.1 437.6zM226 438.7L224.4 439.6L222.9 438.7L222.9 436.9L224.4 436L226 436.9zM226.9 439.3L225.4 440.2L223.8 439.3L223.8 437.5L225.4 436.6L226.9 437.5zM227.8 439L226.3 439.9L224.7 439L224.7 437.2L226.3 436.3L227.8 437.2zM228.8 439.6L227.2 440.5L225.6 439.6L225.6 437.8L227.2 436.9L228.8 437.8zM229.7 439.8L228.1 440.7L226.6 439.8L226.6 438L228.1 437.1L229.7 438zM230.6 439.4L229 440.3L227.5 439.4L227.5 437.6L229 436.7L230.6 437.6zM231.5 439.7L230 440.6L228.4 439.7L228.4 437.9L230 437L231.5 437.9zM232.4 439.9L230.9 440.8L229.3 439.9L229.3 438.1L230.9 437.2L232.4 438.1zM233.4 440.3L231.8 441.2L230.2 440.3L230.2 438.5L231.8 437.6L233.4 438.5zM234.3 439.9L232.7 440.8L231.2 439.9L231.2 438.1L232.7 437.2L234.3 438.1zM235.2 440.2L233.6 441.1L232.1 440.2L232.1 438.4L233.6 437.5L235.2 438.4zM236.1 440.1L234.6 441L233 440.1L233 438.3L234.6 437.4L236.1 438.3zM237 439.9L235.5 440.8L233.9 439.9L233.9 438.1L235.5 437.2L237 438.1zM238 440.6L236.4 441.5L234.8 440.6L234.8 438.8L236.4 437.9L238 438.8zM238.9 440.9L237.3 441.8L235.8 440.9L235.8 439.1L237.3 438.2L238.9 439.1zM239.8 440.4L238.2 441.3L236.7 440.4L236.7 438.6L238.2 437.7L239.8 438.6zM240.7 441.7L239.2 442.6L237.6 441.7L237.6 439.9L239.2 439L240.7 439.9zM241.6 440.6L240.1 441.5L238.5 440.6L238.5 438.8L240.1 437.9L241.6 438.8zM242.6 441.4L241 442.3L239.4 441.4L239.4 439.6L241 438.7L242.6 439.6zM243.5 441.3L241.9 442.2L240.4 441.3L240.4 439.5L241.9 438.6L243.5 439.5zM244.4 440.4L242.8 441.3L241.3 440.4L241.3 438.6L242.8 437.7L244.4 438.6zM245.3 441.3L243.8 442.2L242.2 441.3L242.2 439.5L243.8 438.6L245.3 439.5zM246.2 440.7L244.7 441.6L243.1 440.7L243.1 438.9L244.7 438L246.2 438.9zM247.2 441.5L245.6 442.4L244 441.5L244 439.7L245.6 438.8L247.2 439.7zM248.1 442L246.5 442.9L245 442L245 440.2L246.5 439.3L248.1 440.2zM249 442.6L247.4 443.5L245.9 442.6L245.9 440.8L247.4 439.9L249 440.8zM249.9 442.2L248.4 443.1L246.8 442.2L246.8 440.4L248.4 439.5L249.9 440.4zM250.8 441.1L249.3 442L247.7 441.1L247.7 439.3L249.3 438.4L250.8 439.3zM251.8 441.8L250.2 442.7L248.6 441.8L248.6 440L250.2 439.1L251.8 440zM252.7 442.8L251.1 443.7L249.6 442.8L249.6 441L251.1 440.1L252.7 441zM253.6 442.3L252 443.2L250.5 442.3L250.5 440.5L252 439.6L253.6 440.5zM254.5 443.2L253 444.1L251.4 443.2L251.4 441.4L253 440.5L254.5 441.4zM255.4 442L253.9 442.9L252.3 442L252.3 440.2L253.9 439.3L255.4 440.2zM256.4 442.2L254.8 443.1L253.2 442.2L253.2 440.4L254.8 439.5L256.4 440.4zM257.3 441.9L255.7 442.8L254.2 441.9L254.2 440.1L255.7 439.2L257.3 440.1zM258.2 442.4L256.6 443.3L255.1 442.4L255.1 440.6L256.6 439.7L258.2 440.6zM259.1 443.4L257.6 444.3L256 443.4L256 441.6L257.6 440.7L259.1 441.6zM260 442.3L258.5 443.2L256.9 442.3L256.9 440.5L258.5 439.6L260 440.5zM261 443.3L259.4 444.2L257.8 443.3L257.8 441.5L259.4 440.6L261 441.5z" stroke="#0072BD" stroke-width="0.7" fill="none"/>
<path d="M27.7 443.9h3.4l-1.7 -2.6zM28.6 444h3.4l-1.7 -2.6zM29.5 443.5h3.4l-1.7 -2.6zM30.5 443.6h3.4l-1.7 -2.6zM31.4 444.6h3.4l-1.7 -2.6zM32.3 442.9h3.4l-1.7 -2.6zM33.2 443.9h3.4l-1.7 -2.6zM34.1 444.2h3.4l-1.7 -2.6zM35.1 443.6h3.4l-1.7 -2.6zM36 444.2h3.4l-1.7 -2.6zM36.9 441.9h3.4l-1.7 -2.6zM37.8 443.2h3.4l-1.7 -2.6zM38.7 442.7h3.4l-1.7 -2.6zM39.7 443.1h3.4l-1.7 -2.6zM40.6 443.2h3.4l-1.7 -2.6zM41.5 443.5h3.4l-1.7 -2.6zM42.4 442.8h3.4l-1.7 -2.6zM43.3 443.7h3.4l-1.7 -2.6zM44.3 442.4h3.4l-1.7 -2.6zM45.2 443.7h3.4l-1.7 -2.6zM46.1 443.1h3.4l-1.7 -2.6zM47 442.3h3.4l-1.7 -2.6zM47.9 442.3h3.4l-1.7 -2.6zM48.9 442.3h3.4l-1.7 -2.6zM49.8 442.7h3.4l-1.7 -2.6zM50.7 443.2h3.4l-1.7 -2.6zM51.6 443.9h3.4l-1.7 -2.6zM52.5 443.6h3.4l-1.7 -2.6zM53.5 442.5h3.4l-1.7 -2.6zM54.4 442.1h3.4l-1.7 -2.6zM55.3 443.1h3.4l-1.7 -2.6zM56.2 442.5h3.4l-1.7 -2.6zM57.1 443.2h3.4l-1.7 -2.6zM58.1 442.9h3.4l-1.7 -2.6zM59 444.6h3.4l-1.7 -2.6zM59.9 442.4h3.4l-1.7 -2.6zM60.8 443.5h3.4l-1.7 -2.6zM61.7 444.3h3.4l-1.7 -2.6zM62.7 443.1h3.4l-1.7 -2.6zM63.6 443h3.4l-1.7 -2.6zM64.5 444.2h3.4l-1.7 -2.6zM65.4 442.3h3.4l-1.7 -2.6zM66.3 442.6h3.4l-1.7 -2.6zM67.3 442.8h3.4l-1.7 -2.6zM68.2 443.7h3.4l-1.7 -2.6zM69.1 443.9h3.4l-1.7 -2.6zM70 443.5h3.4l-1.7 -2.6zM70.9 444.7h3.4l-1.7 -2.6zM71.9 443.5h3.4l-1.7 -2.6zM72.8 443.7h3.4l-1.7 -2.6zM73.7 443.6h3.4l-1.7 -2.6zM74.6 444.4h3.4l-1.7 -2.6zM75.5 443.9h3.4l-1.7 -2.6zM76.5 443.7h3.4l-1.7 -2.6zM77.4 444.8h3.4l-1.7 -2.6zM78.3 444.7h3.4l-1.7 -2.6zM79.2 444.6h3.4l-1.7 -2.6zM80.1 443.5h3.4l-1.7 -2.6zM81.1 443.6h3.4l-1.7 -2.6zM82 444.1h3.4l-1.7 -2.6zM82.9 444.1h3.4l-1.7 -2.6zM83.8 444h3.4l-1.7 -2.6zM84.7 444.1h3.4l-1.7 -2.6zM85.7 444.5h3.4l-1.7 -2.6zM86.6 443.6h3.4l-1.7 -2.6zM87.5 444.2h3.4l-1.7 -2.6zM88.4 443.9h3.4l-1.7 -2.6zM89.3 443.8h3.4l-1.7 -2.6zM90.3 443.9h3.4l-1.7 -2.6zM91.2 444.3h3.4l-1.7 -2.6zM92.1 444h3.4l-1.7 -2.6zM93 443.4h3.4l-1.7 -2.6zM93.9 444h3.4l-1.7 -2.6zM94.9 443.8h3.4l-1.7 -2.6zM95.8 443.9h3.4l-1.7 -2.6zM96.7 443.5h3.4l-1.7 -2.6zM97.6 444.1h3.4l-1.7 -2.6zM98.5 443.7h3.4l-1.7 -2.6zM99.5 442.8h3.4l-1.7 -2.6zM100.4 442.7h3.4l-1.7 -2.6zM101.3 442.5h3.4l-1.7 -2.6zM102.2 443.3h3.4l-1.7 -2.6zM103.1 442.6h3.4l-1.7 -2.6zM104.1 442.7h3.4l-1.7 -2.6zM105 442.7h3.4l-1.7 -2.6zM105.9 443.2h3.4l-1.7 -2.6zM106.8 443.6h3.4l-1.7 -2.6zM107.7 442.3h3.4l-1.7 -2.6zM108.7 443.2h3.4l-1.7 -2.6zM109.6 442.4h3.4l-1.7 -2.6zM110.5 442.7h3.4l-1.7 -2.6zM111.4 441.8h3.4l-1.7 -2.6zM112.3 441.3h3.4l-1.7 -2.6zM113.3 442.2h3.4l-1.7 -2.6zM114.2 442.6h3.4l-1.7 -2.6zM115.1 441.2h3.4l-1.7 -2.6zM116 442.1h3.4l-1.7 -2.6zM116.9 442.4h3.4l-1.7 -2.6zM117.9 442.7h3.4l-1.7 -2.6zM118.8 442.1h3.4l-1.7 -2.6zM119.7 442.5h3.4l-1.7 -2.6zM120.6 443.5h3.4l-1.7 -2.6zM121.5 444.1h3.4l-1.7 -2.6zM122.5 443.4h3.4l-1.7 -2.6zM123.4 443.9h3.4l-1.7 -2.6zM124.3 443.7h3.4l-1.7 -2.6zM125.2 443.9h3.4l-1.7 -2.6zM126.1 443.6h3.4l-1.7 -2.6zM127.1 443.9h3.4l-1.7 -2.6zM128 443.8h3.4l-1.7 -2.6zM128.9 444.3h3.4l-1.7 -2.6zM129.8 444.9h3.4l-1.7 -2.6zM130.7 444.5h3.4l-1.7 -2.6zM131.7 444.8h3.4l-1.7 -2.6zM132.6 444.2h3.4l-1.7 -2.6zM133.5 444.9h3.4l-1.7 -2.6zM134.4 442.9h3.4l-1.7 -2.6zM135.3 443.6h3.4l-1.7 -2.6zM136.3 444h3.4l-1.7 -2.6zM137.2 443h3.4l-1.7 -2.6zM138.1 443.9h3.4l-1.7 -2.6zM139 443.3h3.4l-1.7 -2.6zM139.9 442.4h3.4l-1.7 -2.6zM140.9 442.5h3.4l-1.7 -2.6zM141.8 441.3h3.4l-1.7 -2.6zM142.7 441.2h3.4l-1.7 -2.6zM143.6 441.1h3.4l-1.7 -2.6zM144.5 440h3.4l-1.7 -2.6zM145.5 440.8h3.4l-1.7 -2.6zM146.4 439.3h3.4l-1.7 -2.6zM147.3 439.5h3.4l-1.7 -2.6zM148.2 438.3h3.4l-1.7 -2.6zM149.1 437.9h3.4l-1.7 -2.6zM150.1 436.6h3.4l-1.7 -2.6zM151 436.3h3.4l-1.7 -2.6zM151.9 435.8h3.4l-1.7 -2.6zM152.8 435.6h3.4l-1.7 -2.6zM153.7 435.8h3.4l-1.7 -2.6zM154.7 434.4h3.4l-1.7 -2.6zM155.6 434.2h3.4l-1.7 -2.6zM156.5 434h3.4l-1.7 -2.6zM157.4 433.7h3.4l-1.7 -2.6zM158.3 432.6h3.4l-1.7 -2.6zM159.3 431.7h3.4l-1.7 -2.6zM160.2 430.7h3.4l-1.7 -2.6zM161.1 430h3.4l-1.7 -2.6zM162 428.9h3.4l-1.7 -2.6zM162.9 427.2h3.4l-1.7 -2.6zM163.9 426.1h3.4l-1.7 -2.6zM164.8 425.1h3.4l-1.7 -2.6zM165.7 423.1h3.4l-1.7 -2.6zM166.6 420.9h3.4l-1.7 -2.6zM167.5 419.4h3.4l-1.7 -2.6zM168.5 416.9h3.4l-1.7 -2.6zM169.4 413.8h3.4l-1.7 -2.6zM170.3 410.6h3.4l-1.7 -2.6zM171.2 407h3.4l-1.7 -2.6zM172.1 403.7h3.4l-1.7 -2.6zM173.1 399.1h3.4l-1.7 -2.6zM174 393.9h3.4l-1.7 -2.6zM174.9 387.5h3.4l-1.7 -2.6zM175.8 383.7h3.4l-1.7 -2.6zM176.7 379.8h3.4l-1.7 -2.6zM177.7 375.6h3.4l-1.7 -2.6zM178.6 372h3.4l-1.7 -2.6zM179.5 370.5h3.4l-1.7 -2.6zM180.4 368.5h3.4l-1.7 -2.6zM181.3 368.5h3.4l-1.7 -2.6zM182.3 368.9h3.4l-1.7 -2.6zM183.2 372.5h3.4l-1.7 -2.6zM184.1 379.4h3.4l-1.7 -2.6zM185 389.6h3.4l-1.7 -2.6zM185.9 396.6h3.4l-1.7 -2.6zM186.9 402.5h3.4l-1.7 -2.6zM187.8 406.9h3.4l-1.7 -2.6zM188.7 409.9h3.4l-1.7 -2.6zM189.6 412.5h3.4l-1.7 -2.6zM190.5 417.7h3.4l-1.7 -2.6zM191.5 420.4h3.4l-1.7 -2.6zM192.4 423.6h3.4l-1.7 -2.6zM193.3 427.2h3.4l-1.7 -2.6zM194.2 428.5h3.4l-1.7 -2.6zM195.1 430.5h3.4l-1.7 -2.6zM196.1 432.3h3.4l-1.7 -2.6zM197 432.5h3.4l-1.7 -2.6zM197.9 432.8h3.4l-1.7 -2.6zM198.8 434.3h3.4l-1.7 -2.6zM199.7 434.4h3.4l-1.7 -2.6zM200.7 435.3h3.4l-1.7 -2.6zM201.6 435.5h3.4l-1.7 -2.6zM202.5 435.1h3.4l-1.7 -2.6zM203.4 435.6h3.4l-1.7 -2.6zM204.3 435.4h3.4l-1.7 -2.6zM205.3 435.4h3.4l-1.7 -2.6zM206.2 435.5h3.4l-1.7 -2.6zM207.1 435.7h3.4l-1.7 -2.6zM208 435.6h3.4l-1.7 -2.6zM208.9 434.8h3.4l-1.7 -2.6zM209.9 435.7h3.4l-1.7 -2.6zM210.8 434.7h3.4l-1.7 -2.6zM211.7 436.5h3.4l-1.7 -2.6zM212.6 435h3.4l-1.7 -2.6zM213.5 435.3h3.4l-1.7 -2.6zM214.5 436h3.4l-1.7 -2.6zM215.4 435.2h3.4l-1.7 -2.6zM216.3 434.6h3.4l-1.7 -2.6zM217.2 434.5h3.4l-1.7 -2.6zM218.1 435.4h3.4l-1.7 -2.6zM219.1 435.5h3.4l-1.7 -2.6zM220 435.7h3.4l-1.7 -2.6zM220.9 435.5h3.4l-1.7 -2.6zM221.8 435.2h3.4l-1.7 -2.6zM222.7 435.7h3.4l-1.7 -2.6zM223.7 436.3h3.4l-1.7 -2.6zM224.6 435.3h3.4l-1.7 -2.6zM225.5 437.6h3.4l-1.7 -2.6zM226.4 435.7h3.4l-1.7 -2.6zM227.3 436.6h3.4l-1.7 -2.6zM228.3 437.1h3.4l-1.7 -2.6zM229.2 436.7h3.4l-1.7 -2.6zM230.1 436.6h3.4l-1.7 -2.6zM231 436.9h3.4l-1.7 -2.6zM231.9 437.4h3.4l-1.7 -2.6zM232.9 435.5h3.4l-1.7 -2.6zM233.8 437.2h3.4l-1.7 -2.6zM234.7 436.9h3.4l-1.7 -2.6zM235.6 436.9h3.4l-1.7 -2.6zM236.5 437.4h3.4l-1.7 -2.6zM237.5 437.6h3.4l-1.7 -2.6zM238.4 437.8h3.4l-1.7 -2.6zM239.3 437.4h3.4l-1.7 -2.6zM240.2 438.3h3.4l-1.7 -2.6zM241.1 436.8h3.4l-1.7 -2.6zM242.1 437.4h3.4l-1.7 -2.6zM243 437.4h3.4l-1.7 -2.6zM243.9 438.1h3.4l-1.7 -2.6zM244.8 437.9h3.4l-1.7 -2.6zM245.7 438.5h3.4l-1.7 -2.6zM246.7 438h3.4l-1.7 -2.6zM247.6 439.1h3.4l-1.7 -2.6zM248.5 438.9h3.4l-1.7 -2.6zM249.4 438.3h3.4l-1.7 -2.6zM250.3 437.8h3.4l-1.7 -2.6zM251.3 438.2h3.4l-1.7 -2.6zM252.2 438.1h3.4l-1.7 -2.6zM253.1 439.5h3.4l-1.7 -2.6zM254 439.4h3.4l-1.7 -2.6zM254.9 438.4h3.4l-1.7 -2.6zM255.9 440.1h3.4l-1.7 -2.6zM256.8 439.1h3.4l-1.7 -2.6zM257.7 438.2h3.4l-1.7 -2.6z" stroke="#D95319" stroke-width="0.7" fill="none"/>
<path d="M29.4 441.4h0.01M30.3 441.5h0.01M31.2 440.9h0.01M32.2 440.5h0.01M33.1 441.3h0.01M34 440.6h0.01M34.9 440.8h0.01M35.8 440.9h0.01M36.8 440.8h0.01M37.7 440.5h0.01M38.6 440.2h0.01M39.5 440.9h0.01M40.4 439.7h0.01M41.4 440.7h0.01M42.3 440.7h0.01M43.2 440.8h0.01M44.1 440.4h0.01M45 440.6h0.01M46 440.8h0.01M46.9 440.1h0.01M47.8 440.5h0.01M48.7 440.7h0.01M49.6 440h0.01M50.6 440.1h0.01M51.5 441.1h0.01M52.4 440.9h0.01M53.3 440.2h0.01M54.2 440.8h0.01M55.2 440.7h0.01M56.1 441.1h0.01M57 441.1h0.01M57.9 439.7h0.01M58.8 440.5h0.01M59.8 441.2h0.01M60.7 441.4h0.01M61.6 440.5h0.01M62.5 440.3h0.01M63.4 440.9h0.01M64.4 440.6h0.01M65.3 440.9h0.01M66.2 440.5h0.01M67.1 441.3h0.01M68 441.3h0.01M69 441.2h0.01M69.9 440.7h0.01M70.8 440.5h0.01M71.7 440.7h0.01M72.6 441.4h0.01M73.6 440.5h0.01M74.5 441.5h0.01M75.4 442h0.01M76.3 441.1h0.01M77.2 441.3h0.01M78.2 441.8h0.01M79.1 441.8h0.01M80 441.2h0.01M80.9 441.4h0.01M81.8 441.5h0.01M82.8 441.4h0.01M83.7 441.7h0.01M84.6 441.6h0.01M85.5 442h0.01M86.4 440.8h0.01M87.4 441.9h0.01M88.3 441.7h0.01M89.2 441.3h0.01M90.1 441.5h0.01M91 441.6h0.01M92 441.3h0.01M92.9 441h0.01M93.8 441.1h0.01M94.7 440.6h0.01M95.6 440.3h0.01M96.6 440.3h0.01M97.5 440.3h0.01M98.4 440.5h0.01M99.3 440.7h0.01M100.2 440.3h0.01M101.2 440.7h0.01M102.1 440h0.01M103 439.6h0.01M103.9 439.5h0.01M104.8 439.3h0.01M105.8 439.4h0.01M106.7 440h0.01M107.6 438.8h0.01M108.5 439.5h0.01M109.4 439.2h0.01M110.4 439.5h0.01M111.3 438.9h0.01M112.2 439.4h0.01M113.1 438.8h0.01M114 439.3h0.01M115 438.2h0.01M115.9 439.2h0.01M116.8 439.4h0.01M117.7 438.5h0.01M118.6 439.6h0.01M119.6 439h0.01M120.5 440h0.01M121.4 439.7h0.01M122.3 440.2h0.01M123.2 440.3h0.01M124.2 439.9h0.01M125.1 441.2h0.01M126 441.2h0.01M126.9 440.5h0.01M127.8 441.4h0.01M128.8 441.5h0.01M129.7 441.2h0.01M130.6 441.2h0.01M131.5 442.3h0.01M132.4 441.7h0.01M133.4 442.3h0.01M134.3 442.8h0.01M135.2 442.2h0.01M136.1 441.6h0.01M137 442.2h0.01M138 441h0.01M138.9 440.9h0.01M139.8 442.1h0.01M140.7 440.3h0.01M141.6 440.3h0.01M142.6 439.3h0.01M143.5 439.2h0.01M144.4 438.9h0.01M145.3 437.3h0.01M146.2 437.6h0.01M147.2 437.5h0.01M148.1 436.9h0.01M149 435.9h0.01M149.9 434.6h0.01M150.8 434.3h0.01M151.8 433.1h0.01M152.7 432.2h0.01M153.6 431.7h0.01M154.5 431.8h0.01M155.4 429.7h0.01M156.4 429.6h0.01M157.3 428.4h0.01M158.2 426.8h0.01M159.1 425.9h0.01M160 425h0.01M161 423.6h0.01M161.9 422.3h0.01M162.8 420.1h0.01M163.7 418.2h0.01M164.6 417h0.01M165.6 414.2h0.01M166.5 411.1h0.01M167.4 408.3h0.01M168.3 405.3h0.01M169.2 400.6h0.01M170.2 396.5h0.01M171.1 393h0.01M172 388.4h0.01M172.9 382.8h0.01M173.8 376.8h0.01M174.8 372.2h0.01M175.7 370h0.01M176.6 366.3h0.01M177.5 363.5h0.01M178.4 360h0.01M179.4 357h0.01M180.3 354.1h0.01M181.2 354h0.01M182.1 355.3h0.01M183 356.6h0.01M184 360.5h0.01M184.9 365.9h0.01M185.8 371.6h0.01M186.7 377.4h0.01M187.6 382.7h0.01M188.6 393.4h0.01M189.5 400.2h0.01M190.4 404.6h0.01M191.3 407.2h0.01M192.2 409.2h0.01M193.2 412.6h0.01M194.1 417.6h0.01M195 420.4h0.01M195.9 423h0.01M196.8 424.9h0.01M197.8 426.5h0.01M198.7 429.4h0.01M199.6 428.7h0.01M200.5 429.2h0.01M201.4 429h0.01M202.4 430.3h0.01M203.3 429.8h0.01M204.2 430h0.01M205.1 430.2h0.01M206 430.3h0.01M207 431h0.01M207.9 429.8h0.01M208.8 430.9h0.01M209.7 430.5h0.01M210.6 430.7h0.01M211.6 430.7h0.01M212.5 431.2h0.01M213.4 430.7h0.01M214.3 431h0.01M215.2 431.6h0.01M216.2 431.2h0.01M217.1 431.3h0.01M218 431.7h0.01M218.9 431.7h0.01M219.8 431.6h0.01M220.8 431.8h0.01M221.7 431.5h0.01M222.6 432.3h0.01M223.5 431.6h0.01M224.4 431.4h0.01M225.4 432.3h0.01M226.3 431.7h0.01M227.2 431.9h0.01M228.1 432.2h0.01M229 432.7h0.01M230 432.3h0.01M230.9 432.3h0.01M231.8 432.4h0.01M232.7 432.8h0.01M233.6 432.5h0.01M234.6 432.9h0.01M235.5 433.4h0.01M236.4 432.8h0.01M237.3 432.8h0.01M238.2 432.7h0.01M239.2 432.8h0.01M240.1 432.7h0.01M241 432.8h0.01M241.9 433.1h0.01M242.8 433.6h0.01M243.8 433.7h0.01M244.7 433.4h0.01M245.6 433.8h0.01M246.5 433.3h0.01M247.4 434.7h0.01M248.4 435h0.01M249.3 434h0.01M250.2 434.4h0.01M251.1 434.3h0.01M252 434.7h0.01M253 434.2h0.01M253.9 434h0.01M254.8 435h0.01M255.7 434.3h0.01M256.6 435h0.01M257.6 434.6h0.01M258.5 434.8h0.01M259.4 435.6h0.01" stroke="#EDB120" stroke-width="2.2" stroke-linecap="round" fill="none"/>
<path d="M29.4 437.9l1.4 2.1 -1.4 2.1 -1.4 -2.1zM30.3 437.1l1.4 2.1 -1.4 2.1 -1.4 -2.1zM31.2 437l1.4 2.1 -1.4 2.1 -1.4 -2.1zM32.2 437.4l1.4 2.1 -1.4 2.1 -1.4 -2.1zM33.1 437l1.4 2.1 -1.4 2.1 -1.4 -2.1zM34 436.5l1.4 2.1 -1.4 2.1 -1.4 -2.1zM34.9 437.4l1.4 2.1 -1.4 2.1 -1.4 -2.1zM35.8 436.3l1.4 2.1 -1.4 2.1 -1.4 -2.1zM36.8 437.6l1.4 2.1 -1.4 2.1 -1.4 -2.1zM37.7 437.1l1.4 2.1 -1.4 2.1 -1.4 -2.1zM38.6 437.5l1.4 2.1 -1.4 2.1 -1.4 -2.1zM39.5 436.7l1.4 2.1 -1.4 2.1 -1.4 -2.1zM40.4 437l1.4 2.1 -1.4 2.1 -1.4 -2.1zM41.4 437.6l1.4 2.1 -1.4 2.1 -1.4 -2.1zM42.3 437.8l1.4 2.1 -1.4 2.1 -1.4 -2.1zM43.2 437.3l1.4 2.1 -1.4 2.1 -1.4 -2.1zM44.1 436.8l1.4 2.1 -1.4 2.1 -1.4 -2.1zM45 435.8l1.4 2.1 -1.4 2.1 -1.4 -2.1zM46 436.4l1.4 2.1 -1.4 2.1 -1.4 -2.1zM46.9 435.9l1.4 2.1 -1.4 2.1 -1.4 -2.1zM47.8 435.5l1.4 2.1 -1.4 2.1 -1.4 -2.1zM48.7 436.1l1.4 2.1 -1.4 2.1 -1.4 -2.1zM49.6 435l1.4 2.1 -1.4 2.1 -1.4 -2.1zM50.6 436.3l1.4 2.1 -1.4 2.1 -1.4 -2.1zM51.5 435.2l1.4 2.1 -1.4 2.1 -1.4 -2.1zM52.4 435.3l1.4 2.1 -1.4 2.1 -1.4 -2.1zM53.3 435.7l1.4 2.1 -1.4 2.1 -1.4 -2.1zM54.2 435.3l1.4 2.1 -1.4 2.1 -1.4 -2.1zM55.2 435.9l1.4 2.1 -1.4 2.1 -1.4 -2.1zM56.1 436.4l1.4 2.1 -1.4 2.1 -1.4 -2.1zM57 435.7l1.4 2.1 -1.4 2.1 -1.4 -2.1zM57.9 436.3l1.4 2.1 -1.4 2.1 -1.4 -2.1zM58.8 436.1l1.4 2.1 -1.4 2.1 -1.4 -2.1zM59.8 436.7l1.4 2.1 -1.4 2.1 -1.4 -2.1zM60.7 437.5l1.4 2.1 -1.4 2.1 -1.4 -2.1zM61.6 436.7l1.4 2.1 -1.4 2.1 -1.4 -2.1zM62.5 436.9l1.4 2.1 -1.4 2.1 -1.4 -2.1zM63.4 437.1l1.4 2.1 -1.4 2.1 -1.4 -2.1zM64.4 436.4l1.4 2.1 -1.4 2.1 -1.4 -2.1zM65.3 437.1l1.4 2.1 -1.4 2.1 -1.4 -2.1zM66.2 436.8l1.4 2.1 -1.4 2.1 -1.4 -2.1zM67.1 436.7l1.4 2.1 -1.4 2.1 -1.4 -2.1zM68 436.2l1.4 2.1 -1.4 2.1 -1.4 -2.1zM69 436.8l1.4 2.1 -1.4 2.1 -1.4 -2.1zM69.9 437.6l1.4 2.1 -1.4 2.1 -1.4 -2.1zM70.8 437.7l1.4 2.1 -1.4 2.1 -1.4 -2.1zM71.7 437l1.4 2.1 -1.4 2.1 -1.4 -2.1zM72.6 437.2l1.4 2.1 -1.4 2.1 -1.4 -2.1zM73.6 437l1.4 2.1 -1.4 2.1 -1.4 -2.1zM74.5 436.7l1.4 2.1 -1.4 2.1 -1.4 -2.1zM75.4 436.4l1.4 2.1 -1.4 2.1 -1.4 -2.1zM76.3 438.2l1.4 2.1 -1.4 2.1 -1.4 -2.1zM77.2 436.9l1.4 2.1 -1.4 2.1 -1.4 -2.1zM78.2 437.6l1.4 2.1 -1.4 2.1 -1.4 -2.1zM79.1 438.3l1.4 2.1 -1.4 2.1 -1.4 -2.1zM80 437.4l1.4 2.1 -1.4 2.1 -1.4 -2.1zM80.9 437.5l1.4 2.1 -1.4 2.1 -1.4 -2.1zM81.8 437.8l1.4 2.1 -1.4 2.1 -1.4 -2.1zM82.8 437.5l1.4 2.1 -1.4 2.1 -1.4 -2.1zM83.7 437.8l1.4 2.1 -1.4 2.1 -1.4 -2.1zM84.6 437.5l1.4 2.1 -1.4 2.1 -1.4 -2.1zM85.5 438.3l1.4 2.1 -1.4 2.1 -1.4 -2.1zM86.4 437.9l1.4 2.1 -1.4 2.1 -1.4 -2.1zM87.4 437.1l1.4 2.1 -1.4 2.1 -1.4 -2.1zM88.3 437l1.4 2.1 -1.4 2.1 -1.4 -2.1zM89.2 437.3l1.4 2.1 -1.4 2.1 -1.4 -2.1zM90.1 437.3l1.4 2.1 -1.4 2.1 -1.4 -2.1zM91 437.2l1.4 2.1 -1.4 2.1 -1.4 -2.1zM92 438l1.4 2.1 -1.4 2.1 -1.4 -2.1zM92.9 437.1l1.4 2.1 -1.4 2.1 -1.4 -2.1zM93.8 437.2l1.4 2.1 -1.4 2.1 -1.4 -2.1zM94.7 437.4l1.4 2.1 -1.4 2.1 -1.4 -2.1zM95.6 436.3l1.4 2.1 -1.4 2.1 -1.4 -2.1zM96.6 437.4l1.4 2.1 -1.4 2.1 -1.4 -2.1zM97.5 437.4l1.4 2.1 -1.4 2.1 -1.4 -2.1zM98.4 437.7l1.4 2.1 -1.4 2.1 -1.4 -2.1zM99.3 436.4l1.4 2.1 -1.4 2.1 -1.4 -2.1zM100.2 436.6l1.4 2.1 -1.4 2.1 -1.4 -2.1zM101.2 436.9l1.4 2.1 -1.4 2.1 -1.4 -2.1zM102.1 436.5l1.4 2.1 -1.4 2.1 -1.4 -2.1zM103 435.9l1.4 2.1 -1.4 2.1 -1.4 -2.1zM103.9 437l1.4 2.1 -1.4 2.1 -1.4 -2.1zM104.8 436.3l1.4 2.1 -1.4 2.1 -1.4 -2.1zM105.8 436.5l1.4 2.1 -1.4 2.1 -1.4 -2.1zM106.7 435.7l1.4 2.1 -1.4 2.1 -1.4 -2.1zM107.6 436.6l1.4 2.1 -1.4 2.1 -1.4 -2.1zM108.5 435.8l1.4 2.1 -1.4 2.1 -1.4 -2.1zM109.4 435.4l1.4 2.1 -1.4 2.1 -1.4 -2.1zM110.4 436l1.4 2.1 -1.4 2.1 -1.4 -2.1zM111.3 436l1.4 2.1 -1.4 2.1 -1.4 -2.1zM112.2 434.9l1.4 2.1 -1.4 2.1 -1.4 -2.1zM113.1 435.7l1.4 2.1 -1.4 2.1 -1.4 -2.1zM114 436l1.4 2.1 -1.4 2.1 -1.4 -2.1zM115 435.3l1.4 2.1 -1.4 2.1 -1.4 -2.1zM115.9 434.5l1.4 2.1 -1.4 2.1 -1.4 -2.1zM116.8 435.6l1.4 2.1 -1.4 2.1 -1.4 -2.1zM117.7 436l1.4 2.1 -1.4 2.1 -1.4 -2.1zM118.6 435.3l1.4 2.1 -1.4 2.1 -1.4 -2.1zM119.6 436.9l1.4 2.1 -1.4 2.1 -1.4 -2.1zM120.5 436.3l1.4 2.1 -1.4 2.1 -1.4 -2.1zM121.4 436.7l1.4 2.1 -1.4 2.1 -1.4 -2.1zM122.3 437.6l1.4 2.1 -1.4 2.1 -1.4 -2.1zM123.2 437.4l1.4 2.1 -1.4 2.1 -1.4 -2.1zM124.2 438.2l1.4 2.1 -1.4 2.1 -1.4 -2.1zM125.1 437.7l1.4 2.1 -1.4 2.1 -1.4 -2.1zM126 438.1l1.4 2.1 -1.4 2.1 -1.4 -2.1zM126.9 438.1l1.4 2.1 -1.4 2.1 -1.4 -2.1zM127.8 438.3l1.4 2.1 -1.4 2.1 -1.4 -2.1zM128.8 438.6l1.4 2.1 -1.4 2.1 -1.4 -2.1zM129.7 438.7l1.4 2.1 -1.4 2.1 -1.4 -2.1zM130.6 438.5l1.4 2.1 -1.4 2.1 -1.4 -2.1zM131.5 439.2l1.4 2.1 -1.4 2.1 -1.4 -2.1zM132.4 438.8l1.4 2.1 -1.4 2.1 -1.4 -2.1zM133.4 439.5l1.4 2.1 -1.4 2.1 -1.4 -2.1zM134.3 439.2l1.4 2.1 -1.4 2.1 -1.4 -2.1zM135.2 438.9l1.4 2.1 -1.4 2.1 -1.4 -2.1zM136.1 438.5l1.4 2.1 -1.4 2.1 -1.4 -2.1zM137 438.7l1.4 2.1 -1.4 2.1 -1.4 -2.1zM138 439.2l1.4 2.1 -1.4 2.1 -1.4 -2.1zM138.9 438.3l1.4 2.1 -1.4 2.1 -1.4 -2.1zM139.8 438.3l1.4 2.1 -1.4 2.1 -1.4 -2.1zM140.7 437.4l1.4 2.1 -1.4 2.1 -1.4 -2.1zM141.6 436.9l1.4 2.1 -1.4 2.1 -1.4 -2.1zM142.6 436.2l1.4 2.1 -1.4 2.1 -1.4 -2.1zM143.5 435l1.4 2.1 -1.4 2.1 -1.4 -2.1zM144.4 435.6l1.4 2.1 -1.4 2.1 -1.4 -2.1zM145.3 434.9l1.4 2.1 -1.4 2.1 -1.4 -2.1zM146.2 434.1l1.4 2.1 -1.4 2.1 -1.4 -2.1zM147.2 433.5l1.4 2.1 -1.4 2.1 -1.4 -2.1zM148.1 431.5l1.4 2.1 -1.4 2.1 -1.4 -2.1zM149 431.8l1.4 2.1 -1.4 2.1 -1.4 -2.1zM149.9 429.2l1.4 2.1 -1.4 2.1 -1.4 -2.1zM150.8 429.2l1.4 2.1 -1.4 2.1 -1.4 -2.1zM151.8 427.6l1.4 2.1 -1.4 2.1 -1.4 -2.1zM152.7 427.1l1.4 2.1 -1.4 2.1 -1.4 -2.1zM153.6 426.7l1.4 2.1 -1.4 2.1 -1.4 -2.1zM154.5 424.1l1.4 2.1 -1.4 2.1 -1.4 -2.1zM155.4 423.6l1.4 2.1 -1.4 2.1 -1.4 -2.1zM156.4 422l1.4 2.1 -1.4 2.1 -1.4 -2.1zM157.3 420.3l1.4 2.1 -1.4 2.1 -1.4 -2.1zM158.2 418.4l1.4 2.1 -1.4 2.1 -1.4 -2.1zM159.1 416.4l1.4 2.1 -1.4 2.1 -1.4 -2.1zM160 413.9l1.4 2.1 -1.4 2.1 -1.4 -2.1zM161 411.3l1.4 2.1 -1.4 2.1 -1.4 -2.1zM161.9 408.7l1.4 2.1 -1.4 2.1 -1.4 -2.1zM162.8 405.7l1.4 2.1 -1.4 2.1 -1.4 -2.1zM163.7 402.4l1.4 2.1 -1.4 2.1 -1.4 -2.1zM164.6 398.5l1.4 2.1 -1.4 2.1 -1.4 -2.1zM165.6 394.8l1.4 2.1 -1.4 2.1 -1.4 -2.1zM166.5 389.7l1.4 2.1 -1.4 2.1 -1.4 -2.1zM167.4 387.5l1.4 2.1 -1.4 2.1 -1.4 -2.1zM168.3 381.9l1.4 2.1 -1.4 2.1 -1.4 -2.1zM169.2 375.1l1.4 2.1 -1.4 2.1 -1.4 -2.1zM170.2 370.1l1.4 2.1 -1.4 2.1 -1.4 -2.1zM171.1 363.2l1.4 2.1 -1.4 2.1 -1.4 -2.1zM172 356.1l1.4 2.1 -1.4 2.1 -1.4 -2.1zM172.9 351.7l1.4 2.1 -1.4 2.1 -1.4 -2.1zM173.8 346l1.4 2.1 -1.4 2.1 -1.4 -2.1zM174.8 340.4l1.4 2.1 -1.4 2.1 -1.4 -2.1zM175.7 334.6l1.4 2.1 -1.4 2.1 -1.4 -2.1zM176.6 331.4l1.4 2.1 -1.4 2.1 -1.4 -2.1zM177.5 322.5l1.4 2.1 -1.4 2.1 -1.4 -2.1zM178.4 311.9l1.4 2.1 -1.4 2.1 -1.4 -2.1zM179.4 309.3l1.4 2.1 -1.4 2.1 -1.4 -2.1zM180.3 307.7l1.4 2.1 -1.4 2.1 -1.4 -2.1zM181.2 307.5l1.4 2.1 -1.4 2.1 -1.4 -2.1zM182.1 308.3l1.4 2.1 -1.4 2.1 -1.4 -2.1zM183 310.4l1.4 2.1 -1.4 2.1 -1.4 -2.1zM184 318.2l1.4 2.1 -1.4 2.1 -1.4 -2.1zM184.9 325.4l1.4 2.1 -1.4 2.1 -1.4 -2.1zM185.8 332.8l1.4 2.1 -1.4 2.1 -1.4 -2.1zM186.7 347.9l1.4 2.1 -1.4 2.1 -1.4 -2.1zM187.6 365.4l1.4 2.1 -1.4 2.1 -1.4 -2.1zM188.6 370.7l1.4 2.1 -1.4 2.1 -1.4 -2.1zM189.5 377l1.4 2.1 -1.4 2.1 -1.4 -2.1zM190.4 387.1l1.4 2.1 -1.4 2.1 -1.4 -2.1zM191.3 398.5l1.4 2.1 -1.4 2.1 -1.4 -2.1zM192.2 405.6l1.4 2.1 -1.4 2.1 -1.4 -2.1zM193.2 411l1.4 2.1 -1.4 2.1 -1.4 -2.1zM194.1 413.1l1.4 2.1 -1.4 2.1 -1.4 -2.1zM195 417.4l1.4 2.1 -1.4 2.1 -1.4 -2.1zM195.9 420.6l1.4 2.1 -1.4 2.1 -1.4 -2.1zM196.8 422.4l1.4 2.1 -1.4 2.1 -1.4 -2.1zM197.8 424.4l1.4 2.1 -1.4 2.1 -1.4 -2.1zM198.7 424.6l1.4 2.1 -1.4 2.1 -1.4 -2.1zM199.6 424.6l1.4 2.1 -1.4 2.1 -1.4 -2.1zM200.5 426.3l1.4 2.1 -1.4 2.1 -1.4 -2.1zM201.4 425.7l1.4 2.1 -1.4 2.1 -1.4 -2.1zM202.4 425l1.4 2.1 -1.4 2.1 -1.4 -2.1zM203.3 425.5l1.4 2.1 -1.4 2.1 -1.4 -2.1zM204.2 425.8l1.4 2.1 -1.4 2.1 -1.4 -2.1zM205.1 425.2l1.4 2.1 -1.4 2.1 -1.4 -2.1zM206 426.4l1.4 2.1 -1.4 2.1 -1.4 -2.1zM207 426.1l1.4 2.1 -1.4 2.1 -1.4 -2.1zM207.9 425.9l1.4 2.1 -1.4 2.1 -1.4 -2.1zM208.8 425.8l1.4 2.1 -1.4 2.1 -1.4 -2.1zM209.7 426.9l1.4 2.1 -1.4 2.1 -1.4 -2.1zM210.6 426l1.4 2.1 -1.4 2.1 -1.4 -2.1zM211.6 425.6l1.4 2.1 -1.4 2.1 -1.4 -2.1zM212.5 424.7l1.4 2.1 -1.4 2.1 -1.4 -2.1zM213.4 425l1.4 2.1 -1.4 2.1 -1.4 -2.1zM214.3 425.6l1.4 2.1 -1.4 2.1 -1.4 -2.1zM215.2 425.8l1.4 2.1 -1.4 2.1 -1.4 -2.1zM216.2 424.2l1.4 2.1 -1.4 2.1 -1.4 -2.1zM217.1 423.6l1.4 2.1 -1.4 2.1 -1.4 -2.1zM218 424.6l1.4 2.1 -1.4 2.1 -1.4 -2.1zM218.9 424.6l1.4 2.1 -1.4 2.1 -1.4 -2.1zM219.8 425.1l1.4 2.1 -1.4 2.1 -1.4 -2.1zM220.8 424.3l1.4 2.1 -1.4 2.1 -1.4 -2.1zM221.7 424.8l1.4 2.1 -1.4 2.1 -1.4 -2.1zM222.6 423.9l1.4 2.1 -1.4 2.1 -1.4 -2.1zM223.5 424.2l1.4 2.1 -1.4 2.1 -1.4 -2.1zM224.4 424.7l1.4 2.1 -1.4 2.1 -1.4 -2.1zM225.4 424.8l1.4 2.1 -1.4 2.1 -1.4 -2.1zM226.3 425.4l1.4 2.1 -1.4 2.1 -1.4 -2.1zM227.2 425.8l1.4 2.1 -1.4 2.1 -1.4 -2.1zM228.1 424.6l1.4 2.1 -1.4 2.1 -1.4 -2.1zM229 426.3l1.4 2.1 -1.4 2.1 -1.4 -2.1zM230 425.2l1.4 2.1 -1.4 2.1 -1.4 -2.1zM230.9 425.5l1.4 2.1 -1.4 2.1 -1.4 -2.1zM231.8 426.4l1.4 2.1 -1.4 2.1 -1.4 -2.1zM232.7 424.8l1.4 2.1 -1.4 2.1 -1.4 -2.1zM233.6 425.4l1.4 2.1 -1.4 2.1 -1.4 -2.1zM234.6 425.8l1.4 2.1 -1.4 2.1 -1.4 -2.1zM235.5 426.4l1.4 2.1 -1.4 2.1 -1.4 -2.1zM236.4 427.1l1.4 2.1 -1.4 2.1 -1.4 -2.1zM237.3 427.2l1.4 2.1 -1.4 2.1 -1.4 -2.1zM238.2 426.3l1.4 2.1 -1.4 2.1 -1.4 -2.1zM239.2 427.3l1.4 2.1 -1.4 2.1 -1.4 -2.1zM240.1 426.8l1.4 2.1 -1.4 2.1 -1.4 -2.1zM241 427.9l1.4 2.1 -1.4 2.1 -1.4 -2.1zM241.9 427.1l1.4 2.1 -1.4 2.1 -1.4 -2.1zM242.8 427.9l1.4 2.1 -1.4 2.1 -1.4 -2.1zM243.8 427l1.4 2.1 -1.4 2.1 -1.4 -2.1zM244.7 428l1.4 2.1 -1.4 2.1 -1.4 -2.1zM245.6 427.1l1.4 2.1 -1.4 2.1 -1.4 -2.1zM246.5 428l1.4 2.1 -1.4 2.1 -1.4 -2.1zM247.4 427.2l1.4 2.1 -1.4 2.1 -1.4 -2.1zM248.4 428.1l1.4 2.1 -1.4 2.1 -1.4 -2.1zM249.3 427.9l1.4 2.1 -1.4 2.1 -1.4 -2.1zM250.2 428l1.4 2.1 -1.4 2.1 -1.4 -2.1zM251.1 428.7l1.4 2.1 -1.4 2.1 -1.4 -2.1zM252 429.1l1.4 2.1 -1.4 2.1 -1.4 -2.1zM253 428.9l1.4 2.1 -1.4 2.1 -1.4 -2.1zM253.9 429.2l1.4 2.1 -1.4 2.1 -1.4 -2.1zM254.8 429.5l1.4 2.1 -1.4 2.1 -1.4 -2.1zM255.7 429.9l1.4 2.1 -1.4 2.1 -1.4 -2.1zM256.6 430l1.4 2.1 -1.4 2.1 -1.4 -2.1zM257.6 429.8l1.4 2.1 -1.4 2.1 -1.4 -2.1zM258.5 430.8l1.4 2.1 -1.4 2.1 -1.4 -2.1zM259.4 429.7l1.4 2.1 -1.4 2.1 -1.4 -2.1z" stroke="#7E2F8E" stroke-width="0.7" fill="none"/>
<path d="M29.4 293V503.7H260" stroke="#b0b0b0" stroke-width="1.2" fill="none"/>
<path d="M29.4 503.7v-2.2M75.5 503.7v-2.2M121.6 503.7v-2.2M167.8 503.7v-2.2M213.9 503.7v-2.2M260 503.7v-2.2M29.4 503.7h2.2M29.4 468.6h2.2M29.4 433.5h2.2M29.4 398.4h2.2M29.4 363.2h2.2M29.4 328.1h2.2M29.4 293h2.2" stroke="#b0b0b0" stroke-width="0.8" fill="none"/>
<text x="29.4" y="516.7" font-size="9" text-anchor="middle" font-family="'Liberation Serif', 'Times New Roman', serif" font-weight="bold" font-style="italic" stroke="#1a1a1a" stroke-width="0.3" text-rendering="geometricPrecision" fill="#1a1a1a">-0.6</text>
<text x="75.5" y="516.7" font-size="9" text-anchor="middle" font-family="'Liberation Serif', 'Times New Roman', serif" font-weight="bold" font-style="italic" stroke="#1a1a1a" stroke-width="0.3" text-rendering="geometricPrecision" fill="#1a1a1a">-0.4</text>
<text x="121.6" y="516.7" font-size="9" text-anchor="middle" font-family="'Liberation Serif', 'Times New Roman', serif" font-weight="bold" font-style="italic" stroke="#1a1a1a" stroke-width="0.3" text-rendering="geometricPrecision" fill="#1a1a1a">-0.2</text>
<text x="167.8" y="516.7" font-size="9" text-anchor="middle" font-family="'Liberation Serif', 'Times New Roman', serif" font-weight="bold" font-style="italic" stroke="#1a1a1a" stroke-width="0.3" text-rendering="geometricPrecision" fill="#1a1a1a">0</text>
<text x="213.9" y="516.7" font-size="9" text-anchor="middle" font-family="'Liberation Serif', 'Times New Roman', serif" font-weight="bold" font-style="italic" stroke="#1a1a1a" stroke-width="0.3" text-rendering="geometricPrecision" fill="#1a1a1a">0.2</text>
<text x="260" y="516.7" font-size="9" text-anchor="middle" font-family="'Liberation Serif', 'Times New Roman', serif" font-weight="bold" font-style="italic" stroke="#1a1a1a" stroke-width="0.3" text-rendering="geometricPrecision" fill="#1a1a1a">0.4</text>
<text x="26.5" y="472.2" font-size="9" text-anchor="end" font-family="'Liberation Serif', 'Times New Roman', serif" font-weight="bold" font-style="italic" stroke="#1a1a1a" stroke-width="0.3" text-rendering="geometricPrecision" fill="#1a1a1a">2</text>
<text x="26.5" y="437" font-size="9" text-anchor="end" font-family="'Liberation Serif', 'Times New Roman', serif" font-weight="bold" font-style="italic" stroke="#1a1a1a" stroke-width="0.3" text-rendering="geometricPrecision" fill="#1a1a1a">2.5</text>
<text x="26.5" y="401.9" font-size="9" text-anchor="end" font-family="'Liberation Serif', 'Times New Roman', serif" font-weight="bold" font-style="italic" stroke="#1a1a1a" stroke-width="0.3" text-rendering="geometricPrecision" fill="#1a1a1a">3</text>
<text x="26.5" y="366.8" font-size="9" text-anchor="end" font-family="'Liberation Serif', 'Times New Roman', serif" font-weight="bold" font-style="italic" stroke="#1a1a1a" stroke-width="0.3" text-rendering="geometricPrecision" fill="#1a1a1a">3.5</text>
<text x="26.5" y="331.7" font-size="9" text-anchor="end" font-family="'Liberation Serif', 'Times New Roman', serif" font-weight="bold" font-style="italic" stroke="#1a1a1a" stroke-width="0.3" text-rendering="geometricPrecision" fill="#1a1a1a">4</text>
<text x="30.8" y="292.6" font-size="12.3" font-family="'Liberation Serif', serif" fill="#1a1a1a" stroke="#1a1a1a" stroke-width="0.25">&#215;</text>
<text x="37.7" y="290.3" font-size="8.8" font-family="'Liberation Serif', 'Times New Roman', serif" font-weight="bold" font-style="italic" stroke="#1a1a1a" stroke-width="0.3" text-rendering="geometricPrecision" fill="#1a1a1a" textLength="8.2" lengthAdjust="spacingAndGlyphs">10</text>
<text x="45.9" y="286.4" font-size="7.5" font-family="'Liberation Serif', 'Times New Roman', serif" font-weight="bold" font-style="italic" stroke="#1a1a1a" stroke-width="0.3" text-rendering="geometricPrecision" fill="#1a1a1a" textLength="7.6" lengthAdjust="spacingAndGlyphs">-3</text>
<text x="144.9" y="527.6" font-size="9.4" text-anchor="middle" font-family="'Liberation Serif', 'Times New Roman', serif" font-weight="bold" font-style="italic" stroke="#1a1a1a" stroke-width="0.3" text-rendering="geometricPrecision" fill="#1a1a1a">Potential(V)</text>
<text x="0" y="0" font-size="9.4" text-anchor="middle" font-family="'Liberation Serif', 'Times New Roman', serif" font-weight="bold" font-style="italic" stroke="#1a1a1a" stroke-width="0.15" text-rendering="geometricPrecision" fill="#1a1a1a" transform="translate(12 398.5) rotate(-90) skewX(-6)">Current(A)</text>
<text x="139.6" y="544.8" font-size="11.4" text-anchor="middle" font-family="'Liberation Serif', 'Times New Roman', serif" font-weight="bold" font-style="italic" stroke="#1a1a1a" stroke-width="0.3" text-rendering="geometricPrecision" fill="#1a1a1a">(c)</text>
<rect x="213.1" y="296.5" width="43.6" height="58" fill="#fff" stroke="#b0b0b0" stroke-width="0.9"/>
<path d="M213.1 308.3H256.7" stroke="#b0b0b0" stroke-width="0.9"/>
<text x="235.1" y="306.3" font-size="9.5" text-anchor="middle" font-family="'Liberation Serif', 'Times New Roman', serif" font-weight="bold" font-style="italic" stroke="#1a1a1a" stroke-width="0.3" text-rendering="geometricPrecision" fill="#1a1a1a">Cu</text>
<path d="M223.3 315.8L221.9 316.6L220.5 315.8L220.5 314.2L221.9 313.4L223.3 314.2z" stroke="#0072BD" stroke-width="0.7" fill="none"/>
<text x="230.3" y="318.1" font-size="9.4" text-anchor="start" font-family="'Liberation Serif', 'Times New Roman', serif" font-weight="bold" font-style="italic" stroke="#1a1a1a" stroke-width="0.3" text-rendering="geometricPrecision" fill="#1a1a1a">0.2g/L</text>
<path d="M220.3 326.9h3.2l-1.6 -2.5z" stroke="#D95319" stroke-width="0.7" fill="none"/>
<text x="230.3" y="329.1" font-size="9.4" text-anchor="start" font-family="'Liberation Serif', 'Times New Roman', serif" font-weight="bold" font-style="italic" stroke="#1a1a1a" stroke-width="0.3" text-rendering="geometricPrecision" fill="#1a1a1a">0.5g/L</text>
<circle cx="221.9" cy="336.9" r="1.1" fill="#EDB120"/>
<text x="230.3" y="340" font-size="9.4" text-anchor="start" font-family="'Liberation Serif', 'Times New Roman', serif" font-weight="bold" font-style="italic" stroke="#1a1a1a" stroke-width="0.3" text-rendering="geometricPrecision" fill="#1a1a1a">1g/L</text>
<path d="M221.9 345.9l1.3 1.8 -1.3 1.8 -1.3 -1.8z" stroke="#7E2F8E" stroke-width="0.7" fill="none"/>
<text x="230.3" y="350.8" font-size="9.4" text-anchor="start" font-family="'Liberation Serif', 'Times New Roman', serif" font-weight="bold" font-style="italic" stroke="#1a1a1a" stroke-width="0.3" text-rendering="geometricPrecision" fill="#1a1a1a">2g/L</text>
<path d="M298.4 463.4L296.8 464.3L295.2 463.4L295.2 461.6L296.8 460.7L298.4 461.6zM299.3 462.5L297.8 463.4L296.2 462.5L296.2 460.7L297.8 459.8L299.3 460.7zM300.3 462.7L298.8 463.6L297.2 462.7L297.2 460.9L298.8 460L300.3 460.9zM301.3 461.9L299.7 462.8L298.2 461.9L298.2 460.1L299.7 459.2L301.3 460.1zM302.3 461.9L300.7 462.8L299.2 461.9L299.2 460.1L300.7 459.2L302.3 460.1zM303.3 462.2L301.7 463.1L300.1 462.2L300.1 460.4L301.7 459.5L303.3 460.4zM304.2 461.9L302.7 462.8L301.1 461.9L301.1 460.1L302.7 459.2L304.2 460.1zM305.2 461.7L303.7 462.6L302.1 461.7L302.1 459.9L303.7 459L305.2 459.9zM306.2 461.5L304.6 462.4L303.1 461.5L303.1 459.7L304.6 458.8L306.2 459.7zM307.2 461.8L305.6 462.7L304.1 461.8L304.1 460L305.6 459.1L307.2 460zM308.2 462.3L306.6 463.2L305 462.3L305 460.5L306.6 459.6L308.2 460.5zM309.1 461.9L307.6 462.8L306 461.9L306 460.1L307.6 459.2L309.1 460.1zM310.1 462.2L308.6 463.1L307 462.2L307 460.4L308.6 459.5L310.1 460.4zM311.1 462.1L309.5 463L308 462.1L308 460.3L309.5 459.4L311.1 460.3zM312.1 461.8L310.5 462.7L309 461.8L309 460L310.5 459.1L312.1 460zM313.1 461.6L311.5 462.5L309.9 461.6L309.9 459.8L311.5 458.9L313.1 459.8zM314 461.9L312.5 462.8L310.9 461.9L310.9 460.1L312.5 459.2L314 460.1zM315 462L313.5 462.9L311.9 462L311.9 460.2L313.5 459.3L315 460.2zM316 461.9L314.4 462.8L312.9 461.9L312.9 460.1L314.4 459.2L316 460.1zM317 461.9L315.4 462.8L313.9 461.9L313.9 460.1L315.4 459.2L317 460.1zM318 462L316.4 462.9L314.8 462L314.8 460.2L316.4 459.3L318 460.2zM318.9 461.8L317.4 462.7L315.8 461.8L315.8 460L317.4 459.1L318.9 460zM319.9 461.6L318.4 462.5L316.8 461.6L316.8 459.8L318.4 458.9L319.9 459.8zM320.9 461.8L319.3 462.7L317.8 461.8L317.8 460L319.3 459.1L320.9 460zM321.9 462L320.3 462.9L318.8 462L318.8 460.2L320.3 459.3L321.9 460.2zM322.9 461.7L321.3 462.6L319.7 461.7L319.7 459.9L321.3 459L322.9 459.9zM323.8 461.7L322.3 462.6L320.7 461.7L320.7 459.9L322.3 459L323.8 459.9zM324.8 461.7L323.3 462.6L321.7 461.7L321.7 459.9L323.3 459L324.8 459.9zM325.8 461.8L324.2 462.7L322.7 461.8L322.7 460L324.2 459.1L325.8 460zM326.8 461.8L325.2 462.7L323.7 461.8L323.7 460L325.2 459.1L326.8 460zM327.8 461.8L326.2 462.7L324.6 461.8L324.6 460L326.2 459.1L327.8 460zM328.7 461.5L327.2 462.4L325.6 461.5L325.6 459.7L327.2 458.8L328.7 459.7zM329.7 461.8L328.2 462.7L326.6 461.8L326.6 460L328.2 459.1L329.7 460zM330.7 461.6L329.1 462.5L327.6 461.6L327.6 459.8L329.1 458.9L330.7 459.8zM331.7 461.5L330.1 462.4L328.6 461.5L328.6 459.7L330.1 458.8L331.7 459.7zM332.7 461.3L331.1 462.2L329.5 461.3L329.5 459.5L331.1 458.6L332.7 459.5zM333.6 461.4L332.1 462.3L330.5 461.4L330.5 459.6L332.1 458.7L333.6 459.6zM334.6 461.5L333.1 462.4L331.5 461.5L331.5 459.7L333.1 458.8L334.6 459.7zM335.6 461.6L334 462.5L332.5 461.6L332.5 459.8L334 458.9L335.6 459.8zM336.6 461.7L335 462.6L333.5 461.7L333.5 459.9L335 459L336.6 459.9zM337.6 461.6L336 462.5L334.4 461.6L334.4 459.8L336 458.9L337.6 459.8zM338.5 461.6L337 462.5L335.4 461.6L335.4 459.8L337 458.9L338.5 459.8zM339.5 461.3L338 462.2L336.4 461.3L336.4 459.5L338 458.6L339.5 459.5zM340.5 461.7L338.9 462.6L337.4 461.7L337.4 459.9L338.9 459L340.5 459.9zM341.5 461.7L339.9 462.6L338.4 461.7L338.4 459.9L339.9 459L341.5 459.9zM342.5 461.6L340.9 462.5L339.3 461.6L339.3 459.8L340.9 458.9L342.5 459.8zM343.4 461.4L341.9 462.3L340.3 461.4L340.3 459.6L341.9 458.7L343.4 459.6zM344.4 461.4L342.9 462.3L341.3 461.4L341.3 459.6L342.9 458.7L344.4 459.6zM345.4 461.3L343.8 462.2L342.3 461.3L342.3 459.5L343.8 458.6L345.4 459.5zM346.4 461.2L344.8 462.1L343.3 461.2L343.3 459.4L344.8 458.5L346.4 459.4zM347.4 461.3L345.8 462.2L344.2 461.3L344.2 459.5L345.8 458.6L347.4 459.5zM348.3 461.1L346.8 462L345.2 461.1L345.2 459.3L346.8 458.4L348.3 459.3zM349.3 461L347.8 461.9L346.2 461L346.2 459.2L347.8 458.3L349.3 459.2zM350.3 461.5L348.7 462.4L347.2 461.5L347.2 459.7L348.7 458.8L350.3 459.7zM351.3 461.5L349.7 462.4L348.2 461.5L348.2 459.7L349.7 458.8L351.3 459.7zM352.3 461.5L350.7 462.4L349.1 461.5L349.1 459.7L350.7 458.8L352.3 459.7zM353.2 461.3L351.7 462.2L350.1 461.3L350.1 459.5L351.7 458.6L353.2 459.5zM354.2 461.3L352.7 462.2L351.1 461.3L351.1 459.5L352.7 458.6L354.2 459.5zM355.2 461.4L353.6 462.3L352.1 461.4L352.1 459.6L353.6 458.7L355.2 459.6zM356.2 461.2L354.6 462.1L353.1 461.2L353.1 459.4L354.6 458.5L356.2 459.4zM357.2 460.9L355.6 461.8L354 460.9L354 459.1L355.6 458.2L357.2 459.1zM358.1 461.7L356.6 462.6L355 461.7L355 459.9L356.6 459L358.1 459.9zM359.1 461.4L357.6 462.3L356 461.4L356 459.6L357.6 458.7L359.1 459.6zM360.1 461.4L358.5 462.3L357 461.4L357 459.6L358.5 458.7L360.1 459.6zM361.1 461.1L359.5 462L358 461.1L358 459.3L359.5 458.4L361.1 459.3zM362.1 460.9L360.5 461.8L358.9 460.9L358.9 459.1L360.5 458.2L362.1 459.1zM363 461L361.5 461.9L359.9 461L359.9 459.2L361.5 458.3L363 459.2zM364 461L362.5 461.9L360.9 461L360.9 459.2L362.5 458.3L364 459.2zM365 460.6L363.4 461.5L361.9 460.6L361.9 458.8L363.4 457.9L365 458.8zM366 460.7L364.4 461.6L362.9 460.7L362.9 458.9L364.4 458L366 458.9zM367 460.8L365.4 461.7L363.8 460.8L363.8 459L365.4 458.1L367 459zM367.9 461L366.4 461.9L364.8 461L364.8 459.2L366.4 458.3L367.9 459.2zM368.9 460.8L367.4 461.7L365.8 460.8L365.8 459L367.4 458.1L368.9 459zM369.9 460.5L368.3 461.4L366.8 460.5L366.8 458.7L368.3 457.8L369.9 458.7zM370.9 460.3L369.3 461.2L367.8 460.3L367.8 458.5L369.3 457.6L370.9 458.5zM371.9 461L370.3 461.9L368.7 461L368.7 459.2L370.3 458.3L371.9 459.2zM372.8 460.7L371.3 461.6L369.7 460.7L369.7 458.9L371.3 458L372.8 458.9zM373.8 461L372.3 461.9L370.7 461L370.7 459.2L372.3 458.3L373.8 459.2zM374.8 461L373.2 461.9L371.7 461L371.7 459.2L373.2 458.3L374.8 459.2zM375.8 460.9L374.2 461.8L372.7 460.9L372.7 459.1L374.2 458.2L375.8 459.1zM376.8 461.9L375.2 462.8L373.6 461.9L373.6 460.1L375.2 459.2L376.8 460.1zM377.7 462.1L376.2 463L374.6 462.1L374.6 460.3L376.2 459.4L377.7 460.3zM378.7 462.8L377.2 463.7L375.6 462.8L375.6 461L377.2 460.1L378.7 461zM379.7 462.6L378.1 463.5L376.6 462.6L376.6 460.8L378.1 459.9L379.7 460.8zM380.7 462.2L379.1 463.1L377.6 462.2L377.6 460.4L379.1 459.5L380.7 460.4zM381.7 461.6L380.1 462.5L378.5 461.6L378.5 459.8L380.1 458.9L381.7 459.8zM382.6 460.8L381.1 461.7L379.5 460.8L379.5 459L381.1 458.1L382.6 459zM383.6 460.6L382.1 461.5L380.5 460.6L380.5 458.8L382.1 457.9L383.6 458.8zM384.6 460.5L383 461.4L381.5 460.5L381.5 458.7L383 457.8L384.6 458.7zM385.6 460.3L384 461.2L382.5 460.3L382.5 458.5L384 457.6L385.6 458.5zM386.6 460.8L385 461.7L383.4 460.8L383.4 459L385 458.1L386.6 459zM387.5 460.9L386 461.8L384.4 460.9L384.4 459.1L386 458.2L387.5 459.1zM388.5 461.2L387 462.1L385.4 461.2L385.4 459.4L387 458.5L388.5 459.4zM389.5 462.2L387.9 463.1L386.4 462.2L386.4 460.4L387.9 459.5L389.5 460.4zM390.5 462.1L388.9 463L387.4 462.1L387.4 460.3L388.9 459.4L390.5 460.3zM391.5 461.9L389.9 462.8L388.3 461.9L388.3 460.1L389.9 459.2L391.5 460.1zM392.4 461.1L390.9 462L389.3 461.1L389.3 459.3L390.9 458.4L392.4 459.3zM393.4 460.7L391.9 461.6L390.3 460.7L390.3 458.9L391.9 458L393.4 458.9zM394.4 459.3L392.8 460.2L391.3 459.3L391.3 457.5L392.8 456.6L394.4 457.5zM395.4 457.2L393.8 458.1L392.3 457.2L392.3 455.4L393.8 454.5L395.4 455.4zM396.4 456.3L394.8 457.2L393.2 456.3L393.2 454.5L394.8 453.6L396.4 454.5zM397.3 456.4L395.8 457.3L394.2 456.4L394.2 454.6L395.8 453.7L397.3 454.6zM398.3 456.1L396.8 457L395.2 456.1L395.2 454.3L396.8 453.4L398.3 454.3zM399.3 456.7L397.7 457.6L396.2 456.7L396.2 454.9L397.7 454L399.3 454.9zM400.3 457L398.7 457.9L397.2 457L397.2 455.2L398.7 454.3L400.3 455.2zM401.3 457.2L399.7 458.1L398.1 457.2L398.1 455.4L399.7 454.5L401.3 455.4zM402.2 457.9L400.7 458.8L399.1 457.9L399.1 456.1L400.7 455.2L402.2 456.1zM403.2 458.3L401.7 459.2L400.1 458.3L400.1 456.5L401.7 455.6L403.2 456.5zM404.2 459L402.6 459.9L401.1 459L401.1 457.2L402.6 456.3L404.2 457.2zM405.2 459.5L403.6 460.4L402.1 459.5L402.1 457.7L403.6 456.8L405.2 457.7zM406.2 459.7L404.6 460.6L403 459.7L403 457.9L404.6 457L406.2 457.9zM407.1 459.7L405.6 460.6L404 459.7L404 457.9L405.6 457L407.1 457.9zM408.1 459.8L406.6 460.7L405 459.8L405 458L406.6 457.1L408.1 458zM409.1 459.9L407.5 460.8L406 459.9L406 458.1L407.5 457.2L409.1 458.1zM410.1 459.8L408.5 460.7L407 459.8L407 458L408.5 457.1L410.1 458zM411.1 460L409.5 460.9L407.9 460L407.9 458.2L409.5 457.3L411.1 458.2zM412 460L410.5 460.9L408.9 460L408.9 458.2L410.5 457.3L412 458.2zM413 460.1L411.5 461L409.9 460.1L409.9 458.3L411.5 457.4L413 458.3zM414 459.9L412.4 460.8L410.9 459.9L410.9 458.1L412.4 457.2L414 458.1zM415 459.6L413.4 460.5L411.9 459.6L411.9 457.8L413.4 456.9L415 457.8zM416 459.8L414.4 460.7L412.8 459.8L412.8 458L414.4 457.1L416 458zM416.9 460.4L415.4 461.3L413.8 460.4L413.8 458.6L415.4 457.7L416.9 458.6zM417.9 460.2L416.4 461.1L414.8 460.2L414.8 458.4L416.4 457.5L417.9 458.4zM418.9 460.1L417.3 461L415.8 460.1L415.8 458.3L417.3 457.4L418.9 458.3zM419.9 460.3L418.3 461.2L416.8 460.3L416.8 458.5L418.3 457.6L419.9 458.5zM420.9 460.5L419.3 461.4L417.7 460.5L417.7 458.7L419.3 457.8L420.9 458.7zM421.8 460.7L420.3 461.6L418.7 460.7L418.7 458.9L420.3 458L421.8 458.9zM422.8 461L421.3 461.9L419.7 461L419.7 459.2L421.3 458.3L422.8 459.2zM423.8 461.4L422.2 462.3L420.7 461.4L420.7 459.6L422.2 458.7L423.8 459.6zM424.8 461.8L423.2 462.7L421.7 461.8L421.7 460L423.2 459.1L424.8 460zM425.8 461.8L424.2 462.7L422.6 461.8L422.6 460L424.2 459.1L425.8 460zM426.7 462.2L425.2 463.1L423.6 462.2L423.6 460.4L425.2 459.5L426.7 460.4zM427.7 462.9L426.2 463.8L424.6 462.9L424.6 461.1L426.2 460.2L427.7 461.1zM428.7 463.8L427.1 464.7L425.6 463.8L425.6 462L427.1 461.1L428.7 462zM429.7 464.8L428.1 465.7L426.6 464.8L426.6 463L428.1 462.1L429.7 463zM430.7 465.5L429.1 466.4L427.5 465.5L427.5 463.7L429.1 462.8L430.7 463.7zM431.6 466.8L430.1 467.7L428.5 466.8L428.5 465L430.1 464.1L431.6 465zM432.6 465.8L431.1 466.7L429.5 465.8L429.5 464L431.1 463.1L432.6 464zM433.6 462.9L432 463.8L430.5 462.9L430.5 461.1L432 460.2L433.6 461.1zM434.6 457L433 457.9L431.5 457L431.5 455.2L433 454.3L434.6 455.2zM435.6 451.8L434 452.7L432.4 451.8L432.4 450L434 449.1L435.6 450zM436.5 446.4L435 447.3L433.4 446.4L433.4 444.6L435 443.7L436.5 444.6zM437.5 441.2L436 442.1L434.4 441.2L434.4 439.4L436 438.5L437.5 439.4zM438.5 438.1L436.9 439L435.4 438.1L435.4 436.3L436.9 435.4L438.5 436.3zM439.5 442.1L437.9 443L436.4 442.1L436.4 440.3L437.9 439.4L439.5 440.3zM440.5 447.9L438.9 448.8L437.3 447.9L437.3 446.1L438.9 445.2L440.5 446.1zM441.4 453.4L439.9 454.3L438.3 453.4L438.3 451.6L439.9 450.7L441.4 451.6zM442.4 456.3L440.9 457.2L439.3 456.3L439.3 454.5L440.9 453.6L442.4 454.5zM443.4 457.8L441.8 458.7L440.3 457.8L440.3 456L441.8 455.1L443.4 456zM444.4 458.8L442.8 459.7L441.3 458.8L441.3 457L442.8 456.1L444.4 457zM445.4 459L443.8 459.9L442.2 459L442.2 457.2L443.8 456.3L445.4 457.2zM446.3 459.1L444.8 460L443.2 459.1L443.2 457.3L444.8 456.4L446.3 457.3zM447.3 459.2L445.8 460.1L444.2 459.2L444.2 457.4L445.8 456.5L447.3 457.4zM448.3 459.4L446.7 460.3L445.2 459.4L445.2 457.6L446.7 456.7L448.3 457.6zM449.3 459.4L447.7 460.3L446.2 459.4L446.2 457.6L447.7 456.7L449.3 457.6zM450.3 459.6L448.7 460.5L447.1 459.6L447.1 457.8L448.7 456.9L450.3 457.8zM451.2 459.3L449.7 460.2L448.1 459.3L448.1 457.5L449.7 456.6L451.2 457.5zM452.2 459.2L450.7 460.1L449.1 459.2L449.1 457.4L450.7 456.5L452.2 457.4zM453.2 459.2L451.6 460.1L450.1 459.2L450.1 457.4L451.6 456.5L453.2 457.4zM454.2 459.1L452.6 460L451.1 459.1L451.1 457.3L452.6 456.4L454.2 457.3zM455.2 459.3L453.6 460.2L452 459.3L452 457.5L453.6 456.6L455.2 457.5zM456.1 459.3L454.6 460.2L453 459.3L453 457.5L454.6 456.6L456.1 457.5zM457.1 459.8L455.6 460.7L454 459.8L454 458L455.6 457.1L457.1 458zM458.1 459.5L456.5 460.4L455 459.5L455 457.7L456.5 456.8L458.1 457.7zM459.1 459.8L457.5 460.7L456 459.8L456 458L457.5 457.1L459.1 458zM460.1 459L458.5 459.9L456.9 459L456.9 457.2L458.5 456.3L460.1 457.2zM461 459.5L459.5 460.4L457.9 459.5L457.9 457.7L459.5 456.8L461 457.7zM462 459.6L460.5 460.5L458.9 459.6L458.9 457.8L460.5 456.9L462 457.8zM463 459.5L461.4 460.4L459.9 459.5L459.9 457.7L461.4 456.8L463 457.7zM464 459.3L462.4 460.2L460.9 459.3L460.9 457.5L462.4 456.6L464 457.5zM465 459.5L463.4 460.4L461.8 459.5L461.8 457.7L463.4 456.8L465 457.7zM465.9 459.4L464.4 460.3L462.8 459.4L462.8 457.6L464.4 456.7L465.9 457.6zM466.9 459.4L465.4 460.3L463.8 459.4L463.8 457.6L465.4 456.7L466.9 457.6zM467.9 459.5L466.3 460.4L464.8 459.5L464.8 457.7L466.3 456.8L467.9 457.7zM468.9 459.6L467.3 460.5L465.8 459.6L465.8 457.8L467.3 456.9L468.9 457.8zM469.9 459.5L468.3 460.4L466.7 459.5L466.7 457.7L468.3 456.8L469.9 457.7zM470.8 459.5L469.3 460.4L467.7 459.5L467.7 457.7L469.3 456.8L470.8 457.7zM471.8 459.4L470.3 460.3L468.7 459.4L468.7 457.6L470.3 456.7L471.8 457.6zM472.8 459.5L471.2 460.4L469.7 459.5L469.7 457.7L471.2 456.8L472.8 457.7zM473.8 459.3L472.2 460.2L470.7 459.3L470.7 457.5L472.2 456.6L473.8 457.5zM474.8 459.5L473.2 460.4L471.6 459.5L471.6 457.7L473.2 456.8L474.8 457.7zM475.7 459.4L474.2 460.3L472.6 459.4L472.6 457.6L474.2 456.7L475.7 457.6zM476.7 459.6L475.2 460.5L473.6 459.6L473.6 457.8L475.2 456.9L476.7 457.8zM477.7 459.3L476.1 460.2L474.6 459.3L474.6 457.5L476.1 456.6L477.7 457.5zM478.7 459.4L477.1 460.3L475.6 459.4L475.6 457.6L477.1 456.7L478.7 457.6zM479.7 459.4L478.1 460.3L476.5 459.4L476.5 457.6L478.1 456.7L479.7 457.6zM480.6 459.2L479.1 460.1L477.5 459.2L477.5 457.4L479.1 456.5L480.6 457.4zM481.6 459.6L480.1 460.5L478.5 459.6L478.5 457.8L480.1 456.9L481.6 457.8zM482.6 459.5L481 460.4L479.5 459.5L479.5 457.7L481 456.8L482.6 457.7zM483.6 459.4L482 460.3L480.5 459.4L480.5 457.6L482 456.7L483.6 457.6zM484.6 459.7L483 460.6L481.4 459.7L481.4 457.9L483 457L484.6 457.9zM485.5 459.4L484 460.3L482.4 459.4L482.4 457.6L484 456.7L485.5 457.6zM486.5 459.4L485 460.3L483.4 459.4L483.4 457.6L485 456.7L486.5 457.6zM487.5 459.6L485.9 460.5L484.4 459.6L484.4 457.8L485.9 456.9L487.5 457.8zM488.5 459.9L486.9 460.8L485.4 459.9L485.4 458.1L486.9 457.2L488.5 458.1zM489.5 459.4L487.9 460.3L486.3 459.4L486.3 457.6L487.9 456.7L489.5 457.6zM490.4 459.7L488.9 460.6L487.3 459.7L487.3 457.9L488.9 457L490.4 457.9zM491.4 459.5L489.9 460.4L488.3 459.5L488.3 457.7L489.9 456.8L491.4 457.7zM492.4 459.3L490.8 460.2L489.3 459.3L489.3 457.5L490.8 456.6L492.4 457.5zM493.4 459.5L491.8 460.4L490.3 459.5L490.3 457.7L491.8 456.8L493.4 457.7zM494.4 459.7L492.8 460.6L491.2 459.7L491.2 457.9L492.8 457L494.4 457.9zM495.3 459.5L493.8 460.4L492.2 459.5L492.2 457.7L493.8 456.8L495.3 457.7zM496.3 459.5L494.8 460.4L493.2 459.5L493.2 457.7L494.8 456.8L496.3 457.7zM497.3 459.2L495.7 460.1L494.2 459.2L494.2 457.4L495.7 456.5L497.3 457.4zM498.3 459L496.7 459.9L495.2 459L495.2 457.2L496.7 456.3L498.3 457.2zM499.3 459.5L497.7 460.4L496.1 459.5L496.1 457.7L497.7 456.8L499.3 457.7zM500.2 459.1L498.7 460L497.1 459.1L497.1 457.3L498.7 456.4L500.2 457.3zM501.2 459.4L499.7 460.3L498.1 459.4L498.1 457.6L499.7 456.7L501.2 457.6zM502.2 459.3L500.6 460.2L499.1 459.3L499.1 457.5L500.6 456.6L502.2 457.5zM503.2 459.4L501.6 460.3L500.1 459.4L500.1 457.6L501.6 456.7L503.2 457.6zM504.2 459.6L502.6 460.5L501 459.6L501 457.8L502.6 456.9L504.2 457.8zM505.1 459.1L503.6 460L502 459.1L502 457.3L503.6 456.4L505.1 457.3zM506.1 459.4L504.6 460.3L503 459.4L503 457.6L504.6 456.7L506.1 457.6zM507.1 459.4L505.5 460.3L504 459.4L504 457.6L505.5 456.7L507.1 457.6zM508.1 459.6L506.5 460.5L505 459.6L505 457.8L506.5 456.9L508.1 457.8zM509.1 459.4L507.5 460.3L505.9 459.4L505.9 457.6L507.5 456.7L509.1 457.6zM510 459.2L508.5 460.1L506.9 459.2L506.9 457.4L508.5 456.5L510 457.4zM511 459.2L509.5 460.1L507.9 459.2L507.9 457.4L509.5 456.5L511 457.4zM512 459.7L510.4 460.6L508.9 459.7L508.9 457.9L510.4 457L512 457.9zM513 459.2L511.4 460.1L509.9 459.2L509.9 457.4L511.4 456.5L513 457.4zM514 459.3L512.4 460.2L510.8 459.3L510.8 457.5L512.4 456.6L514 457.5zM514.9 459.4L513.4 460.3L511.8 459.4L511.8 457.6L513.4 456.7L514.9 457.6zM515.9 459.1L514.4 460L512.8 459.1L512.8 457.3L514.4 456.4L515.9 457.3zM516.9 459.1L515.3 460L513.8 459.1L513.8 457.3L515.3 456.4L516.9 457.3zM517.9 458.9L516.3 459.8L514.8 458.9L514.8 457.1L516.3 456.2L517.9 457.1zM518.9 459.1L517.3 460L515.7 459.1L515.7 457.3L517.3 456.4L518.9 457.3zM519.8 459.4L518.3 460.3L516.7 459.4L516.7 457.6L518.3 456.7L519.8 457.6zM520.8 459.3L519.3 460.2L517.7 459.3L517.7 457.5L519.3 456.6L520.8 457.5zM521.8 458.9L520.2 459.8L518.7 458.9L518.7 457.1L520.2 456.2L521.8 457.1zM522.8 459.5L521.2 460.4L519.7 459.5L519.7 457.7L521.2 456.8L522.8 457.7zM523.8 459L522.2 459.9L520.6 459L520.6 457.2L522.2 456.3L523.8 457.2zM524.7 459L523.2 459.9L521.6 459L521.6 457.2L523.2 456.3L524.7 457.2zM525.7 459.5L524.2 460.4L522.6 459.5L522.6 457.7L524.2 456.8L525.7 457.7zM526.7 459.3L525.1 460.2L523.6 459.3L523.6 457.5L525.1 456.6L526.7 457.5zM527.7 459.1L526.1 460L524.6 459.1L524.6 457.3L526.1 456.4L527.7 457.3zM528.7 459.4L527.1 460.3L525.5 459.4L525.5 457.6L527.1 456.7L528.7 457.6zM529.6 459.1L528.1 460L526.5 459.1L526.5 457.3L528.1 456.4L529.6 457.3zM530.6 459.2L529.1 460.1L527.5 459.2L527.5 457.4L529.1 456.5L530.6 457.4zM531.6 459L530 459.9L528.5 459L528.5 457.2L530 456.3L531.6 457.2zM532.6 459L531 459.9L529.5 459L529.5 457.2L531 456.3L532.6 457.2zM533.6 459L532 459.9L530.4 459L530.4 457.2L532 456.3L533.6 457.2zM534.5 459.3L533 460.2L531.4 459.3L531.4 457.5L533 456.6L534.5 457.5zM535.5 458.9L534 459.8L532.4 458.9L532.4 457.1L534 456.2L535.5 457.1zM536.5 459L534.9 459.9L533.4 459L533.4 457.2L534.9 456.3L536.5 457.2zM537.5 458.6L535.9 459.5L534.4 458.6L534.4 456.8L535.9 455.9L537.5 456.8zM538.5 458.6L536.9 459.5L535.3 458.6L535.3 456.8L536.9 455.9L538.5 456.8zM539.4 459.1L537.9 460L536.3 459.1L536.3 457.3L537.9 456.4L539.4 457.3zM540.4 458.9L538.9 459.8L537.3 458.9L537.3 457.1L538.9 456.2L540.4 457.1zM541.4 458.8L539.8 459.7L538.3 458.8L538.3 457L539.8 456.1L541.4 457z" stroke="#0072BD" stroke-width="0.7" fill="none"/>
<path d="M295.1 461.8h3.4l-1.7 -2.6zM296.1 460.7h3.4l-1.7 -2.6zM297.1 460h3.4l-1.7 -2.6zM298 459.4h3.4l-1.7 -2.6zM299 459h3.4l-1.7 -2.6zM300 459.5h3.4l-1.7 -2.6zM301 459.6h3.4l-1.7 -2.6zM302 459.6h3.4l-1.7 -2.6zM302.9 459.3h3.4l-1.7 -2.6zM303.9 459.3h3.4l-1.7 -2.6zM304.9 459.3h3.4l-1.7 -2.6zM305.9 459.5h3.4l-1.7 -2.6zM306.9 459.5h3.4l-1.7 -2.6zM307.8 459.1h3.4l-1.7 -2.6zM308.8 459.2h3.4l-1.7 -2.6zM309.8 459.2h3.4l-1.7 -2.6zM310.8 459.1h3.4l-1.7 -2.6zM311.8 459.1h3.4l-1.7 -2.6zM312.7 459.1h3.4l-1.7 -2.6zM313.7 458.7h3.4l-1.7 -2.6zM314.7 459.2h3.4l-1.7 -2.6zM315.7 459.1h3.4l-1.7 -2.6zM316.7 458.9h3.4l-1.7 -2.6zM317.6 459.1h3.4l-1.7 -2.6zM318.6 459h3.4l-1.7 -2.6zM319.6 459.3h3.4l-1.7 -2.6zM320.6 458.9h3.4l-1.7 -2.6zM321.6 459.1h3.4l-1.7 -2.6zM322.5 459.1h3.4l-1.7 -2.6zM323.5 458.9h3.4l-1.7 -2.6zM324.5 458.8h3.4l-1.7 -2.6zM325.5 459.1h3.4l-1.7 -2.6zM326.5 459h3.4l-1.7 -2.6zM327.4 458.9h3.4l-1.7 -2.6zM328.4 458.7h3.4l-1.7 -2.6zM329.4 459.1h3.4l-1.7 -2.6zM330.4 459.3h3.4l-1.7 -2.6zM331.4 458.9h3.4l-1.7 -2.6zM332.3 459.1h3.4l-1.7 -2.6zM333.3 459.2h3.4l-1.7 -2.6zM334.3 459.2h3.4l-1.7 -2.6zM335.3 458.8h3.4l-1.7 -2.6zM336.3 459.1h3.4l-1.7 -2.6zM337.2 459.1h3.4l-1.7 -2.6zM338.2 459.4h3.4l-1.7 -2.6zM339.2 458.9h3.4l-1.7 -2.6zM340.2 459.1h3.4l-1.7 -2.6zM341.2 459h3.4l-1.7 -2.6zM342.1 458.9h3.4l-1.7 -2.6zM343.1 458.6h3.4l-1.7 -2.6zM344.1 458.8h3.4l-1.7 -2.6zM345.1 458.9h3.4l-1.7 -2.6zM346.1 458.5h3.4l-1.7 -2.6zM347 458.6h3.4l-1.7 -2.6zM348 458.3h3.4l-1.7 -2.6zM349 458.5h3.4l-1.7 -2.6zM350 458.5h3.4l-1.7 -2.6zM351 458.5h3.4l-1.7 -2.6zM351.9 458.3h3.4l-1.7 -2.6zM352.9 458.3h3.4l-1.7 -2.6zM353.9 458.2h3.4l-1.7 -2.6zM354.9 458.4h3.4l-1.7 -2.6zM355.9 458.4h3.4l-1.7 -2.6zM356.8 458.8h3.4l-1.7 -2.6zM357.8 458.3h3.4l-1.7 -2.6zM358.8 458.5h3.4l-1.7 -2.6zM359.8 458.3h3.4l-1.7 -2.6zM360.8 458.3h3.4l-1.7 -2.6zM361.7 458.7h3.4l-1.7 -2.6zM362.7 458.6h3.4l-1.7 -2.6zM363.7 458.6h3.4l-1.7 -2.6zM364.7 458.2h3.4l-1.7 -2.6zM365.7 459h3.4l-1.7 -2.6zM366.6 458.9h3.4l-1.7 -2.6zM367.6 458.4h3.4l-1.7 -2.6zM368.6 458.3h3.4l-1.7 -2.6zM369.6 458.4h3.4l-1.7 -2.6zM370.6 458.6h3.4l-1.7 -2.6zM371.5 458.3h3.4l-1.7 -2.6zM372.5 458.5h3.4l-1.7 -2.6zM373.5 458.3h3.4l-1.7 -2.6zM374.5 459h3.4l-1.7 -2.6zM375.5 458.3h3.4l-1.7 -2.6zM376.4 458.3h3.4l-1.7 -2.6zM377.4 458.7h3.4l-1.7 -2.6zM378.4 458.3h3.4l-1.7 -2.6zM379.4 458.2h3.4l-1.7 -2.6zM380.4 458.2h3.4l-1.7 -2.6zM381.3 458.2h3.4l-1.7 -2.6zM382.3 458h3.4l-1.7 -2.6zM383.3 458.1h3.4l-1.7 -2.6zM384.3 457.9h3.4l-1.7 -2.6zM385.3 457.7h3.4l-1.7 -2.6zM386.2 457.8h3.4l-1.7 -2.6zM387.2 457.9h3.4l-1.7 -2.6zM388.2 458.1h3.4l-1.7 -2.6zM389.2 457.9h3.4l-1.7 -2.6zM390.2 457.7h3.4l-1.7 -2.6zM391.1 457.8h3.4l-1.7 -2.6zM392.1 457.8h3.4l-1.7 -2.6zM393.1 457.3h3.4l-1.7 -2.6zM394.1 457.6h3.4l-1.7 -2.6zM395.1 457.2h3.4l-1.7 -2.6zM396 457.3h3.4l-1.7 -2.6zM397 457.4h3.4l-1.7 -2.6zM398 457.5h3.4l-1.7 -2.6zM399 457.5h3.4l-1.7 -2.6zM400 457.5h3.4l-1.7 -2.6zM400.9 457.7h3.4l-1.7 -2.6zM401.9 457.5h3.4l-1.7 -2.6zM402.9 457.4h3.4l-1.7 -2.6zM403.9 457.2h3.4l-1.7 -2.6zM404.9 457.6h3.4l-1.7 -2.6zM405.8 457.4h3.4l-1.7 -2.6zM406.8 457h3.4l-1.7 -2.6zM407.8 457h3.4l-1.7 -2.6zM408.8 457.2h3.4l-1.7 -2.6zM409.8 457.1h3.4l-1.7 -2.6zM410.7 456.8h3.4l-1.7 -2.6zM411.7 457h3.4l-1.7 -2.6zM412.7 456.5h3.4l-1.7 -2.6zM413.7 456.6h3.4l-1.7 -2.6zM414.7 456.7h3.4l-1.7 -2.6zM415.6 456.3h3.4l-1.7 -2.6zM416.6 456.4h3.4l-1.7 -2.6zM417.6 456.2h3.4l-1.7 -2.6zM418.6 456.1h3.4l-1.7 -2.6zM419.6 455.6h3.4l-1.7 -2.6zM420.5 455.6h3.4l-1.7 -2.6zM421.5 455.4h3.4l-1.7 -2.6zM422.5 455.1h3.4l-1.7 -2.6zM423.5 455h3.4l-1.7 -2.6zM424.5 454.8h3.4l-1.7 -2.6zM425.4 454.3h3.4l-1.7 -2.6zM426.4 454.1h3.4l-1.7 -2.6zM427.4 454.1h3.4l-1.7 -2.6zM428.4 453.5h3.4l-1.7 -2.6zM429.4 452.4h3.4l-1.7 -2.6zM430.3 450.8h3.4l-1.7 -2.6zM431.3 448.7h3.4l-1.7 -2.6zM432.3 444.6h3.4l-1.7 -2.6zM433.3 441.4h3.4l-1.7 -2.6zM434.3 432.8h3.4l-1.7 -2.6zM435.2 424h3.4l-1.7 -2.6zM436.2 423.9h3.4l-1.7 -2.6zM437.2 434h3.4l-1.7 -2.6zM438.2 439h3.4l-1.7 -2.6zM439.2 442.7h3.4l-1.7 -2.6zM440.1 445.3h3.4l-1.7 -2.6zM441.1 447.8h3.4l-1.7 -2.6zM442.1 450.8h3.4l-1.7 -2.6zM443.1 453h3.4l-1.7 -2.6zM444.1 454.5h3.4l-1.7 -2.6zM445 455.2h3.4l-1.7 -2.6zM446 456h3.4l-1.7 -2.6zM447 456.6h3.4l-1.7 -2.6zM448 457.1h3.4l-1.7 -2.6zM449 457h3.4l-1.7 -2.6zM449.9 457.6h3.4l-1.7 -2.6zM450.9 457.3h3.4l-1.7 -2.6zM451.9 458.2h3.4l-1.7 -2.6zM452.9 457.8h3.4l-1.7 -2.6zM453.9 458h3.4l-1.7 -2.6zM454.8 458.3h3.4l-1.7 -2.6zM455.8 458.3h3.4l-1.7 -2.6zM456.8 458.3h3.4l-1.7 -2.6zM457.8 458.1h3.4l-1.7 -2.6zM458.8 458.6h3.4l-1.7 -2.6zM459.7 458.6h3.4l-1.7 -2.6zM460.7 458.4h3.4l-1.7 -2.6zM461.7 458.3h3.4l-1.7 -2.6zM462.7 458.6h3.4l-1.7 -2.6zM463.7 458.7h3.4l-1.7 -2.6zM464.6 458.2h3.4l-1.7 -2.6zM465.6 458.3h3.4l-1.7 -2.6zM466.6 458.6h3.4l-1.7 -2.6zM467.6 458.4h3.4l-1.7 -2.6zM468.6 458.5h3.4l-1.7 -2.6zM469.5 458.6h3.4l-1.7 -2.6zM470.5 458.8h3.4l-1.7 -2.6zM471.5 458.8h3.4l-1.7 -2.6zM472.5 458.8h3.4l-1.7 -2.6zM473.5 458.8h3.4l-1.7 -2.6zM474.4 458.5h3.4l-1.7 -2.6zM475.4 458.2h3.4l-1.7 -2.6zM476.4 458.7h3.4l-1.7 -2.6zM477.4 458.7h3.4l-1.7 -2.6zM478.4 458.8h3.4l-1.7 -2.6zM479.3 458.5h3.4l-1.7 -2.6zM480.3 459.1h3.4l-1.7 -2.6zM481.3 458.4h3.4l-1.7 -2.6zM482.3 458.9h3.4l-1.7 -2.6zM483.3 458.8h3.4l-1.7 -2.6zM484.2 458.9h3.4l-1.7 -2.6zM485.2 459h3.4l-1.7 -2.6zM486.2 458.8h3.4l-1.7 -2.6zM487.2 458.8h3.4l-1.7 -2.6zM488.2 458.7h3.4l-1.7 -2.6zM489.1 458.9h3.4l-1.7 -2.6zM490.1 458.8h3.4l-1.7 -2.6zM491.1 458.9h3.4l-1.7 -2.6zM492.1 458.5h3.4l-1.7 -2.6zM493.1 458.4h3.4l-1.7 -2.6zM494 458.7h3.4l-1.7 -2.6zM495 458.8h3.4l-1.7 -2.6zM496 458.4h3.4l-1.7 -2.6zM497 458.5h3.4l-1.7 -2.6zM498 458.7h3.4l-1.7 -2.6zM498.9 458.8h3.4l-1.7 -2.6zM499.9 458.8h3.4l-1.7 -2.6zM500.9 458.9h3.4l-1.7 -2.6zM501.9 458.7h3.4l-1.7 -2.6zM502.9 458.8h3.4l-1.7 -2.6zM503.8 459h3.4l-1.7 -2.6zM504.8 458.7h3.4l-1.7 -2.6zM505.8 459.2h3.4l-1.7 -2.6zM506.8 458.7h3.4l-1.7 -2.6zM507.8 458.8h3.4l-1.7 -2.6zM508.7 458.4h3.4l-1.7 -2.6zM509.7 458.7h3.4l-1.7 -2.6zM510.7 458.6h3.4l-1.7 -2.6zM511.7 458.6h3.4l-1.7 -2.6zM512.7 458.8h3.4l-1.7 -2.6zM513.6 458.5h3.4l-1.7 -2.6zM514.6 458.8h3.4l-1.7 -2.6zM515.6 458.3h3.4l-1.7 -2.6zM516.6 458.6h3.4l-1.7 -2.6zM517.6 459h3.4l-1.7 -2.6zM518.5 458.7h3.4l-1.7 -2.6zM519.5 458.8h3.4l-1.7 -2.6zM520.5 458.5h3.4l-1.7 -2.6zM521.5 458.4h3.4l-1.7 -2.6zM522.5 458.9h3.4l-1.7 -2.6zM523.4 458.9h3.4l-1.7 -2.6zM524.4 458.8h3.4l-1.7 -2.6zM525.4 458.7h3.4l-1.7 -2.6zM526.4 458.9h3.4l-1.7 -2.6zM527.4 458.6h3.4l-1.7 -2.6zM528.3 458.8h3.4l-1.7 -2.6zM529.3 458.8h3.4l-1.7 -2.6zM530.3 458.4h3.4l-1.7 -2.6zM531.3 458.9h3.4l-1.7 -2.6zM532.3 458.6h3.4l-1.7 -2.6zM533.2 458.8h3.4l-1.7 -2.6zM534.2 458.3h3.4l-1.7 -2.6zM535.2 458.3h3.4l-1.7 -2.6zM536.2 458.5h3.4l-1.7 -2.6zM537.2 458.7h3.4l-1.7 -2.6zM538.1 458.8h3.4l-1.7 -2.6z" stroke="#D95319" stroke-width="0.7" fill="none"/>
<path d="M296.8 460.1h0.01M297.8 458h0.01M298.8 456.7h0.01M299.7 456.2h0.01M300.7 456h0.01M301.7 455.9h0.01M302.7 455.7h0.01M303.7 455.8h0.01M304.6 455.4h0.01M305.6 455.5h0.01M306.6 455.7h0.01M307.6 455.4h0.01M308.6 455.6h0.01M309.5 455.5h0.01M310.5 455.4h0.01M311.5 455.6h0.01M312.5 455.5h0.01M313.5 455.3h0.01M314.4 455.3h0.01M315.4 455.4h0.01M316.4 455.1h0.01M317.4 455.5h0.01M318.4 455.2h0.01M319.3 455h0.01M320.3 455h0.01M321.3 455.4h0.01M322.3 455.2h0.01M323.3 455.4h0.01M324.2 455.1h0.01M325.2 455.1h0.01M326.2 455.3h0.01M327.2 455.3h0.01M328.2 454.8h0.01M329.1 455h0.01M330.1 454.7h0.01M331.1 454.8h0.01M332.1 454.5h0.01M333.1 454.8h0.01M334 454.5h0.01M335 454.5h0.01M336 454.8h0.01M337 454.5h0.01M338 454.3h0.01M338.9 453.6h0.01M339.9 453.2h0.01M340.9 452.7h0.01M341.9 453.6h0.01M342.9 454.3h0.01M343.8 454.3h0.01M344.8 454.2h0.01M345.8 454.3h0.01M346.8 454.2h0.01M347.8 454.1h0.01M348.7 454.2h0.01M349.7 454.5h0.01M350.7 454.2h0.01M351.7 454.2h0.01M352.7 454.3h0.01M353.6 454h0.01M354.6 454h0.01M355.6 454h0.01M356.6 454.2h0.01M357.6 454.1h0.01M358.5 454h0.01M359.5 453.9h0.01M360.5 454.2h0.01M361.5 454.2h0.01M362.5 454.1h0.01M363.4 453.9h0.01M364.4 454h0.01M365.4 453.8h0.01M366.4 453.8h0.01M367.4 453.7h0.01M368.3 453.5h0.01M369.3 453.5h0.01M370.3 453.6h0.01M371.3 453.8h0.01M372.3 453.4h0.01M373.2 453.3h0.01M374.2 453.5h0.01M375.2 453.4h0.01M376.2 453.1h0.01M377.2 453.1h0.01M378.1 453h0.01M379.1 453.1h0.01M380.1 453.4h0.01M381.1 452.8h0.01M382.1 452.9h0.01M383 452.7h0.01M384 452.8h0.01M385 452.7h0.01M386 452.6h0.01M387 452.4h0.01M387.9 452.4h0.01M388.9 452.6h0.01M389.9 452.4h0.01M390.9 452.4h0.01M391.9 452.4h0.01M392.8 452.2h0.01M393.8 452.4h0.01M394.8 452.1h0.01M395.8 452h0.01M396.8 452h0.01M397.7 452.1h0.01M398.7 452.4h0.01M399.7 452h0.01M400.7 452h0.01M401.7 452.1h0.01M402.6 451.8h0.01M403.6 451.6h0.01M404.6 451.7h0.01M405.6 451.7h0.01M406.6 451.5h0.01M407.5 451.7h0.01M408.5 451.7h0.01M409.5 452h0.01M410.5 451.8h0.01M411.5 451.6h0.01M412.4 451.5h0.01M413.4 451.4h0.01M414.4 451.2h0.01M415.4 451.4h0.01M416.4 451.1h0.01M417.3 451.3h0.01M418.3 451.5h0.01M419.3 451.2h0.01M420.3 451.2h0.01M421.3 451h0.01M422.2 450.7h0.01M423.2 450.9h0.01M424.2 450.7h0.01M425.2 450.6h0.01M426.2 450.4h0.01M427.1 450.3h0.01M428.1 449.9h0.01M429.1 449.8h0.01M430.1 449.5h0.01M431.1 448.6h0.01M432 447.7h0.01M433 441.2h0.01M434 428.8h0.01M435 414.5h0.01M436 404.5h0.01M436.9 393.1h0.01M437.9 384.5h0.01M438.9 417.6h0.01M439.9 431h0.01M440.9 437.4h0.01M441.8 441.7h0.01M442.8 445.7h0.01M443.8 449.9h0.01M444.8 451.9h0.01M445.8 453.4h0.01M446.7 454.9h0.01M447.7 455.4h0.01M448.7 455.6h0.01M449.7 456.1h0.01M450.7 456.5h0.01M451.6 456.9h0.01M452.6 456.9h0.01M453.6 457h0.01M454.6 457.2h0.01M455.6 457h0.01M456.5 457.1h0.01M457.5 457.5h0.01M458.5 457.4h0.01M459.5 457.4h0.01M460.5 457.3h0.01M461.4 457.3h0.01M462.4 457.5h0.01M463.4 457.5h0.01M464.4 457.7h0.01M465.4 457.4h0.01M466.3 457.5h0.01M467.3 457.4h0.01M468.3 457.3h0.01M469.3 457.7h0.01M470.3 457.6h0.01M471.2 457.4h0.01M472.2 457.1h0.01M473.2 457.3h0.01M474.2 457.3h0.01M475.2 457.1h0.01M476.1 456.9h0.01M477.1 457.4h0.01M478.1 456.9h0.01M479.1 457.2h0.01M480.1 456.9h0.01M481 456.9h0.01M482 457h0.01M483 456.6h0.01M484 456.7h0.01M485 456.6h0.01M485.9 456.7h0.01M486.9 456.6h0.01M487.9 456.4h0.01M488.9 456.1h0.01M489.9 456.4h0.01M490.8 456.1h0.01M491.8 456.1h0.01M492.8 455.7h0.01M493.8 455.9h0.01M494.8 455.9h0.01M495.7 455.7h0.01M496.7 455.8h0.01M497.7 455.8h0.01M498.7 455.8h0.01M499.7 455.4h0.01M500.6 455.2h0.01M501.6 455h0.01M502.6 455.3h0.01M503.6 455h0.01M504.6 455.3h0.01M505.5 454.9h0.01M506.5 455.3h0.01M507.5 455.1h0.01M508.5 454.8h0.01M509.5 455h0.01M510.4 455.1h0.01M511.4 455h0.01M512.4 454.9h0.01M513.4 454.9h0.01M514.4 454.9h0.01M515.3 454.7h0.01M516.3 454.8h0.01M517.3 454.5h0.01M518.3 454.8h0.01M519.3 454.5h0.01M520.2 454.6h0.01M521.2 454.4h0.01M522.2 454.7h0.01M523.2 454.5h0.01M524.2 454.3h0.01M525.1 454.5h0.01M526.1 454.4h0.01M527.1 454.5h0.01M528.1 454.4h0.01M529.1 454.3h0.01M530 454.3h0.01M531 454.1h0.01M532 454.4h0.01M533 454.4h0.01M534 454.1h0.01M534.9 454.3h0.01M535.9 454.4h0.01M536.9 454.3h0.01M537.9 454.4h0.01M538.9 454.3h0.01M539.8 454.1h0.01" stroke="#EDB120" stroke-width="2.2" stroke-linecap="round" fill="none"/>
<path d="M296.8 448.6l1.4 2.1 -1.4 2.1 -1.4 -2.1zM297.8 448.3l1.4 2.1 -1.4 2.1 -1.4 -2.1zM298.8 448.3l1.4 2.1 -1.4 2.1 -1.4 -2.1zM299.7 448.8l1.4 2.1 -1.4 2.1 -1.4 -2.1zM300.7 448.5l1.4 2.1 -1.4 2.1 -1.4 -2.1zM301.7 449l1.4 2.1 -1.4 2.1 -1.4 -2.1zM302.7 448.8l1.4 2.1 -1.4 2.1 -1.4 -2.1zM303.7 449.3l1.4 2.1 -1.4 2.1 -1.4 -2.1zM304.6 449.5l1.4 2.1 -1.4 2.1 -1.4 -2.1zM305.6 449.3l1.4 2.1 -1.4 2.1 -1.4 -2.1zM306.6 449.7l1.4 2.1 -1.4 2.1 -1.4 -2.1zM307.6 449.9l1.4 2.1 -1.4 2.1 -1.4 -2.1zM308.6 449.9l1.4 2.1 -1.4 2.1 -1.4 -2.1zM309.5 450.3l1.4 2.1 -1.4 2.1 -1.4 -2.1zM310.5 450.3l1.4 2.1 -1.4 2.1 -1.4 -2.1zM311.5 450.5l1.4 2.1 -1.4 2.1 -1.4 -2.1zM312.5 450.6l1.4 2.1 -1.4 2.1 -1.4 -2.1zM313.5 451.1l1.4 2.1 -1.4 2.1 -1.4 -2.1zM314.4 451.5l1.4 2.1 -1.4 2.1 -1.4 -2.1zM315.4 451.8l1.4 2.1 -1.4 2.1 -1.4 -2.1zM316.4 452.1l1.4 2.1 -1.4 2.1 -1.4 -2.1zM317.4 452.6l1.4 2.1 -1.4 2.1 -1.4 -2.1zM318.4 452.9l1.4 2.1 -1.4 2.1 -1.4 -2.1zM319.3 453.8l1.4 2.1 -1.4 2.1 -1.4 -2.1zM320.3 453.7l1.4 2.1 -1.4 2.1 -1.4 -2.1zM321.3 454.5l1.4 2.1 -1.4 2.1 -1.4 -2.1zM322.3 454.9l1.4 2.1 -1.4 2.1 -1.4 -2.1zM323.3 455.4l1.4 2.1 -1.4 2.1 -1.4 -2.1zM324.2 456.4l1.4 2.1 -1.4 2.1 -1.4 -2.1zM325.2 456.7l1.4 2.1 -1.4 2.1 -1.4 -2.1zM326.2 456.9l1.4 2.1 -1.4 2.1 -1.4 -2.1zM327.2 457.7l1.4 2.1 -1.4 2.1 -1.4 -2.1zM328.2 458.1l1.4 2.1 -1.4 2.1 -1.4 -2.1zM329.1 459.1l1.4 2.1 -1.4 2.1 -1.4 -2.1zM330.1 459.2l1.4 2.1 -1.4 2.1 -1.4 -2.1zM331.1 459.9l1.4 2.1 -1.4 2.1 -1.4 -2.1zM332.1 460.5l1.4 2.1 -1.4 2.1 -1.4 -2.1zM333.1 461.1l1.4 2.1 -1.4 2.1 -1.4 -2.1zM334 462l1.4 2.1 -1.4 2.1 -1.4 -2.1zM335 462.8l1.4 2.1 -1.4 2.1 -1.4 -2.1zM336 463.6l1.4 2.1 -1.4 2.1 -1.4 -2.1zM337 464.1l1.4 2.1 -1.4 2.1 -1.4 -2.1zM338 464.8l1.4 2.1 -1.4 2.1 -1.4 -2.1zM338.9 465.6l1.4 2.1 -1.4 2.1 -1.4 -2.1zM339.9 465.9l1.4 2.1 -1.4 2.1 -1.4 -2.1zM340.9 466.7l1.4 2.1 -1.4 2.1 -1.4 -2.1zM341.9 466.3l1.4 2.1 -1.4 2.1 -1.4 -2.1zM342.9 466.6l1.4 2.1 -1.4 2.1 -1.4 -2.1zM343.8 466l1.4 2.1 -1.4 2.1 -1.4 -2.1zM344.8 465.7l1.4 2.1 -1.4 2.1 -1.4 -2.1zM345.8 465.1l1.4 2.1 -1.4 2.1 -1.4 -2.1zM346.8 464.5l1.4 2.1 -1.4 2.1 -1.4 -2.1zM347.8 464l1.4 2.1 -1.4 2.1 -1.4 -2.1zM348.7 462.8l1.4 2.1 -1.4 2.1 -1.4 -2.1zM349.7 461.9l1.4 2.1 -1.4 2.1 -1.4 -2.1zM350.7 461.2l1.4 2.1 -1.4 2.1 -1.4 -2.1zM351.7 460.6l1.4 2.1 -1.4 2.1 -1.4 -2.1zM352.7 460.1l1.4 2.1 -1.4 2.1 -1.4 -2.1zM353.6 459.8l1.4 2.1 -1.4 2.1 -1.4 -2.1zM354.6 459l1.4 2.1 -1.4 2.1 -1.4 -2.1zM355.6 458.3l1.4 2.1 -1.4 2.1 -1.4 -2.1zM356.6 457.7l1.4 2.1 -1.4 2.1 -1.4 -2.1zM357.6 457.2l1.4 2.1 -1.4 2.1 -1.4 -2.1zM358.5 456.2l1.4 2.1 -1.4 2.1 -1.4 -2.1zM359.5 455.8l1.4 2.1 -1.4 2.1 -1.4 -2.1zM360.5 454.9l1.4 2.1 -1.4 2.1 -1.4 -2.1zM361.5 454.2l1.4 2.1 -1.4 2.1 -1.4 -2.1zM362.5 453.9l1.4 2.1 -1.4 2.1 -1.4 -2.1zM363.4 453.2l1.4 2.1 -1.4 2.1 -1.4 -2.1zM364.4 452.5l1.4 2.1 -1.4 2.1 -1.4 -2.1zM365.4 451.7l1.4 2.1 -1.4 2.1 -1.4 -2.1zM366.4 451.3l1.4 2.1 -1.4 2.1 -1.4 -2.1zM367.4 451l1.4 2.1 -1.4 2.1 -1.4 -2.1zM368.3 450l1.4 2.1 -1.4 2.1 -1.4 -2.1zM369.3 449.4l1.4 2.1 -1.4 2.1 -1.4 -2.1zM370.3 448.8l1.4 2.1 -1.4 2.1 -1.4 -2.1zM371.3 448.5l1.4 2.1 -1.4 2.1 -1.4 -2.1zM372.3 447.7l1.4 2.1 -1.4 2.1 -1.4 -2.1zM373.2 447.9l1.4 2.1 -1.4 2.1 -1.4 -2.1zM374.2 447l1.4 2.1 -1.4 2.1 -1.4 -2.1zM375.2 446.6l1.4 2.1 -1.4 2.1 -1.4 -2.1zM376.2 446.4l1.4 2.1 -1.4 2.1 -1.4 -2.1zM377.2 445.7l1.4 2.1 -1.4 2.1 -1.4 -2.1zM378.1 445.4l1.4 2.1 -1.4 2.1 -1.4 -2.1zM379.1 445.1l1.4 2.1 -1.4 2.1 -1.4 -2.1zM380.1 445l1.4 2.1 -1.4 2.1 -1.4 -2.1zM381.1 445.1l1.4 2.1 -1.4 2.1 -1.4 -2.1zM382.1 444.4l1.4 2.1 -1.4 2.1 -1.4 -2.1zM383 444.8l1.4 2.1 -1.4 2.1 -1.4 -2.1zM384 444.3l1.4 2.1 -1.4 2.1 -1.4 -2.1zM385 444.2l1.4 2.1 -1.4 2.1 -1.4 -2.1zM386 443.8l1.4 2.1 -1.4 2.1 -1.4 -2.1zM387 443.2l1.4 2.1 -1.4 2.1 -1.4 -2.1zM387.9 443.1l1.4 2.1 -1.4 2.1 -1.4 -2.1zM388.9 443.4l1.4 2.1 -1.4 2.1 -1.4 -2.1zM389.9 442.9l1.4 2.1 -1.4 2.1 -1.4 -2.1zM390.9 442.9l1.4 2.1 -1.4 2.1 -1.4 -2.1zM391.9 442.7l1.4 2.1 -1.4 2.1 -1.4 -2.1zM392.8 442.8l1.4 2.1 -1.4 2.1 -1.4 -2.1zM393.8 442.6l1.4 2.1 -1.4 2.1 -1.4 -2.1zM394.8 442.2l1.4 2.1 -1.4 2.1 -1.4 -2.1zM395.8 442l1.4 2.1 -1.4 2.1 -1.4 -2.1zM396.8 442l1.4 2.1 -1.4 2.1 -1.4 -2.1zM397.7 441.4l1.4 2.1 -1.4 2.1 -1.4 -2.1zM398.7 441.3l1.4 2.1 -1.4 2.1 -1.4 -2.1zM399.7 441l1.4 2.1 -1.4 2.1 -1.4 -2.1zM400.7 441l1.4 2.1 -1.4 2.1 -1.4 -2.1zM401.7 440.7l1.4 2.1 -1.4 2.1 -1.4 -2.1zM402.6 441l1.4 2.1 -1.4 2.1 -1.4 -2.1zM403.6 440.6l1.4 2.1 -1.4 2.1 -1.4 -2.1zM404.6 440.9l1.4 2.1 -1.4 2.1 -1.4 -2.1zM405.6 440.3l1.4 2.1 -1.4 2.1 -1.4 -2.1zM406.6 440.2l1.4 2.1 -1.4 2.1 -1.4 -2.1zM407.5 439.8l1.4 2.1 -1.4 2.1 -1.4 -2.1zM408.5 439.7l1.4 2.1 -1.4 2.1 -1.4 -2.1zM409.5 439.5l1.4 2.1 -1.4 2.1 -1.4 -2.1zM410.5 439.1l1.4 2.1 -1.4 2.1 -1.4 -2.1zM411.5 439l1.4 2.1 -1.4 2.1 -1.4 -2.1zM412.4 438.6l1.4 2.1 -1.4 2.1 -1.4 -2.1zM413.4 438.5l1.4 2.1 -1.4 2.1 -1.4 -2.1zM414.4 438.2l1.4 2.1 -1.4 2.1 -1.4 -2.1zM415.4 438.3l1.4 2.1 -1.4 2.1 -1.4 -2.1zM416.4 437.6l1.4 2.1 -1.4 2.1 -1.4 -2.1zM417.3 437.3l1.4 2.1 -1.4 2.1 -1.4 -2.1zM418.3 437.3l1.4 2.1 -1.4 2.1 -1.4 -2.1zM419.3 436.7l1.4 2.1 -1.4 2.1 -1.4 -2.1zM420.3 436.1l1.4 2.1 -1.4 2.1 -1.4 -2.1zM421.3 435.7l1.4 2.1 -1.4 2.1 -1.4 -2.1zM422.2 435.4l1.4 2.1 -1.4 2.1 -1.4 -2.1zM423.2 434.9l1.4 2.1 -1.4 2.1 -1.4 -2.1zM424.2 434.7l1.4 2.1 -1.4 2.1 -1.4 -2.1zM425.2 434.1l1.4 2.1 -1.4 2.1 -1.4 -2.1zM426.2 433.6l1.4 2.1 -1.4 2.1 -1.4 -2.1zM427.1 433.5l1.4 2.1 -1.4 2.1 -1.4 -2.1zM428.1 432.6l1.4 2.1 -1.4 2.1 -1.4 -2.1zM429.1 430.4l1.4 2.1 -1.4 2.1 -1.4 -2.1zM430.1 427.7l1.4 2.1 -1.4 2.1 -1.4 -2.1zM431.1 422.6l1.4 2.1 -1.4 2.1 -1.4 -2.1zM432 419.3l1.4 2.1 -1.4 2.1 -1.4 -2.1zM433 407.8l1.4 2.1 -1.4 2.1 -1.4 -2.1zM434 397.9l1.4 2.1 -1.4 2.1 -1.4 -2.1zM435 382.6l1.4 2.1 -1.4 2.1 -1.4 -2.1zM436 378.3l1.4 2.1 -1.4 2.1 -1.4 -2.1zM436.9 357.9l1.4 2.1 -1.4 2.1 -1.4 -2.1zM437.9 337.7l1.4 2.1 -1.4 2.1 -1.4 -2.1zM438.9 370.1l1.4 2.1 -1.4 2.1 -1.4 -2.1zM439.9 423.1l1.4 2.1 -1.4 2.1 -1.4 -2.1zM440.9 433.5l1.4 2.1 -1.4 2.1 -1.4 -2.1zM441.8 441.7l1.4 2.1 -1.4 2.1 -1.4 -2.1zM442.8 446.2l1.4 2.1 -1.4 2.1 -1.4 -2.1zM443.8 449.6l1.4 2.1 -1.4 2.1 -1.4 -2.1zM444.8 451.1l1.4 2.1 -1.4 2.1 -1.4 -2.1zM445.8 452l1.4 2.1 -1.4 2.1 -1.4 -2.1zM446.7 453.1l1.4 2.1 -1.4 2.1 -1.4 -2.1zM447.7 453.8l1.4 2.1 -1.4 2.1 -1.4 -2.1zM448.7 454.2l1.4 2.1 -1.4 2.1 -1.4 -2.1zM449.7 454.5l1.4 2.1 -1.4 2.1 -1.4 -2.1zM450.7 454.9l1.4 2.1 -1.4 2.1 -1.4 -2.1zM451.6 454.9l1.4 2.1 -1.4 2.1 -1.4 -2.1zM452.6 455.3l1.4 2.1 -1.4 2.1 -1.4 -2.1zM453.6 455.4l1.4 2.1 -1.4 2.1 -1.4 -2.1zM454.6 455.6l1.4 2.1 -1.4 2.1 -1.4 -2.1zM455.6 455.9l1.4 2.1 -1.4 2.1 -1.4 -2.1zM456.5 455.6l1.4 2.1 -1.4 2.1 -1.4 -2.1zM457.5 455.9l1.4 2.1 -1.4 2.1 -1.4 -2.1zM458.5 456.1l1.4 2.1 -1.4 2.1 -1.4 -2.1zM459.5 456.5l1.4 2.1 -1.4 2.1 -1.4 -2.1zM460.5 456.3l1.4 2.1 -1.4 2.1 -1.4 -2.1zM461.4 456.1l1.4 2.1 -1.4 2.1 -1.4 -2.1zM462.4 456.5l1.4 2.1 -1.4 2.1 -1.4 -2.1zM463.4 456.3l1.4 2.1 -1.4 2.1 -1.4 -2.1zM464.4 456.1l1.4 2.1 -1.4 2.1 -1.4 -2.1zM465.4 456.2l1.4 2.1 -1.4 2.1 -1.4 -2.1zM466.3 456.5l1.4 2.1 -1.4 2.1 -1.4 -2.1zM467.3 456.4l1.4 2.1 -1.4 2.1 -1.4 -2.1zM468.3 456.1l1.4 2.1 -1.4 2.1 -1.4 -2.1zM469.3 456l1.4 2.1 -1.4 2.1 -1.4 -2.1zM470.3 456.3l1.4 2.1 -1.4 2.1 -1.4 -2.1zM471.2 456l1.4 2.1 -1.4 2.1 -1.4 -2.1zM472.2 456.1l1.4 2.1 -1.4 2.1 -1.4 -2.1zM473.2 456.4l1.4 2.1 -1.4 2.1 -1.4 -2.1zM474.2 456l1.4 2.1 -1.4 2.1 -1.4 -2.1zM475.2 456.1l1.4 2.1 -1.4 2.1 -1.4 -2.1zM476.1 456.3l1.4 2.1 -1.4 2.1 -1.4 -2.1zM477.1 456.2l1.4 2.1 -1.4 2.1 -1.4 -2.1zM478.1 456.5l1.4 2.1 -1.4 2.1 -1.4 -2.1zM479.1 456.2l1.4 2.1 -1.4 2.1 -1.4 -2.1zM480.1 456.3l1.4 2.1 -1.4 2.1 -1.4 -2.1zM481 456.3l1.4 2.1 -1.4 2.1 -1.4 -2.1zM482 456.1l1.4 2.1 -1.4 2.1 -1.4 -2.1zM483 456.4l1.4 2.1 -1.4 2.1 -1.4 -2.1zM484 456.4l1.4 2.1 -1.4 2.1 -1.4 -2.1zM485 456.1l1.4 2.1 -1.4 2.1 -1.4 -2.1zM485.9 456.1l1.4 2.1 -1.4 2.1 -1.4 -2.1zM486.9 456.1l1.4 2.1 -1.4 2.1 -1.4 -2.1zM487.9 456.4l1.4 2.1 -1.4 2.1 -1.4 -2.1zM488.9 456.2l1.4 2.1 -1.4 2.1 -1.4 -2.1zM489.9 456.1l1.4 2.1 -1.4 2.1 -1.4 -2.1zM490.8 455.9l1.4 2.1 -1.4 2.1 -1.4 -2.1zM491.8 456.2l1.4 2.1 -1.4 2.1 -1.4 -2.1zM492.8 455.9l1.4 2.1 -1.4 2.1 -1.4 -2.1zM493.8 456.3l1.4 2.1 -1.4 2.1 -1.4 -2.1zM494.8 456l1.4 2.1 -1.4 2.1 -1.4 -2.1zM495.7 455.9l1.4 2.1 -1.4 2.1 -1.4 -2.1zM496.7 456.3l1.4 2.1 -1.4 2.1 -1.4 -2.1zM497.7 456.2l1.4 2.1 -1.4 2.1 -1.4 -2.1zM498.7 456.2l1.4 2.1 -1.4 2.1 -1.4 -2.1zM499.7 455.9l1.4 2.1 -1.4 2.1 -1.4 -2.1zM500.6 456.3l1.4 2.1 -1.4 2.1 -1.4 -2.1zM501.6 456.2l1.4 2.1 -1.4 2.1 -1.4 -2.1zM502.6 456.1l1.4 2.1 -1.4 2.1 -1.4 -2.1zM503.6 456.3l1.4 2.1 -1.4 2.1 -1.4 -2.1zM504.6 456.3l1.4 2.1 -1.4 2.1 -1.4 -2.1zM505.5 456.1l1.4 2.1 -1.4 2.1 -1.4 -2.1zM506.5 456.4l1.4 2.1 -1.4 2.1 -1.4 -2.1zM507.5 456.2l1.4 2.1 -1.4 2.1 -1.4 -2.1zM508.5 456l1.4 2.1 -1.4 2.1 -1.4 -2.1zM509.5 456.2l1.4 2.1 -1.4 2.1 -1.4 -2.1zM510.4 456.1l1.4 2.1 -1.4 2.1 -1.4 -2.1zM511.4 456.3l1.4 2.1 -1.4 2.1 -1.4 -2.1zM512.4 456.1l1.4 2.1 -1.4 2.1 -1.4 -2.1zM513.4 456l1.4 2.1 -1.4 2.1 -1.4 -2.1zM514.4 456l1.4 2.1 -1.4 2.1 -1.4 -2.1zM515.3 456.1l1.4 2.1 -1.4 2.1 -1.4 -2.1zM516.3 455.7l1.4 2.1 -1.4 2.1 -1.4 -2.1zM517.3 455.7l1.4 2.1 -1.4 2.1 -1.4 -2.1zM518.3 455.9l1.4 2.1 -1.4 2.1 -1.4 -2.1zM519.3 456l1.4 2.1 -1.4 2.1 -1.4 -2.1zM520.2 456l1.4 2.1 -1.4 2.1 -1.4 -2.1zM521.2 455.8l1.4 2.1 -1.4 2.1 -1.4 -2.1zM522.2 455.6l1.4 2.1 -1.4 2.1 -1.4 -2.1zM523.2 455.4l1.4 2.1 -1.4 2.1 -1.4 -2.1zM524.2 455.8l1.4 2.1 -1.4 2.1 -1.4 -2.1zM525.1 455.7l1.4 2.1 -1.4 2.1 -1.4 -2.1zM526.1 455.9l1.4 2.1 -1.4 2.1 -1.4 -2.1zM527.1 456l1.4 2.1 -1.4 2.1 -1.4 -2.1zM528.1 455.6l1.4 2.1 -1.4 2.1 -1.4 -2.1zM529.1 456l1.4 2.1 -1.4 2.1 -1.4 -2.1zM530 455.6l1.4 2.1 -1.4 2.1 -1.4 -2.1zM531 455.7l1.4 2.1 -1.4 2.1 -1.4 -2.1zM532 455.7l1.4 2.1 -1.4 2.1 -1.4 -2.1zM533 455.3l1.4 2.1 -1.4 2.1 -1.4 -2.1zM534 456.1l1.4 2.1 -1.4 2.1 -1.4 -2.1zM534.9 455.6l1.4 2.1 -1.4 2.1 -1.4 -2.1zM535.9 455.8l1.4 2.1 -1.4 2.1 -1.4 -2.1zM536.9 455.5l1.4 2.1 -1.4 2.1 -1.4 -2.1zM537.9 455.3l1.4 2.1 -1.4 2.1 -1.4 -2.1zM538.9 455.3l1.4 2.1 -1.4 2.1 -1.4 -2.1zM539.8 455.3l1.4 2.1 -1.4 2.1 -1.4 -2.1z" stroke="#7E2F8E" stroke-width="0.7" fill="none"/>
<path d="M296.8 294.2V510H540.6" stroke="#b0b0b0" stroke-width="1.2" fill="none"/>
<path d="M296.8 510v-2.2M345.6 510v-2.2M394.3 510v-2.2M443.1 510v-2.2M491.8 510v-2.2M540.6 510v-2.2M296.8 510h2.2M296.8 474h2.2M296.8 438.1h2.2M296.8 402.1h2.2M296.8 366.1h2.2M296.8 330.2h2.2M296.8 294.2h2.2" stroke="#b0b0b0" stroke-width="0.8" fill="none"/>
<text x="296.8" y="524.1" font-size="9.1" text-anchor="middle" font-family="'Liberation Serif', 'Times New Roman', serif" font-weight="bold" font-style="italic" stroke="#1a1a1a" stroke-width="0.3" text-rendering="geometricPrecision" fill="#1a1a1a">-1</text>
<text x="345.6" y="524.1" font-size="9.1" text-anchor="middle" font-family="'Liberation Serif', 'Times New Roman', serif" font-weight="bold" font-style="italic" stroke="#1a1a1a" stroke-width="0.3" text-rendering="geometricPrecision" fill="#1a1a1a">-0.8</text>
<text x="394.3" y="524.1" font-size="9.1" text-anchor="middle" font-family="'Liberation Serif', 'Times New Roman', serif" font-weight="bold" font-style="italic" stroke="#1a1a1a" stroke-width="0.3" text-rendering="geometricPrecision" fill="#1a1a1a">-0.6</text>
<text x="443.1" y="524.1" font-size="9.1" text-anchor="middle" font-family="'Liberation Serif', 'Times New Roman', serif" font-weight="bold" font-style="italic" stroke="#1a1a1a" stroke-width="0.3" text-rendering="geometricPrecision" fill="#1a1a1a">-0.4</text>
<text x="491.8" y="524.1" font-size="9.1" text-anchor="middle" font-family="'Liberation Serif', 'Times New Roman', serif" font-weight="bold" font-style="italic" stroke="#1a1a1a" stroke-width="0.3" text-rendering="geometricPrecision" fill="#1a1a1a">-0.2</text>
<text x="540.6" y="524.1" font-size="9.1" text-anchor="middle" font-family="'Liberation Serif', 'Times New Roman', serif" font-weight="bold" font-style="italic" stroke="#1a1a1a" stroke-width="0.3" text-rendering="geometricPrecision" fill="#1a1a1a">0</text>
<text x="293.5" y="513.6" font-size="9.1" text-anchor="end" font-family="'Liberation Serif', 'Times New Roman', serif" font-weight="bold" font-style="italic" stroke="#1a1a1a" stroke-width="0.3" text-rendering="geometricPrecision" fill="#1a1a1a">1.5</text>
<text x="293.5" y="477.6" font-size="9.1" text-anchor="end" font-family="'Liberation Serif', 'Times New Roman', serif" font-weight="bold" font-style="italic" stroke="#1a1a1a" stroke-width="0.3" text-rendering="geometricPrecision" fill="#1a1a1a">2</text>
<text x="293.5" y="441.7" font-size="9.1" text-anchor="end" font-family="'Liberation Serif', 'Times New Roman', serif" font-weight="bold" font-style="italic" stroke="#1a1a1a" stroke-width="0.3" text-rendering="geometricPrecision" fill="#1a1a1a">2.5</text>
<text x="293.5" y="405.7" font-size="9.1" text-anchor="end" font-family="'Liberation Serif', 'Times New Roman', serif" font-weight="bold" font-style="italic" stroke="#1a1a1a" stroke-width="0.3" text-rendering="geometricPrecision" fill="#1a1a1a">3</text>
<text x="293.5" y="369.7" font-size="9.1" text-anchor="end" font-family="'Liberation Serif', 'Times New Roman', serif" font-weight="bold" font-style="italic" stroke="#1a1a1a" stroke-width="0.3" text-rendering="geometricPrecision" fill="#1a1a1a">3.5</text>
<text x="293.5" y="333.8" font-size="9.1" text-anchor="end" font-family="'Liberation Serif', 'Times New Roman', serif" font-weight="bold" font-style="italic" stroke="#1a1a1a" stroke-width="0.3" text-rendering="geometricPrecision" fill="#1a1a1a">4</text>
<text x="293.5" y="297.8" font-size="9.1" text-anchor="end" font-family="'Liberation Serif', 'Times New Roman', serif" font-weight="bold" font-style="italic" stroke="#1a1a1a" stroke-width="0.3" text-rendering="geometricPrecision" fill="#1a1a1a">4.5</text>
<text x="298.1" y="293.8" font-size="12.3" font-family="'Liberation Serif', serif" fill="#1a1a1a" stroke="#1a1a1a" stroke-width="0.25">&#215;</text>
<text x="305.5" y="291.5" font-size="8.8" font-family="'Liberation Serif', 'Times New Roman', serif" font-weight="bold" font-style="italic" stroke="#1a1a1a" stroke-width="0.3" text-rendering="geometricPrecision" fill="#1a1a1a" textLength="8.8" lengthAdjust="spacingAndGlyphs">10</text>
<text x="314.3" y="287.6" font-size="7.5" font-family="'Liberation Serif', 'Times New Roman', serif" font-weight="bold" font-style="italic" stroke="#1a1a1a" stroke-width="0.3" text-rendering="geometricPrecision" fill="#1a1a1a" textLength="7.9" lengthAdjust="spacingAndGlyphs">-3</text>
<text x="423.3" y="533.8" font-size="9.9" text-anchor="middle" font-family="'Liberation Serif', 'Times New Roman', serif" font-weight="bold" font-style="italic" stroke="#1a1a1a" stroke-width="0.3" text-rendering="geometricPrecision" fill="#1a1a1a">Potential(V)</text>
<text x="412.8" y="545.2" font-size="11.4" text-anchor="middle" font-family="'Liberation Serif', 'Times New Roman', serif" font-weight="bold" font-style="italic" stroke="#1a1a1a" stroke-width="0.3" text-rendering="geometricPrecision" fill="#1a1a1a">(d)</text>
<rect x="490.8" y="298.3" width="46.1" height="61.1" fill="#fff" stroke="#b0b0b0" stroke-width="0.9"/>
<path d="M490.8 311H536.9" stroke="#b0b0b0" stroke-width="0.9"/>
<text x="514.1" y="308.6" font-size="9.5" text-anchor="middle" font-family="'Liberation Serif', 'Times New Roman', serif" font-weight="bold" font-style="italic" stroke="#1a1a1a" stroke-width="0.3" text-rendering="geometricPrecision" fill="#1a1a1a">Cd</text>
<path d="M501.5 318.2L500.1 319L498.7 318.2L498.7 316.6L500.1 315.8L501.5 316.6z" stroke="#0072BD" stroke-width="0.7" fill="none"/>
<text x="509" y="320.6" font-size="9.8" text-anchor="start" font-family="'Liberation Serif', 'Times New Roman', serif" font-weight="bold" font-style="italic" stroke="#1a1a1a" stroke-width="0.3" text-rendering="geometricPrecision" fill="#1a1a1a">0.2g/L</text>
<path d="M498.5 329.7h3.2l-1.6 -2.5z" stroke="#D95319" stroke-width="0.7" fill="none"/>
<text x="509" y="332" font-size="9.8" text-anchor="start" font-family="'Liberation Serif', 'Times New Roman', serif" font-weight="bold" font-style="italic" stroke="#1a1a1a" stroke-width="0.3" text-rendering="geometricPrecision" fill="#1a1a1a">0.5g/L</text>
<circle cx="500.1" cy="340.9" r="1.1" fill="#EDB120"/>
<text x="509" y="344.1" font-size="9.8" text-anchor="start" font-family="'Liberation Serif', 'Times New Roman', serif" font-weight="bold" font-style="italic" stroke="#1a1a1a" stroke-width="0.3" text-rendering="geometricPrecision" fill="#1a1a1a">1g/L</text>
<path d="M500.1 350.6l1.3 1.8 -1.3 1.8 -1.3 -1.8z" stroke="#7E2F8E" stroke-width="0.7" fill="none"/>
<text x="509" y="355.6" font-size="9.8" text-anchor="start" font-family="'Liberation Serif', 'Times New Roman', serif" font-weight="bold" font-style="italic" stroke="#1a1a1a" stroke-width="0.3" text-rendering="geometricPrecision" fill="#1a1a1a">2g/L</text>
<rect x="277.8" y="381.3" width="1.4" height="1.6" fill="#999"/><rect x="277.8" y="389.8" width="1.4" height="1.6" fill="#aaa"/></svg>
</body></html>
